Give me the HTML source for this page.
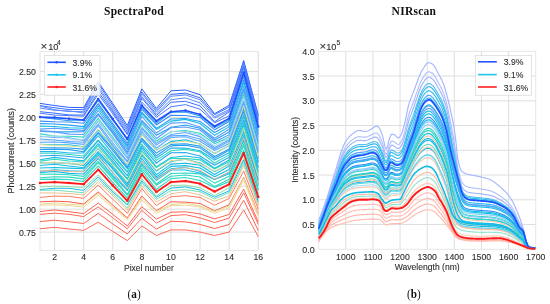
<!DOCTYPE html><html><head><meta charset="utf-8"><style>html,body{margin:0;padding:0;background:#fff;width:550px;height:304px;overflow:hidden}svg{display:block}</style></head><body>
<svg width="550" height="304" viewBox="0 0 550 304" font-family="Liberation Sans, Arial, sans-serif">
<rect width="550" height="304" fill="#fff"/>
<text x="134" y="15" text-anchor="middle" font-family="Liberation Serif, serif" font-weight="bold" font-size="11.5" letter-spacing="0.33" fill="#111">SpectraPod</text>
<text x="413.9" y="15" text-anchor="middle" font-family="Liberation Serif, serif" font-weight="bold" font-size="11.5" letter-spacing="0.25" fill="#111">NIRscan</text>
<g stroke="#dedede" stroke-width="1.0" fill="none">
<line x1="54.55" y1="51.40" x2="54.55" y2="250.40"/>
<line x1="83.65" y1="51.40" x2="83.65" y2="250.40"/>
<line x1="112.75" y1="51.40" x2="112.75" y2="250.40"/>
<line x1="141.85" y1="51.40" x2="141.85" y2="250.40"/>
<line x1="170.95" y1="51.40" x2="170.95" y2="250.40"/>
<line x1="200.05" y1="51.40" x2="200.05" y2="250.40"/>
<line x1="229.15" y1="51.40" x2="229.15" y2="250.40"/>
<line x1="258.25" y1="51.40" x2="258.25" y2="250.40"/>
<line x1="40.00" y1="232.12" x2="258.25" y2="232.12"/>
<line x1="40.00" y1="209.16" x2="258.25" y2="209.16"/>
<line x1="40.00" y1="186.20" x2="258.25" y2="186.20"/>
<line x1="40.00" y1="163.24" x2="258.25" y2="163.24"/>
<line x1="40.00" y1="140.28" x2="258.25" y2="140.28"/>
<line x1="40.00" y1="117.32" x2="258.25" y2="117.32"/>
<line x1="40.00" y1="94.36" x2="258.25" y2="94.36"/>
<line x1="40.00" y1="71.40" x2="258.25" y2="71.40"/>
<rect x="40.00" y="51.40" width="218.25" height="199.00" stroke="#e6e6e6"/>
</g>
<g fill="none" stroke-linejoin="round">
<polyline points="40.00,103.40 54.55,105.50 69.10,107.40 83.65,107.60 98.20,81.80 112.75,103.50 127.30,125.50 141.85,88.90 156.40,108.40 170.95,90.80 185.50,90.00 200.05,94.70 214.60,113.70 229.15,105.30 243.70,60.50 258.25,115.00" stroke="#2a60ff" stroke-width="1.00"/>
<polyline points="40.00,105.61 54.55,107.74 69.10,109.55 83.65,109.56 98.20,83.59 112.75,105.51 127.30,127.89 141.85,91.89 156.40,110.25 170.95,94.38 185.50,93.13 200.05,97.85 214.60,114.68 229.15,107.04 243.70,62.11 258.25,116.52" stroke="#3a70ff" stroke-width="1.00"/>
<polyline points="40.00,105.98 54.55,109.78 69.10,111.62 83.65,111.36 98.20,86.45 112.75,108.09 127.30,129.60 141.85,93.81 156.40,112.05 170.95,96.27 185.50,94.97 200.05,99.78 214.60,116.72 229.15,109.44 243.70,63.99 258.25,118.28" stroke="#5a88ff" stroke-width="1.00"/>
<polyline points="40.00,108.06 54.55,110.29 69.10,110.87 83.65,112.97 98.20,88.57 112.75,110.20 127.30,131.46 141.85,96.60 156.40,113.99 170.95,99.67 185.50,97.93 200.05,102.86 214.60,118.17 229.15,110.93 243.70,65.99 258.25,120.02" stroke="#5a88ff" stroke-width="1.00"/>
<polyline points="40.00,111.73 54.55,113.13 69.10,114.90 83.65,115.08 98.20,91.80 112.75,111.82 127.30,133.74 141.85,98.22 156.40,115.54 170.95,102.25 185.50,101.33 200.05,105.88 214.60,121.80 229.15,111.86 243.70,66.69 258.25,121.90" stroke="#3a70ff" stroke-width="1.00"/>
<polyline points="40.00,113.17 54.55,115.12 69.10,115.60 83.65,116.22 98.20,94.11 112.75,113.78 127.30,134.71 141.85,102.16 156.40,117.25 170.95,106.76 185.50,104.62 200.05,109.21 214.60,122.80 229.15,115.85 243.70,68.32 258.25,124.25" stroke="#4a7cff" stroke-width="1.00"/>
<polyline points="40.00,117.52 54.55,118.96 69.10,120.70 83.65,120.46 98.20,100.49 112.75,119.86 127.30,139.63 141.85,107.01 156.40,123.34 170.95,112.17 185.50,111.99 200.05,116.04 214.60,127.51 229.15,119.98 243.70,73.21 258.25,127.86" stroke="#2a9ef0" stroke-width="1.10"/>
<polyline points="40.00,121.15 54.55,121.79 69.10,122.06 83.65,123.32 98.20,103.69 112.75,123.53 127.30,143.25 141.85,109.15 156.40,125.00 170.95,115.19 185.50,115.44 200.05,117.45 214.60,129.70 229.15,121.49 243.70,76.58 258.25,130.84" stroke="#3a8cf5" stroke-width="1.10"/>
<polyline points="40.00,123.62 54.55,123.98 69.10,125.16 83.65,126.59 98.20,105.71 112.75,125.63 127.30,145.36 141.85,112.20 156.40,128.35 170.95,118.97 185.50,118.48 200.05,121.43 214.60,132.44 229.15,124.62 243.70,80.25 258.25,133.88" stroke="#2a9ef0" stroke-width="1.10"/>
<polyline points="40.00,126.10 54.55,126.46 69.10,127.82 83.65,128.31 98.20,108.05 112.75,127.96 127.30,147.08 141.85,113.59 156.40,129.47 170.95,121.11 185.50,119.36 200.05,123.52 214.60,135.34 229.15,126.86 243.70,82.53 258.25,134.59" stroke="#16bde8" stroke-width="1.10"/>
<polyline points="40.00,129.12 54.55,128.25 69.10,129.40 83.65,130.34 98.20,110.52 112.75,130.34 127.30,149.44 141.85,116.32 156.40,132.99 170.95,123.08 185.50,122.47 200.05,127.07 214.60,138.30 229.15,129.31 243.70,86.27 258.25,137.34" stroke="#5a9cff" stroke-width="1.10"/>
<polyline points="40.00,130.85 54.55,131.58 69.10,131.91 83.65,131.66 98.20,113.70 112.75,132.13 127.30,152.08 141.85,120.42 156.40,135.15 170.95,127.17 185.50,125.00 200.05,128.32 214.60,140.05 229.15,132.00 243.70,89.57 258.25,141.46" stroke="#2a9ef0" stroke-width="1.10"/>
<polyline points="40.00,131.56 54.55,131.84 69.10,134.14 83.65,134.47 98.20,114.91 112.75,133.69 127.30,154.12 141.85,121.98 156.40,138.45 170.95,127.74 185.50,127.00 200.05,130.06 214.60,141.98 229.15,134.65 243.70,90.86 258.25,143.86" stroke="#5a9cff" stroke-width="1.10"/>
<polyline points="40.00,133.86 54.55,135.94 69.10,136.23 83.65,137.15 98.20,118.41 112.75,137.28 127.30,156.65 141.85,123.65 156.40,141.00 170.95,131.77 185.50,130.50 200.05,133.25 214.60,143.67 229.15,136.88 243.70,94.49 258.25,145.77" stroke="#2fd8c0" stroke-width="1.10"/>
<polyline points="40.00,136.29 54.55,137.50 69.10,137.80 83.65,140.47 98.20,121.14 112.75,139.34 127.30,158.28 141.85,127.37 156.40,143.20 170.95,134.44 185.50,132.44 200.05,136.64 214.60,147.48 229.15,139.80 243.70,97.19 258.25,148.96" stroke="#5aa8ff" stroke-width="1.10"/>
<polyline points="40.00,139.04 54.55,140.07 69.10,141.49 83.65,142.28 98.20,124.04 112.75,142.74 127.30,161.31 141.85,128.85 156.40,145.12 170.95,135.78 185.50,135.33 200.05,138.95 214.60,148.95 229.15,141.24 243.70,101.38 258.25,151.47" stroke="#5aa8ff" stroke-width="1.10"/>
<polyline points="40.00,142.21 54.55,141.97 69.10,142.92 83.65,144.35 98.20,125.76 112.75,145.24 127.30,161.89 141.85,131.69 156.40,148.21 170.95,137.42 185.50,136.70 200.05,141.18 214.60,150.57 229.15,143.49 243.70,103.02 258.25,152.84" stroke="#5aa8ff" stroke-width="1.10"/>
<polyline points="40.00,144.34 54.55,144.75 69.10,144.74 83.65,146.89 98.20,129.82 112.75,146.38 127.30,165.34 141.85,134.19 156.40,150.38 170.95,141.58 185.50,139.80 200.05,143.93 214.60,153.53 229.15,145.60 243.70,106.47 258.25,156.63" stroke="#16bde8" stroke-width="1.10"/>
<polyline points="40.00,147.69 54.55,147.88 69.10,148.06 83.65,149.17 98.20,132.38 112.75,148.41 127.30,167.60 141.85,138.30 156.40,153.04 170.95,144.37 185.50,143.81 200.05,146.12 214.60,156.53 229.15,149.05 243.70,108.84 258.25,158.73" stroke="#2a9ef0" stroke-width="1.10"/>
<polyline points="40.00,149.45 54.55,149.21 69.10,149.66 83.65,151.70 98.20,133.14 112.75,150.68 127.30,168.55 141.85,138.82 156.40,155.80 170.95,145.89 185.50,145.10 200.05,147.92 214.60,158.18 229.15,150.20 243.70,111.51 258.25,161.94" stroke="#2a9ef0" stroke-width="1.10"/>
<polyline points="40.00,151.67 54.55,151.56 69.10,153.04 83.65,152.84 98.20,135.72 112.75,153.79 127.30,171.75 141.85,140.89 156.40,157.92 170.95,148.15 185.50,147.96 200.05,150.80 214.60,160.07 229.15,152.71 243.70,115.19 258.25,162.88" stroke="#22b4ee" stroke-width="1.10"/>
<polyline points="40.00,153.31 54.55,153.18 69.10,154.43 83.65,155.94 98.20,140.01 112.75,155.96 127.30,172.26 141.85,144.28 156.40,160.40 170.95,150.76 185.50,149.36 200.05,151.70 214.60,163.00 229.15,154.87 243.70,117.88 258.25,166.84" stroke="#2fd8c0" stroke-width="1.10"/>
<polyline points="40.00,156.03 54.55,155.32 69.10,156.45 83.65,157.99 98.20,140.76 112.75,158.33 127.30,175.57 141.85,146.27 156.40,163.02 170.95,152.73 185.50,152.47 200.05,156.05 214.60,165.19 229.15,157.24 243.70,120.51 258.25,167.71" stroke="#2aa8f0" stroke-width="1.10"/>
<polyline points="40.00,159.71 54.55,157.37 69.10,159.19 83.65,160.88 98.20,143.63 112.75,161.21 127.30,178.67 141.85,148.26 156.40,166.93 170.95,157.45 185.50,156.04 200.05,158.06 214.60,168.29 229.15,160.00 243.70,123.82 258.25,170.60" stroke="#16bde8" stroke-width="1.10"/>
<polyline points="40.00,161.09 54.55,159.22 69.10,160.94 83.65,161.96 98.20,145.67 112.75,163.21 127.30,179.44 141.85,150.93 156.40,167.54 170.95,158.36 185.50,158.48 200.05,159.83 214.60,168.99 229.15,161.70 243.70,126.27 258.25,172.95" stroke="#2fd8c0" stroke-width="1.10"/>
<polyline points="40.00,162.82 54.55,162.75 69.10,163.39 83.65,165.53 98.20,148.28 112.75,166.17 127.30,182.91 141.85,153.95 156.40,171.03 170.95,161.40 185.50,159.30 200.05,163.04 214.60,171.65 229.15,164.09 243.70,129.83 258.25,175.38" stroke="#16bde8" stroke-width="1.10"/>
<polyline points="40.00,165.52 54.55,164.22 69.10,165.93 83.65,167.82 98.20,151.58 112.75,168.02 127.30,184.61 141.85,155.54 156.40,174.60 170.95,164.09 185.50,163.25 200.05,165.21 214.60,174.51 229.15,166.08 243.70,132.58 258.25,179.16" stroke="#16bde8" stroke-width="1.10"/>
<polyline points="40.00,168.06 54.55,167.44 69.10,168.12 83.65,168.80 98.20,153.37 112.75,168.99 127.30,186.70 141.85,158.50 156.40,176.80 170.95,166.42 185.50,165.59 200.05,167.94 214.60,176.69 229.15,169.39 243.70,135.61 258.25,181.15" stroke="#16bde8" stroke-width="1.10"/>
<polyline points="40.00,171.27 54.55,169.78 69.10,170.71 83.65,171.26 98.20,155.36 112.75,172.44 127.30,189.80 141.85,161.42 156.40,178.49 170.95,168.86 185.50,167.42 200.05,171.34 214.60,179.35 229.15,172.48 243.70,138.37 258.25,183.41" stroke="#16bde8" stroke-width="1.10"/>
<polyline points="40.00,172.61 54.55,171.40 69.10,173.34 83.65,174.02 98.20,158.50 112.75,175.27 127.30,190.37 141.85,163.79 156.40,180.35 170.95,170.02 185.50,170.03 200.05,172.98 214.60,179.55 229.15,173.67 243.70,140.52 258.25,185.84" stroke="#16bde8" stroke-width="1.10"/>
<polyline points="40.00,174.18 54.55,174.09 69.10,174.82 83.65,176.35 98.20,161.29 112.75,176.92 127.30,194.46 141.85,165.58 156.40,183.97 170.95,173.53 185.50,172.95 200.05,173.89 214.60,183.15 229.15,176.24 243.70,143.64 258.25,189.62" stroke="#2fd8c0" stroke-width="1.10"/>
<polyline points="40.00,177.69 54.55,176.73 69.10,177.13 83.65,178.89 98.20,162.69 112.75,178.82 127.30,195.12 141.85,168.25 156.40,185.26 170.95,176.24 185.50,175.03 200.05,177.06 214.60,186.40 229.15,179.37 243.70,145.74 258.25,190.13" stroke="#2fd8c0" stroke-width="1.10"/>
<polyline points="40.00,179.42 54.55,179.08 69.10,179.56 83.65,181.42 98.20,165.89 112.75,182.47 127.30,198.05 141.85,170.65 156.40,189.46 170.95,178.67 185.50,177.49 200.05,180.46 214.60,187.49 229.15,181.63 243.70,150.30 258.25,194.07" stroke="#2fd8c0" stroke-width="1.10"/>
<polyline points="40.00,186.83 54.55,186.13 69.10,186.66 83.65,187.69 98.20,174.80 112.75,190.13 127.30,203.96 141.85,178.75 156.40,195.96 170.95,185.51 185.50,185.10 200.05,187.89 214.60,195.43 229.15,187.91 243.70,158.37 258.25,200.10" stroke="#8fe0a8" stroke-width="1.00"/>
<polyline points="40.00,189.52 54.55,188.26 69.10,188.35 83.65,190.34 98.20,176.90 112.75,191.75 127.30,204.91 141.85,180.87 156.40,197.34 170.95,188.08 185.50,186.92 200.05,190.00 214.60,197.11 229.15,190.92 243.70,160.22 258.25,201.63" stroke="#16bde8" stroke-width="1.00"/>
<polyline points="40.00,190.35 54.55,190.07 69.10,191.48 83.65,192.69 98.20,179.35 112.75,193.59 127.30,207.93 141.85,182.84 156.40,199.34 170.95,190.59 185.50,189.61 200.05,191.77 214.60,198.99 229.15,192.51 243.70,163.44 258.25,204.35" stroke="#6fe0b8" stroke-width="1.00"/>
<polyline points="40.00,192.93 54.55,192.99 69.10,193.57 83.65,194.87 98.20,182.03 112.75,195.58 127.30,209.89 141.85,185.82 156.40,201.95 170.95,193.72 185.50,191.70 200.05,194.81 214.60,201.26 229.15,195.65 243.70,165.57 258.25,205.92" stroke="#f0c090" stroke-width="1.00"/>
<polyline points="40.00,197.36 54.55,196.11 69.10,196.35 83.65,198.42 98.20,185.06 112.75,199.25 127.30,213.18 141.85,188.71 156.40,205.41 170.95,196.71 185.50,195.69 200.05,197.46 214.60,205.22 229.15,198.44 243.70,170.96 258.25,209.32" stroke="#ff7a5c" stroke-width="1.00"/>
<polyline points="40.00,201.89 54.55,201.16 69.10,201.81 83.65,203.97 98.20,191.90 112.75,205.04 127.30,217.89 141.85,196.04 156.40,210.78 170.95,201.76 185.50,202.15 200.05,203.47 214.60,210.80 229.15,204.81 243.70,177.35 258.25,213.82" stroke="#ff5a48" stroke-width="1.00"/>
<polyline points="40.00,204.39 54.55,202.80 69.10,204.46 83.65,205.07 98.20,193.14 112.75,206.18 127.30,218.92 141.85,197.56 156.40,211.54 170.95,204.74 185.50,203.34 200.05,205.99 214.60,211.57 229.15,205.96 243.70,177.70 258.25,214.70" stroke="#ecd890" stroke-width="1.00"/>
<polyline points="40.00,204.97 54.55,204.83 69.10,205.45 83.65,207.21 98.20,195.23 112.75,207.75 127.30,219.68 141.85,199.79 156.40,213.49 170.95,205.50 185.50,205.29 200.05,206.93 214.60,213.24 229.15,207.70 243.70,180.60 258.25,216.45" stroke="#f0d898" stroke-width="1.00"/>
<polyline points="40.00,211.58 54.55,209.95 69.10,211.70 83.65,213.59 98.20,203.08 112.75,214.33 127.30,225.94 141.85,206.68 156.40,219.15 170.95,212.20 185.50,211.81 200.05,213.91 214.60,218.93 229.15,214.42 243.70,189.10 258.25,221.80" stroke="#ff6450" stroke-width="1.00"/>
<polyline points="40.00,214.37 54.55,213.19 69.10,214.32 83.65,216.62 98.20,206.93 112.75,217.75 127.30,228.79 141.85,210.37 156.40,223.01 170.95,215.63 185.50,214.67 200.05,217.89 214.60,222.51 229.15,218.12 243.70,192.84 258.25,224.39" stroke="#ff6a58" stroke-width="1.00"/>
<polyline points="40.00,221.62 54.55,220.14 69.10,221.81 83.65,223.51 98.20,213.36 112.75,223.91 127.30,233.90 141.85,218.31 156.40,229.11 170.95,221.24 185.50,221.88 200.05,224.40 214.60,228.56 229.15,224.49 243.70,200.22 258.25,230.57" stroke="#ff6450" stroke-width="1.00"/>
<polyline points="40.00,228.80 54.55,227.30 69.10,229.00 83.65,230.40 98.20,222.20 112.75,231.40 127.30,240.60 141.85,226.00 156.40,235.50 170.95,229.90 185.50,229.90 200.05,232.10 214.60,235.50 229.15,232.10 243.70,210.00 258.25,236.60" stroke="#ff6a58" stroke-width="1.00"/>
<polyline points="40.00,163.09 54.55,162.15 69.10,163.73 83.65,164.41 98.20,148.46 112.75,165.12 127.30,182.10 141.85,153.17 156.40,170.11 170.95,160.78 185.50,159.37 200.05,163.67 214.60,171.17 229.15,164.52 243.70,128.87 258.25,176.54" stroke="#e8d890" stroke-width="1.00"/>
<polyline points="40.00,144.47 54.55,145.34 69.10,146.05 83.65,147.00 98.20,128.95 112.75,147.26 127.30,164.75 141.85,134.27 156.40,150.42 170.95,142.75 185.50,141.24 200.05,144.05 214.60,153.49 229.15,145.10 243.70,106.38 258.25,157.20" stroke="#e4e08c" stroke-width="1.00"/>
<polyline points="40.00,137.05 54.55,135.53 69.10,138.84 83.65,139.50 98.20,120.63 112.75,139.26 127.30,156.45 141.85,126.13 156.40,142.44 170.95,131.52 185.50,131.57 200.05,134.80 214.60,145.65 229.15,137.97 243.70,96.83 258.25,147.26" stroke="#a8d8f0" stroke-width="1.00"/>
<polyline points="40.00,170.93 54.55,170.48 69.10,171.51 83.65,171.84 98.20,156.73 112.75,172.29 127.30,188.82 141.85,161.42 156.40,179.22 170.95,169.54 185.50,167.55 200.05,170.36 214.60,179.19 229.15,171.92 243.70,137.96 258.25,184.04" stroke="#f2b890" stroke-width="1.00"/>
<polyline points="40.00,117.00 54.55,117.60 69.10,118.80 83.65,120.00 98.20,98.90 112.75,119.00 127.30,139.00 141.85,105.50 156.40,121.00 170.95,111.80 185.50,110.50 200.05,114.50 214.60,126.30 229.15,118.40 243.70,72.40 258.25,126.50" stroke="#1f4fff" stroke-width="1.6"/>
<circle cx="40.00" cy="117.00" r="1.25" fill="#1f4fff" stroke="none"/>
<circle cx="54.55" cy="117.60" r="1.25" fill="#1f4fff" stroke="none"/>
<circle cx="69.10" cy="118.80" r="1.25" fill="#1f4fff" stroke="none"/>
<circle cx="83.65" cy="120.00" r="1.25" fill="#1f4fff" stroke="none"/>
<circle cx="98.20" cy="98.90" r="1.25" fill="#1f4fff" stroke="none"/>
<circle cx="112.75" cy="119.00" r="1.25" fill="#1f4fff" stroke="none"/>
<circle cx="127.30" cy="139.00" r="1.25" fill="#1f4fff" stroke="none"/>
<circle cx="141.85" cy="105.50" r="1.25" fill="#1f4fff" stroke="none"/>
<circle cx="156.40" cy="121.00" r="1.25" fill="#1f4fff" stroke="none"/>
<circle cx="170.95" cy="111.80" r="1.25" fill="#1f4fff" stroke="none"/>
<circle cx="185.50" cy="110.50" r="1.25" fill="#1f4fff" stroke="none"/>
<circle cx="200.05" cy="114.50" r="1.25" fill="#1f4fff" stroke="none"/>
<circle cx="214.60" cy="126.30" r="1.25" fill="#1f4fff" stroke="none"/>
<circle cx="229.15" cy="118.40" r="1.25" fill="#1f4fff" stroke="none"/>
<circle cx="243.70" cy="72.40" r="1.25" fill="#1f4fff" stroke="none"/>
<circle cx="258.25" cy="126.50" r="1.25" fill="#1f4fff" stroke="none"/>
<polyline points="40.00,182.90 54.55,182.10 69.10,183.00 83.65,184.20 98.20,169.70 112.75,185.30 127.30,200.80 141.85,174.20 156.40,192.10 170.95,182.10 185.50,181.00 200.05,183.70 214.60,191.60 229.15,184.20 243.70,153.20 258.25,197.00" stroke="#ff1a1a" stroke-width="1.8"/>
<circle cx="40.00" cy="182.90" r="1.25" fill="#ff1a1a" stroke="none"/>
<circle cx="54.55" cy="182.10" r="1.25" fill="#ff1a1a" stroke="none"/>
<circle cx="69.10" cy="183.00" r="1.25" fill="#ff1a1a" stroke="none"/>
<circle cx="83.65" cy="184.20" r="1.25" fill="#ff1a1a" stroke="none"/>
<circle cx="98.20" cy="169.70" r="1.25" fill="#ff1a1a" stroke="none"/>
<circle cx="112.75" cy="185.30" r="1.25" fill="#ff1a1a" stroke="none"/>
<circle cx="127.30" cy="200.80" r="1.25" fill="#ff1a1a" stroke="none"/>
<circle cx="141.85" cy="174.20" r="1.25" fill="#ff1a1a" stroke="none"/>
<circle cx="156.40" cy="192.10" r="1.25" fill="#ff1a1a" stroke="none"/>
<circle cx="170.95" cy="182.10" r="1.25" fill="#ff1a1a" stroke="none"/>
<circle cx="185.50" cy="181.00" r="1.25" fill="#ff1a1a" stroke="none"/>
<circle cx="200.05" cy="183.70" r="1.25" fill="#ff1a1a" stroke="none"/>
<circle cx="214.60" cy="191.60" r="1.25" fill="#ff1a1a" stroke="none"/>
<circle cx="229.15" cy="184.20" r="1.25" fill="#ff1a1a" stroke="none"/>
<circle cx="243.70" cy="153.20" r="1.25" fill="#ff1a1a" stroke="none"/>
<circle cx="258.25" cy="197.00" r="1.25" fill="#ff1a1a" stroke="none"/>
</g>
<g font-size="9.2" fill="#2e2e2e" stroke="#2e2e2e" stroke-width="0.12">
<text transform="translate(35.90,235.72) scale(0.910,1)" text-anchor="end" font-size="9.60">0.75</text>
<text transform="translate(35.90,212.76) scale(0.910,1)" text-anchor="end" font-size="9.60">1.00</text>
<text transform="translate(35.90,189.80) scale(0.910,1)" text-anchor="end" font-size="9.60">1.25</text>
<text transform="translate(35.90,166.84) scale(0.910,1)" text-anchor="end" font-size="9.60">1.50</text>
<text transform="translate(35.90,143.88) scale(0.910,1)" text-anchor="end" font-size="9.60">1.75</text>
<text transform="translate(35.90,120.92) scale(0.910,1)" text-anchor="end" font-size="9.60">2.00</text>
<text transform="translate(35.90,97.96) scale(0.910,1)" text-anchor="end" font-size="9.60">2.25</text>
<text transform="translate(35.90,75.00) scale(0.910,1)" text-anchor="end" font-size="9.60">2.50</text>
<text transform="translate(54.55,260.10) scale(0.910,1)" text-anchor="middle" font-size="9.60">2</text>
<text transform="translate(83.65,260.10) scale(0.910,1)" text-anchor="middle" font-size="9.60">4</text>
<text transform="translate(112.75,260.10) scale(0.910,1)" text-anchor="middle" font-size="9.60">6</text>
<text transform="translate(141.85,260.10) scale(0.910,1)" text-anchor="middle" font-size="9.60">8</text>
<text transform="translate(170.95,260.10) scale(0.910,1)" text-anchor="middle" font-size="9.60">10</text>
<text transform="translate(200.05,260.10) scale(0.910,1)" text-anchor="middle" font-size="9.60">12</text>
<text transform="translate(229.15,260.10) scale(0.910,1)" text-anchor="middle" font-size="9.60">14</text>
<text transform="translate(258.25,260.10) scale(0.910,1)" text-anchor="middle" font-size="9.60">16</text>
<text transform="translate(148.90,271.20) scale(0.905,1)" text-anchor="middle" font-size="9.45">Pixel number</text>
<text transform="translate(14.20,150.80) rotate(-90) scale(0.940,1)" text-anchor="middle" font-size="9.45">Photocurrent (counts)</text>
<text x="40.6" y="49.8" font-size="11.5">×</text><text x="48.2" y="49.6">10</text><text x="57" y="44.8" font-size="6.8">4</text>
</g>
<g stroke="#dedede" stroke-width="1.0" fill="none">
<line x1="345.80" y1="51.30" x2="345.80" y2="249.30"/>
<line x1="372.93" y1="51.30" x2="372.93" y2="249.30"/>
<line x1="400.06" y1="51.30" x2="400.06" y2="249.30"/>
<line x1="427.19" y1="51.30" x2="427.19" y2="249.30"/>
<line x1="454.32" y1="51.30" x2="454.32" y2="249.30"/>
<line x1="481.45" y1="51.30" x2="481.45" y2="249.30"/>
<line x1="508.58" y1="51.30" x2="508.58" y2="249.30"/>
<line x1="318.67" y1="224.55" x2="535.70" y2="224.55"/>
<line x1="318.67" y1="199.80" x2="535.70" y2="199.80"/>
<line x1="318.67" y1="175.05" x2="535.70" y2="175.05"/>
<line x1="318.67" y1="150.30" x2="535.70" y2="150.30"/>
<line x1="318.67" y1="125.55" x2="535.70" y2="125.55"/>
<line x1="318.67" y1="100.80" x2="535.70" y2="100.80"/>
<line x1="318.67" y1="76.05" x2="535.70" y2="76.05"/>
<rect x="318.67" y="51.30" width="217.03" height="198.00" stroke="#e6e6e6"/>
</g>
<g fill="none" stroke-linejoin="round">
<path d="M318.7,220.59 L319.5,218.45 L320.3,216.29 L321.1,214.11 L321.9,211.92 L322.7,209.70 L323.6,207.48 L324.4,205.27 L325.2,203.02 L326.0,200.72 L326.8,198.31 L327.6,195.77 L328.4,193.08 L329.3,190.34 L330.1,187.60 L330.9,184.95 L331.7,182.40 L332.5,179.91 L333.3,177.43 L334.1,174.91 L334.9,172.32 L335.8,169.68 L336.6,167.00 L337.4,164.32 L338.2,161.69 L339.0,159.00 L339.8,156.25 L340.6,153.56 L341.5,151.04 L342.3,148.82 L343.1,146.83 L343.9,144.96 L344.7,143.24 L345.5,141.71 L346.3,140.40 L347.2,139.26 L348.0,138.22 L348.8,137.27 L349.6,136.41 L350.4,135.64 L351.2,134.96 L352.0,134.30 L352.9,133.64 L353.7,132.99 L354.5,132.37 L355.3,131.80 L356.1,131.31 L356.9,130.92 L357.7,130.64 L358.6,130.51 L359.4,130.52 L360.2,130.61 L361.0,130.76 L361.8,130.93 L362.6,131.12 L363.4,131.29 L364.2,131.42 L365.1,131.48 L365.9,131.46 L366.7,131.30 L367.5,131.03 L368.3,130.67 L369.1,130.24 L369.9,129.77 L370.8,129.28 L371.6,128.78 L372.4,128.31 L373.2,127.87 L374.0,127.31 L374.8,126.71 L375.6,126.24 L376.5,126.05 L377.3,126.26 L378.1,126.81 L378.9,127.53 L379.7,128.65 L380.5,130.35 L381.3,132.43 L382.2,134.69 L383.0,137.32 L383.8,141.04 L384.6,144.96 L385.4,148.05 L386.2,149.31 L387.0,147.90 L387.9,144.69 L388.7,141.18 L389.5,138.71 L390.3,136.52 L391.1,134.72 L391.9,133.97 L392.7,134.10 L393.5,134.42 L394.4,134.82 L395.2,135.31 L396.0,136.09 L396.8,136.95 L397.6,137.64 L398.4,137.93 L399.2,137.50 L400.1,136.43 L400.9,134.99 L401.7,133.41 L402.5,131.25 L403.3,128.55 L404.1,125.57 L404.9,122.35 L405.8,118.50 L406.6,114.35 L407.4,110.30 L408.2,106.75 L409.0,103.92 L409.8,101.40 L410.6,99.08 L411.5,96.93 L412.3,94.87 L413.1,92.85 L413.9,90.81 L414.7,88.70 L415.5,86.49 L416.3,84.24 L417.2,81.97 L418.0,79.74 L418.8,77.59 L419.6,75.56 L420.4,73.70 L421.2,72.06 L422.0,70.65 L422.8,69.26 L423.7,67.86 L424.5,66.53 L425.3,65.30 L426.1,64.24 L426.9,63.42 L427.7,62.88 L428.5,62.69 L429.4,62.76 L430.2,62.98 L431.0,63.31 L431.8,63.71 L432.6,64.17 L433.4,64.86 L434.2,65.94 L435.1,67.30 L435.9,68.83 L436.7,70.46 L437.5,72.06 L438.3,73.57 L439.1,75.02 L439.9,76.49 L440.8,78.01 L441.6,79.62 L442.4,81.37 L443.2,83.28 L444.0,85.45 L444.8,87.95 L445.6,90.74 L446.5,93.74 L447.3,96.89 L448.1,100.12 L448.9,103.37 L449.7,106.70 L450.5,110.18 L451.3,113.86 L452.1,117.80 L453.0,122.06 L453.8,126.69 L454.6,131.78 L455.4,137.40 L456.2,144.31 L457.0,152.83 L457.8,159.21 L458.7,162.92 L459.5,166.07 L460.3,168.57 L461.1,170.35 L461.9,171.36 L462.7,172.05 L463.5,172.59 L464.4,173.02 L465.2,173.36 L466.0,173.66 L466.8,173.93 L467.6,174.18 L468.4,174.40 L469.2,174.61 L470.1,174.80 L470.9,174.98 L471.7,175.14 L472.5,175.30 L473.3,175.45 L474.1,175.59 L474.9,175.73 L475.8,175.87 L476.6,176.01 L477.4,176.16 L478.2,176.31 L479.0,176.47 L479.8,176.65 L480.6,176.83 L481.5,177.03 L482.3,177.24 L483.1,177.44 L483.9,177.64 L484.7,177.85 L485.5,178.07 L486.3,178.29 L487.1,178.54 L488.0,178.80 L488.8,179.08 L489.6,179.39 L490.4,179.74 L491.2,180.15 L492.0,180.61 L492.8,181.12 L493.7,181.67 L494.5,182.26 L495.3,182.87 L496.1,183.52 L496.9,184.18 L497.7,184.85 L498.5,185.53 L499.4,186.21 L500.2,186.89 L501.0,187.58 L501.8,188.28 L502.6,189.01 L503.4,189.76 L504.2,190.54 L505.1,191.35 L505.9,192.20 L506.7,193.09 L507.5,194.02 L508.3,195.01 L509.1,196.06 L509.9,197.21 L510.8,198.47 L511.6,199.81 L512.4,201.24 L513.2,202.75 L514.0,204.36 L514.8,206.17 L515.6,208.09 L516.4,210.05 L517.3,211.95 L518.1,213.81 L518.9,215.70 L519.7,217.68 L520.5,219.83 L521.3,222.23 L522.1,224.96 L523.0,227.86 L523.8,230.74 L524.6,233.85 L525.4,237.28 L526.2,240.58 L527.0,243.33 L527.8,245.09 L528.7,246.14 L529.5,246.93 L530.3,247.32 L531.1,247.46 L531.9,247.57 L532.7,247.67 L533.5,247.74 L534.4,247.78 L535.2,247.81" stroke="#a4b6ff" stroke-width="1.15" opacity="1.00"/>
<path d="M318.7,222.53 L319.5,220.43 L320.3,218.30 L321.1,216.15 L321.9,213.97 L322.7,211.77 L323.6,209.55 L324.4,207.31 L325.2,205.04 L326.0,202.73 L326.8,200.38 L327.6,197.94 L328.4,195.41 L329.3,192.85 L330.1,190.30 L330.9,187.82 L331.7,185.42 L332.5,183.05 L333.3,180.70 L334.1,178.33 L334.9,175.90 L335.8,173.42 L336.6,170.92 L337.4,168.40 L338.2,165.88 L339.0,163.34 L339.8,160.78 L340.6,158.28 L341.5,155.93 L342.3,153.81 L343.1,151.91 L343.9,150.16 L344.7,148.57 L345.5,147.16 L346.3,145.93 L347.2,144.85 L348.0,143.85 L348.8,142.93 L349.6,142.07 L350.4,141.30 L351.2,140.63 L352.0,140.02 L352.9,139.42 L353.7,138.85 L354.5,138.32 L355.3,137.83 L356.1,137.41 L356.9,137.07 L357.7,136.83 L358.6,136.70 L359.4,136.67 L360.2,136.71 L361.0,136.80 L361.8,136.90 L362.6,137.01 L363.4,137.11 L364.2,137.17 L365.1,137.18 L365.9,137.11 L366.7,136.94 L367.5,136.67 L368.3,136.33 L369.1,135.95 L369.9,135.53 L370.8,135.11 L371.6,134.70 L372.4,134.32 L373.2,133.99 L374.0,133.62 L374.8,133.26 L375.6,133.03 L376.5,133.02 L377.3,133.43 L378.1,134.17 L378.9,135.10 L379.7,136.35 L380.5,138.04 L381.3,139.98 L382.2,142.14 L383.0,144.60 L383.8,147.84 L384.6,151.07 L385.4,153.47 L386.2,154.41 L387.0,153.27 L387.9,150.48 L388.7,147.31 L389.5,144.92 L390.3,142.90 L391.1,141.46 L391.9,140.96 L392.7,141.18 L393.5,141.57 L394.4,142.03 L395.2,142.53 L396.0,143.21 L396.8,143.87 L397.6,144.37 L398.4,144.55 L399.2,144.17 L400.1,143.28 L400.9,142.10 L401.7,140.79 L402.5,138.89 L403.3,136.43 L404.1,133.67 L404.9,130.70 L405.8,127.28 L406.6,123.63 L407.4,120.02 L408.2,116.77 L409.0,114.05 L409.8,111.58 L410.6,109.29 L411.5,107.12 L412.3,105.02 L413.1,102.94 L413.9,100.80 L414.7,98.53 L415.5,96.16 L416.3,93.77 L417.2,91.40 L418.0,89.05 L418.8,86.78 L419.6,84.63 L420.4,82.67 L421.2,80.95 L422.0,79.49 L422.8,78.07 L423.7,76.69 L424.5,75.39 L425.3,74.24 L426.1,73.30 L426.9,72.55 L427.7,72.04 L428.5,71.82 L429.4,71.86 L430.2,72.08 L431.0,72.48 L431.8,72.98 L432.6,73.53 L433.4,74.26 L434.2,75.33 L435.1,76.63 L435.9,78.08 L436.7,79.61 L437.5,81.12 L438.3,82.57 L439.1,84.00 L439.9,85.46 L440.8,87.00 L441.6,88.65 L442.4,90.43 L443.2,92.38 L444.0,94.56 L444.8,97.04 L445.6,99.78 L446.5,102.79 L447.3,106.20 L448.1,109.90 L448.9,113.77 L449.7,117.75 L450.5,121.81 L451.3,126.04 L452.1,130.45 L453.0,135.05 L453.8,139.86 L454.6,144.89 L455.4,150.14 L456.2,155.99 L457.0,162.56 L457.8,167.78 L458.7,171.44 L459.5,174.72 L460.3,177.60 L461.1,180.13 L461.9,182.04 L462.7,183.35 L463.5,184.35 L464.4,185.15 L465.2,185.73 L466.0,186.15 L466.8,186.52 L467.6,186.84 L468.4,187.11 L469.2,187.32 L470.1,187.48 L470.9,187.63 L471.7,187.76 L472.5,187.88 L473.3,188.00 L474.1,188.10 L474.9,188.21 L475.8,188.30 L476.6,188.40 L477.4,188.50 L478.2,188.60 L479.0,188.71 L479.8,188.83 L480.6,188.95 L481.5,189.09 L482.3,189.23 L483.1,189.37 L483.9,189.51 L484.7,189.65 L485.5,189.80 L486.3,189.95 L487.1,190.11 L488.0,190.28 L488.8,190.47 L489.6,190.67 L490.4,190.90 L491.2,191.17 L492.0,191.46 L492.8,191.79 L493.7,192.17 L494.5,192.58 L495.3,193.03 L496.1,193.50 L496.9,194.00 L497.7,194.52 L498.5,195.04 L499.4,195.57 L500.2,196.10 L501.0,196.64 L501.8,197.19 L502.6,197.77 L503.4,198.37 L504.2,198.99 L505.1,199.65 L505.9,200.34 L506.7,201.06 L507.5,201.83 L508.3,202.64 L509.1,203.52 L509.9,204.50 L510.8,205.57 L511.6,206.73 L512.4,207.97 L513.2,209.27 L514.0,210.67 L514.8,212.29 L515.6,214.08 L516.4,215.94 L517.3,217.77 L518.1,219.54 L518.9,221.21 L519.7,222.78 L520.5,224.24 L521.3,225.73 L522.1,227.40 L523.0,229.31 L523.8,231.79 L524.6,234.94 L525.4,238.29 L526.2,241.14 L527.0,243.61 L527.8,245.44 L528.7,246.54 L529.5,247.07 L530.3,247.35 L531.1,247.49 L531.9,247.60 L532.7,247.69 L533.5,247.75 L534.4,247.79 L535.2,247.81" stroke="#b0c0ff" stroke-width="1.15" opacity="1.00"/>
<path d="M318.7,223.70 L319.5,221.61 L320.3,219.50 L321.1,217.36 L321.9,215.19 L322.7,213.00 L323.6,210.78 L324.4,208.53 L325.2,206.24 L326.0,203.94 L326.8,201.62 L327.6,199.24 L328.4,196.81 L329.3,194.35 L330.1,191.92 L330.9,189.53 L331.7,187.22 L332.5,184.93 L333.3,182.66 L334.1,180.37 L334.9,178.04 L335.8,175.67 L336.6,173.26 L337.4,170.83 L338.2,168.40 L339.0,165.94 L339.8,163.48 L340.6,161.11 L341.5,158.85 L342.3,156.80 L343.1,154.95 L343.9,153.27 L344.7,151.76 L345.5,150.41 L346.3,149.24 L347.2,148.20 L348.0,147.23 L348.8,146.31 L349.6,145.46 L350.4,144.69 L351.2,144.02 L352.0,143.44 L352.9,142.88 L353.7,142.36 L354.5,141.88 L355.3,141.44 L356.1,141.06 L356.9,140.76 L357.7,140.53 L358.6,140.39 L359.4,140.35 L360.2,140.36 L361.0,140.41 L361.8,140.47 L362.6,140.53 L363.4,140.59 L364.2,140.61 L365.1,140.59 L365.9,140.49 L366.7,140.31 L367.5,140.04 L368.3,139.72 L369.1,139.36 L369.9,138.98 L370.8,138.60 L371.6,138.24 L372.4,137.92 L373.2,137.65 L374.0,137.39 L374.8,137.17 L375.6,137.08 L376.5,137.20 L377.3,137.71 L378.1,138.57 L378.9,139.62 L379.7,140.95 L380.5,142.63 L381.3,144.50 L382.2,146.59 L383.0,148.95 L383.8,151.90 L384.6,154.72 L385.4,156.70 L386.2,157.46 L387.0,156.48 L387.9,153.94 L388.7,150.97 L389.5,148.64 L390.3,146.72 L391.1,145.50 L391.9,145.14 L392.7,145.41 L393.5,145.85 L394.4,146.34 L395.2,146.85 L396.0,147.46 L396.8,148.01 L397.6,148.40 L398.4,148.50 L399.2,148.15 L400.1,147.37 L400.9,146.35 L401.7,145.20 L402.5,143.45 L403.3,141.14 L404.1,138.52 L404.9,135.70 L405.8,132.53 L406.6,129.18 L407.4,125.84 L408.2,122.76 L409.0,120.11 L409.8,117.67 L410.6,115.38 L411.5,113.21 L412.3,111.09 L413.1,108.96 L413.9,106.77 L414.7,104.41 L415.5,101.93 L416.3,99.47 L417.2,97.04 L418.0,94.62 L418.8,92.27 L419.6,90.05 L420.4,88.03 L421.2,86.27 L422.0,84.78 L422.8,83.34 L423.7,81.96 L424.5,80.69 L425.3,79.59 L426.1,78.71 L426.9,78.01 L427.7,77.52 L428.5,77.29 L429.4,77.29 L430.2,77.52 L431.0,77.96 L431.8,78.52 L432.6,79.12 L433.4,79.88 L434.2,80.94 L435.1,82.21 L435.9,83.61 L436.7,85.08 L437.5,86.54 L438.3,87.95 L439.1,89.37 L439.9,90.83 L440.8,92.38 L441.6,94.05 L442.4,95.85 L443.2,97.82 L444.0,100.00 L444.8,102.47 L445.6,105.19 L446.5,108.21 L447.3,111.72 L448.1,115.61 L448.9,119.71 L449.7,123.90 L450.5,128.09 L451.3,132.42 L452.1,136.87 L453.0,141.46 L453.8,146.17 L454.6,151.01 L455.4,155.94 L456.2,161.18 L457.0,166.81 L457.8,171.45 L458.7,175.04 L459.5,178.33 L460.3,181.34 L461.1,184.14 L461.9,186.41 L462.7,187.96 L463.5,189.16 L464.4,190.11 L465.2,190.78 L466.0,191.26 L466.8,191.67 L467.6,192.02 L468.4,192.30 L469.2,192.51 L470.1,192.66 L470.9,192.80 L471.7,192.92 L472.5,193.03 L473.3,193.13 L474.1,193.22 L474.9,193.30 L475.8,193.38 L476.6,193.46 L477.4,193.54 L478.2,193.62 L479.0,193.71 L479.8,193.80 L480.6,193.91 L481.5,194.02 L482.3,194.14 L483.1,194.25 L483.9,194.36 L484.7,194.47 L485.5,194.59 L486.3,194.71 L487.1,194.84 L488.0,194.97 L488.8,195.12 L489.6,195.28 L490.4,195.46 L491.2,195.67 L492.0,195.90 L492.8,196.15 L493.7,196.46 L494.5,196.80 L495.3,197.18 L496.1,197.59 L496.9,198.02 L497.7,198.47 L498.5,198.93 L499.4,199.40 L500.2,199.87 L501.0,200.34 L501.8,200.84 L502.6,201.35 L503.4,201.88 L504.2,202.45 L505.1,203.04 L505.9,203.66 L506.7,204.32 L507.5,205.02 L508.3,205.77 L509.1,206.57 L509.9,207.47 L510.8,208.47 L511.6,209.55 L512.4,210.71 L513.2,211.94 L514.0,213.25 L514.8,214.79 L515.6,216.52 L516.4,218.34 L517.3,220.15 L518.1,221.88 L518.9,223.47 L519.7,224.86 L520.5,226.04 L521.3,227.16 L522.1,228.40 L523.0,229.91 L523.8,232.22 L524.6,235.39 L525.4,238.70 L526.2,241.37 L527.0,243.72 L527.8,245.58 L528.7,246.70 L529.5,247.12 L530.3,247.36 L531.1,247.50 L531.9,247.61 L532.7,247.70 L533.5,247.76 L534.4,247.80 L535.2,247.81" stroke="#a0b4ff" stroke-width="1.15" opacity="1.00"/>
<path d="M318.7,225.04 L319.5,222.98 L320.3,220.88 L321.1,218.76 L321.9,216.61 L322.7,214.42 L323.6,212.20 L324.4,209.93 L325.2,207.63 L326.0,205.33 L326.8,203.04 L327.6,200.74 L328.4,198.41 L329.3,196.08 L330.1,193.78 L330.9,191.51 L331.7,189.30 L332.5,187.10 L333.3,184.92 L334.1,182.73 L334.9,180.51 L335.8,178.25 L336.6,175.97 L337.4,173.64 L338.2,171.29 L339.0,168.93 L339.8,166.60 L340.6,164.37 L341.5,162.22 L342.3,160.24 L343.1,158.46 L343.9,156.85 L344.7,155.44 L345.5,154.17 L346.3,153.06 L347.2,152.05 L348.0,151.12 L348.8,150.22 L349.6,149.36 L350.4,148.59 L351.2,147.93 L352.0,147.38 L352.9,146.87 L353.7,146.41 L354.5,145.98 L355.3,145.60 L356.1,145.27 L356.9,145.00 L357.7,144.80 L358.6,144.66 L359.4,144.59 L360.2,144.57 L361.0,144.57 L361.8,144.58 L362.6,144.60 L363.4,144.60 L364.2,144.58 L365.1,144.52 L365.9,144.39 L366.7,144.19 L367.5,143.93 L368.3,143.62 L369.1,143.29 L369.9,142.95 L370.8,142.62 L371.6,142.32 L372.4,142.06 L373.2,141.86 L374.0,141.73 L374.8,141.69 L375.6,141.76 L376.5,142.01 L377.3,142.65 L378.1,143.64 L378.9,144.83 L379.7,146.26 L380.5,147.93 L381.3,149.70 L382.2,151.72 L383.0,153.97 L383.8,156.58 L384.6,158.94 L385.4,160.43 L386.2,160.98 L387.0,160.18 L387.9,157.93 L388.7,155.19 L389.5,152.92 L390.3,151.12 L391.1,150.15 L391.9,149.97 L392.7,150.30 L393.5,150.78 L394.4,151.31 L395.2,151.83 L396.0,152.37 L396.8,152.78 L397.6,153.04 L398.4,153.07 L399.2,152.74 L400.1,152.09 L400.9,151.25 L401.7,150.29 L402.5,148.72 L403.3,146.58 L404.1,144.11 L404.9,141.46 L405.8,138.58 L406.6,135.58 L407.4,132.54 L408.2,129.67 L409.0,127.10 L409.8,124.69 L410.6,122.42 L411.5,120.24 L412.3,118.09 L413.1,115.92 L413.9,113.65 L414.7,111.20 L415.5,108.60 L416.3,106.04 L417.2,103.55 L418.0,101.04 L418.8,98.61 L419.6,96.30 L420.4,94.21 L421.2,92.40 L422.0,90.88 L422.8,89.42 L423.7,88.04 L424.5,86.80 L425.3,85.75 L426.1,84.95 L426.9,84.31 L427.7,83.84 L428.5,83.59 L429.4,83.56 L430.2,83.80 L431.0,84.28 L431.8,84.91 L432.6,85.57 L433.4,86.36 L434.2,87.41 L435.1,88.64 L435.9,89.99 L436.7,91.39 L437.5,92.78 L438.3,94.16 L439.1,95.56 L439.9,97.02 L440.8,98.59 L441.6,100.27 L442.4,102.10 L443.2,104.08 L444.0,106.28 L444.8,108.73 L445.6,111.43 L446.5,114.45 L447.3,118.05 L448.1,122.08 L448.9,126.33 L449.7,130.61 L450.5,134.80 L451.3,139.04 L452.1,143.36 L453.0,147.75 L453.8,152.18 L454.6,156.66 L455.4,161.15 L456.2,165.73 L457.0,170.43 L457.8,174.51 L458.7,177.98 L459.5,181.22 L460.3,184.29 L461.1,187.28 L461.9,189.81 L462.7,191.55 L463.5,192.89 L464.4,193.96 L465.2,194.71 L466.0,195.22 L466.8,195.67 L467.6,196.04 L468.4,196.33 L469.2,196.55 L470.1,196.69 L470.9,196.82 L471.7,196.93 L472.5,197.03 L473.3,197.11 L474.1,197.19 L474.9,197.27 L475.8,197.33 L476.6,197.40 L477.4,197.46 L478.2,197.53 L479.0,197.60 L479.8,197.67 L480.6,197.76 L481.5,197.85 L482.3,197.95 L483.1,198.04 L483.9,198.13 L484.7,198.22 L485.5,198.32 L486.3,198.41 L487.1,198.51 L488.0,198.62 L488.8,198.74 L489.6,198.87 L490.4,199.01 L491.2,199.17 L492.0,199.34 L492.8,199.55 L493.7,199.79 L494.5,200.08 L495.3,200.41 L496.1,200.76 L496.9,201.14 L497.7,201.54 L498.5,201.95 L499.4,202.37 L500.2,202.79 L501.0,203.22 L501.8,203.67 L502.6,204.13 L503.4,204.62 L504.2,205.13 L505.1,205.67 L505.9,206.25 L506.7,206.86 L507.5,207.50 L508.3,208.19 L509.1,208.94 L509.9,209.79 L510.8,210.73 L511.6,211.75 L512.4,212.85 L513.2,214.01 L514.0,215.25 L514.8,216.74 L515.6,218.42 L516.4,220.21 L517.3,222.00 L518.1,223.70 L518.9,225.22 L519.7,226.48 L520.5,227.44 L521.3,228.27 L522.1,229.18 L523.0,230.37 L523.8,232.56 L524.6,235.74 L525.4,239.02 L526.2,241.55 L527.0,243.81 L527.8,245.69 L528.7,246.83 L529.5,247.17 L530.3,247.36 L531.1,247.50 L531.9,247.62 L532.7,247.70 L533.5,247.76 L534.4,247.80 L535.2,247.81" stroke="#58c0f0" stroke-width="1.15" opacity="1.00"/>
<path d="M318.7,225.70 L319.5,223.65 L320.3,221.57 L321.1,219.46 L321.9,217.31 L322.7,215.13 L323.6,212.91 L324.4,210.63 L325.2,208.32 L326.0,206.02 L326.8,203.75 L327.6,201.49 L328.4,199.21 L329.3,196.95 L330.1,194.70 L330.9,192.50 L331.7,190.33 L332.5,188.17 L333.3,186.04 L334.1,183.90 L334.9,181.73 L335.8,179.54 L336.6,177.31 L337.4,175.03 L338.2,172.73 L339.0,170.42 L339.8,168.16 L340.6,165.99 L341.5,163.89 L342.3,161.95 L343.1,160.20 L343.9,158.63 L344.7,157.26 L345.5,156.04 L346.3,154.95 L347.2,153.97 L348.0,153.05 L348.8,152.16 L349.6,151.30 L350.4,150.53 L351.2,149.87 L352.0,149.33 L352.9,148.86 L353.7,148.42 L354.5,148.02 L355.3,147.67 L356.1,147.36 L356.9,147.11 L357.7,146.92 L358.6,146.78 L359.4,146.70 L360.2,146.66 L361.0,146.64 L361.8,146.63 L362.6,146.62 L363.4,146.60 L364.2,146.55 L365.1,146.47 L365.9,146.33 L366.7,146.12 L367.5,145.86 L368.3,145.56 L369.1,145.24 L369.9,144.92 L370.8,144.62 L371.6,144.34 L372.4,144.12 L373.2,143.96 L374.0,143.89 L374.8,143.93 L375.6,144.09 L376.5,144.40 L377.3,145.10 L378.1,146.16 L378.9,147.43 L379.7,148.90 L380.5,150.57 L381.3,152.29 L382.2,154.27 L383.0,156.47 L383.8,158.91 L384.6,161.03 L385.4,162.29 L386.2,162.73 L387.0,162.01 L387.9,159.91 L388.7,157.29 L389.5,155.05 L390.3,153.31 L391.1,152.46 L391.9,152.36 L392.7,152.72 L393.5,153.23 L394.4,153.78 L395.2,154.30 L396.0,154.80 L396.8,155.15 L397.6,155.35 L398.4,155.34 L399.2,155.03 L400.1,154.44 L400.9,153.69 L401.7,152.82 L402.5,151.34 L403.3,149.28 L404.1,146.88 L404.9,144.32 L405.8,141.59 L406.6,138.76 L407.4,135.87 L408.2,133.10 L409.0,130.57 L409.8,128.18 L410.6,125.91 L411.5,123.73 L412.3,121.57 L413.1,119.37 L413.9,117.07 L414.7,114.57 L415.5,111.91 L416.3,109.31 L417.2,106.78 L418.0,104.24 L418.8,101.76 L419.6,99.41 L420.4,97.28 L421.2,95.45 L422.0,93.91 L422.8,92.44 L423.7,91.06 L424.5,89.83 L425.3,88.81 L426.1,88.05 L426.9,87.44 L427.7,86.98 L428.5,86.72 L429.4,86.68 L430.2,86.91 L431.0,87.42 L431.8,88.08 L432.6,88.78 L433.4,89.59 L434.2,90.63 L435.1,91.84 L435.9,93.16 L436.7,94.52 L437.5,95.89 L438.3,97.24 L439.1,98.63 L439.9,100.10 L440.8,101.67 L441.6,103.37 L442.4,105.20 L443.2,107.20 L444.0,109.40 L444.8,111.85 L445.6,114.53 L446.5,117.55 L447.3,121.18 L448.1,125.26 L448.9,129.55 L449.7,133.82 L450.5,137.94 L451.3,142.08 L452.1,146.27 L453.0,150.48 L453.8,154.72 L454.6,158.98 L455.4,163.22 L456.2,167.47 L457.0,171.78 L457.8,175.61 L458.7,179.01 L459.5,182.22 L460.3,185.28 L461.1,188.32 L461.9,190.93 L462.7,192.73 L463.5,194.12 L464.4,195.23 L465.2,195.99 L466.0,196.52 L466.8,196.98 L467.6,197.36 L468.4,197.66 L469.2,197.87 L470.1,198.01 L470.9,198.13 L471.7,198.24 L472.5,198.34 L473.3,198.42 L474.1,198.49 L474.9,198.56 L475.8,198.63 L476.6,198.69 L477.4,198.75 L478.2,198.81 L479.0,198.87 L479.8,198.94 L480.6,199.02 L481.5,199.11 L482.3,199.20 L483.1,199.28 L483.9,199.37 L484.7,199.45 L485.5,199.54 L486.3,199.62 L487.1,199.72 L488.0,199.82 L488.8,199.92 L489.6,200.04 L490.4,200.17 L491.2,200.31 L492.0,200.47 L492.8,200.66 L493.7,200.89 L494.5,201.16 L495.3,201.46 L496.1,201.80 L496.9,202.16 L497.7,202.54 L498.5,202.94 L499.4,203.34 L500.2,203.75 L501.0,204.17 L501.8,204.59 L502.6,205.04 L503.4,205.51 L504.2,206.01 L505.1,206.54 L505.9,207.09 L506.7,207.69 L507.5,208.32 L508.3,208.99 L509.1,209.72 L509.9,210.55 L510.8,211.47 L511.6,212.47 L512.4,213.55 L513.2,214.69 L514.0,215.91 L514.8,217.37 L515.6,219.05 L516.4,220.83 L517.3,222.61 L518.1,224.29 L518.9,225.79 L519.7,227.01 L520.5,227.90 L521.3,228.63 L522.1,229.43 L523.0,230.52 L523.8,232.67 L524.6,235.85 L525.4,239.13 L526.2,241.61 L527.0,243.83 L527.8,245.72 L528.7,246.87 L529.5,247.18 L530.3,247.37 L531.1,247.51 L531.9,247.62 L532.7,247.71 L533.5,247.77 L534.4,247.80 L535.2,247.81" stroke="#30b8ee" stroke-width="1.15" opacity="1.00"/>
<path d="M318.7,226.58 L319.5,224.55 L320.3,222.48 L321.1,220.37 L321.9,218.23 L322.7,216.06 L323.6,213.84 L324.4,211.55 L325.2,209.23 L326.0,206.93 L326.8,204.68 L327.6,202.47 L328.4,200.26 L329.3,198.08 L330.1,195.92 L330.9,193.79 L331.7,191.69 L332.5,189.59 L333.3,187.51 L334.1,185.44 L334.9,183.35 L335.8,181.23 L336.6,179.08 L337.4,176.87 L338.2,174.62 L339.0,172.38 L339.8,170.20 L340.6,168.12 L341.5,166.10 L342.3,164.21 L343.1,162.49 L343.9,160.98 L344.7,159.67 L345.5,158.49 L346.3,157.45 L347.2,156.49 L348.0,155.59 L348.8,154.71 L349.6,153.86 L350.4,153.08 L351.2,152.43 L352.0,151.91 L352.9,151.47 L353.7,151.06 L354.5,150.70 L355.3,150.39 L356.1,150.12 L356.9,149.89 L357.7,149.71 L358.6,149.57 L359.4,149.48 L360.2,149.41 L361.0,149.36 L361.8,149.32 L362.6,149.28 L363.4,149.22 L364.2,149.15 L365.1,149.04 L365.9,148.88 L366.7,148.67 L367.5,148.41 L368.3,148.12 L369.1,147.82 L369.9,147.52 L370.8,147.25 L371.6,147.01 L372.4,146.83 L373.2,146.72 L374.0,146.74 L374.8,146.88 L375.6,147.15 L376.5,147.55 L377.3,148.33 L378.1,149.48 L378.9,150.84 L379.7,152.38 L380.5,154.03 L381.3,155.70 L382.2,157.63 L383.0,159.75 L383.8,161.97 L384.6,163.79 L385.4,164.73 L386.2,165.03 L387.0,164.43 L387.9,162.52 L388.7,160.06 L389.5,157.85 L390.3,156.19 L391.1,155.50 L391.9,155.52 L392.7,155.92 L393.5,156.46 L394.4,157.03 L395.2,157.56 L396.0,158.01 L396.8,158.27 L397.6,158.38 L398.4,158.32 L399.2,158.03 L400.1,157.53 L400.9,156.89 L401.7,156.15 L402.5,154.78 L403.3,152.83 L404.1,150.54 L404.9,148.08 L405.8,145.55 L406.6,142.95 L407.4,140.26 L408.2,137.62 L409.0,135.14 L409.8,132.77 L410.6,130.51 L411.5,128.33 L412.3,126.15 L413.1,123.92 L413.9,121.58 L414.7,119.00 L415.5,116.27 L416.3,113.61 L417.2,111.04 L418.0,108.44 L418.8,105.90 L419.6,103.50 L420.4,101.33 L421.2,99.46 L422.0,97.90 L422.8,96.42 L423.7,95.04 L424.5,93.83 L425.3,92.85 L426.1,92.14 L426.9,91.56 L427.7,91.11 L428.5,90.85 L429.4,90.78 L430.2,91.02 L431.0,91.56 L431.8,92.26 L432.6,93.00 L433.4,93.83 L434.2,94.86 L435.1,96.05 L435.9,97.33 L436.7,98.65 L437.5,99.97 L438.3,101.30 L439.1,102.68 L439.9,104.15 L440.8,105.73 L441.6,107.44 L442.4,109.29 L443.2,111.30 L444.0,113.51 L444.8,115.94 L445.6,118.61 L446.5,121.63 L447.3,125.30 L448.1,129.41 L448.9,133.70 L449.7,137.92 L450.5,141.90 L451.3,145.86 L452.1,149.80 L453.0,153.74 L453.8,157.68 L454.6,161.60 L455.4,165.49 L456.2,169.33 L457.0,173.16 L457.8,176.71 L458.7,180.00 L459.5,183.14 L460.3,186.17 L461.1,189.24 L461.9,191.90 L462.7,193.74 L463.5,195.17 L464.4,196.32 L465.2,197.10 L466.0,197.65 L466.8,198.11 L467.6,198.50 L468.4,198.80 L469.2,199.01 L470.1,199.15 L470.9,199.27 L471.7,199.38 L472.5,199.47 L473.3,199.55 L474.1,199.62 L474.9,199.68 L475.8,199.74 L476.6,199.80 L477.4,199.86 L478.2,199.91 L479.0,199.97 L479.8,200.04 L480.6,200.11 L481.5,200.19 L482.3,200.27 L483.1,200.35 L483.9,200.43 L484.7,200.51 L485.5,200.59 L486.3,200.67 L487.1,200.76 L488.0,200.85 L488.8,200.95 L489.6,201.06 L490.4,201.17 L491.2,201.30 L492.0,201.45 L492.8,201.62 L493.7,201.83 L494.5,202.08 L495.3,202.37 L496.1,202.70 L496.9,203.04 L497.7,203.41 L498.5,203.79 L499.4,204.19 L500.2,204.58 L501.0,204.98 L501.8,205.40 L502.6,205.83 L503.4,206.29 L504.2,206.77 L505.1,207.28 L505.9,207.83 L506.7,208.40 L507.5,209.02 L508.3,209.68 L509.1,210.39 L509.9,211.20 L510.8,212.10 L511.6,213.09 L512.4,214.15 L513.2,215.28 L514.0,216.48 L514.8,217.92 L515.6,219.59 L516.4,221.36 L517.3,223.13 L518.1,224.81 L518.9,226.29 L519.7,227.47 L520.5,228.30 L521.3,228.94 L522.1,229.65 L523.0,230.65 L523.8,232.76 L524.6,235.95 L525.4,239.22 L526.2,241.66 L527.0,243.86 L527.8,245.76 L528.7,246.91 L529.5,247.19 L530.3,247.37 L531.1,247.51 L531.9,247.62 L532.7,247.71 L533.5,247.77 L534.4,247.80 L535.2,247.81" stroke="#30c0ee" stroke-width="1.15" opacity="1.00"/>
<path d="M318.7,227.54 L319.5,225.52 L320.3,223.46 L321.1,221.37 L321.9,219.24 L322.7,217.08 L323.6,214.85 L324.4,212.55 L325.2,210.23 L326.0,207.93 L326.8,205.70 L327.6,203.54 L328.4,201.41 L329.3,199.32 L330.1,197.25 L330.9,195.20 L331.7,193.17 L332.5,191.14 L333.3,189.12 L334.1,187.12 L334.9,185.11 L335.8,183.08 L336.6,181.01 L337.4,178.87 L338.2,176.69 L339.0,174.52 L339.8,172.43 L340.6,170.45 L341.5,168.50 L342.3,166.67 L343.1,164.99 L343.9,163.54 L344.7,162.29 L345.5,161.18 L346.3,160.17 L347.2,159.25 L348.0,158.37 L348.8,157.50 L349.6,156.65 L350.4,155.87 L351.2,155.22 L352.0,154.73 L352.9,154.32 L353.7,153.95 L354.5,153.63 L355.3,153.36 L356.1,153.12 L356.9,152.92 L357.7,152.75 L358.6,152.62 L359.4,152.51 L360.2,152.42 L361.0,152.34 L361.8,152.26 L362.6,152.18 L363.4,152.09 L364.2,151.98 L365.1,151.85 L365.9,151.67 L366.7,151.44 L367.5,151.18 L368.3,150.91 L369.1,150.63 L369.9,150.36 L370.8,150.12 L371.6,149.93 L372.4,149.79 L373.2,149.73 L374.0,149.84 L374.8,150.11 L375.6,150.49 L376.5,150.99 L377.3,151.86 L378.1,153.10 L378.9,154.57 L379.7,156.17 L380.5,157.82 L381.3,159.41 L382.2,161.29 L383.0,163.33 L383.8,165.31 L384.6,166.79 L385.4,167.39 L386.2,167.55 L387.0,167.08 L387.9,165.37 L388.7,163.08 L389.5,160.91 L390.3,159.33 L391.1,158.82 L391.9,158.96 L392.7,159.41 L393.5,159.98 L394.4,160.58 L395.2,161.11 L396.0,161.52 L396.8,161.68 L397.6,161.70 L398.4,161.58 L399.2,161.31 L400.1,160.90 L400.9,160.39 L401.7,159.78 L402.5,158.54 L403.3,156.71 L404.1,154.53 L404.9,152.20 L405.8,149.87 L406.6,147.52 L407.4,145.05 L408.2,142.56 L409.0,140.13 L409.8,137.78 L410.6,135.54 L411.5,133.35 L412.3,131.15 L413.1,128.89 L413.9,126.50 L414.7,123.84 L415.5,121.03 L416.3,118.31 L417.2,115.68 L418.0,113.03 L418.8,110.43 L419.6,107.97 L420.4,105.74 L421.2,103.84 L422.0,102.25 L422.8,100.76 L423.7,99.39 L424.5,98.20 L425.3,97.25 L426.1,96.59 L426.9,96.06 L427.7,95.62 L428.5,95.35 L429.4,95.26 L430.2,95.50 L431.0,96.07 L431.8,96.82 L432.6,97.61 L433.4,98.45 L434.2,99.48 L435.1,100.64 L435.9,101.88 L436.7,103.15 L437.5,104.43 L438.3,105.74 L439.1,107.10 L439.9,108.57 L440.8,110.16 L441.6,111.89 L442.4,113.75 L443.2,115.78 L444.0,117.99 L444.8,120.42 L445.6,123.07 L446.5,126.08 L447.3,129.77 L448.1,133.90 L448.9,138.17 L449.7,142.28 L450.5,146.06 L451.3,149.74 L452.1,153.36 L453.0,156.94 L453.8,160.49 L454.6,164.01 L455.4,167.49 L456.2,170.89 L457.0,174.26 L457.8,177.52 L458.7,180.68 L459.5,183.72 L460.3,186.70 L461.1,189.74 L461.9,192.41 L462.7,194.28 L463.5,195.73 L464.4,196.89 L465.2,197.69 L466.0,198.24 L466.8,198.71 L467.6,199.10 L468.4,199.40 L469.2,199.62 L470.1,199.76 L470.9,199.87 L471.7,199.98 L472.5,200.07 L473.3,200.15 L474.1,200.21 L474.9,200.28 L475.8,200.33 L476.6,200.39 L477.4,200.44 L478.2,200.50 L479.0,200.55 L479.8,200.62 L480.6,200.68 L481.5,200.76 L482.3,200.84 L483.1,200.92 L483.9,201.00 L484.7,201.07 L485.5,201.15 L486.3,201.23 L487.1,201.31 L488.0,201.39 L488.8,201.49 L489.6,201.59 L490.4,201.70 L491.2,201.83 L492.0,201.96 L492.8,202.12 L493.7,202.33 L494.5,202.57 L495.3,202.86 L496.1,203.17 L496.9,203.51 L497.7,203.87 L498.5,204.25 L499.4,204.63 L500.2,205.02 L501.0,205.41 L501.8,205.82 L502.6,206.25 L503.4,206.70 L504.2,207.17 L505.1,207.68 L505.9,208.21 L506.7,208.78 L507.5,209.39 L508.3,210.04 L509.1,210.74 L509.9,211.55 L510.8,212.44 L511.6,213.42 L512.4,214.47 L513.2,215.59 L514.0,216.78 L514.8,218.22 L515.6,219.87 L516.4,221.63 L517.3,223.41 L518.1,225.08 L518.9,226.55 L519.7,227.71 L520.5,228.51 L521.3,229.11 L522.1,229.76 L523.0,230.72 L523.8,232.81 L524.6,236.00 L525.4,239.27 L526.2,241.69 L527.0,243.87 L527.8,245.77 L528.7,246.93 L529.5,247.20 L530.3,247.37 L531.1,247.51 L531.9,247.62 L532.7,247.71 L533.5,247.77 L534.4,247.80 L535.2,247.81" stroke="#5aa0ff" stroke-width="1.15" opacity="1.00"/>
<path d="M318.7,228.12 L319.5,226.11 L320.3,224.07 L321.1,221.98 L321.9,219.86 L322.7,217.70 L323.6,215.47 L324.4,213.16 L325.2,210.83 L326.0,208.53 L326.8,206.32 L327.6,204.19 L328.4,202.11 L329.3,200.07 L330.1,198.06 L330.9,196.06 L331.7,194.08 L332.5,192.08 L333.3,190.11 L334.1,188.15 L334.9,186.18 L335.8,184.20 L336.6,182.19 L337.4,180.10 L338.2,177.95 L339.0,175.82 L339.8,173.79 L340.6,171.87 L341.5,169.97 L342.3,168.17 L343.1,166.52 L343.9,165.10 L344.7,163.89 L345.5,162.81 L346.3,161.83 L347.2,160.93 L348.0,160.06 L348.8,159.20 L349.6,158.35 L350.4,157.57 L351.2,156.92 L352.0,156.44 L352.9,156.05 L353.7,155.71 L354.5,155.42 L355.3,155.17 L356.1,154.96 L356.9,154.77 L357.7,154.61 L358.6,154.47 L359.4,154.36 L360.2,154.25 L361.0,154.15 L361.8,154.05 L362.6,153.95 L363.4,153.83 L364.2,153.71 L365.1,153.56 L365.9,153.37 L366.7,153.13 L367.5,152.88 L368.3,152.61 L369.1,152.34 L369.9,152.09 L370.8,151.87 L371.6,151.70 L372.4,151.59 L373.2,151.57 L374.0,151.73 L374.8,152.07 L375.6,152.53 L376.5,153.08 L377.3,154.01 L378.1,155.31 L378.9,156.84 L379.7,158.48 L380.5,160.13 L381.3,161.68 L382.2,163.52 L383.0,165.52 L383.8,167.35 L384.6,168.63 L385.4,169.02 L386.2,169.08 L387.0,168.69 L387.9,167.11 L388.7,164.91 L389.5,162.77 L390.3,161.24 L391.1,160.85 L391.9,161.06 L392.7,161.53 L393.5,162.13 L394.4,162.74 L395.2,163.28 L396.0,163.65 L396.8,163.76 L397.6,163.72 L398.4,163.57 L399.2,163.31 L400.1,162.96 L400.9,162.53 L401.7,161.99 L402.5,160.84 L403.3,159.08 L404.1,156.96 L404.9,154.70 L405.8,152.50 L406.6,150.31 L407.4,147.97 L408.2,145.56 L409.0,143.17 L409.8,140.84 L410.6,138.60 L411.5,136.41 L412.3,134.20 L413.1,131.92 L413.9,129.49 L414.7,126.80 L415.5,123.93 L416.3,121.17 L417.2,118.51 L418.0,115.82 L418.8,113.18 L419.6,110.69 L420.4,108.44 L421.2,106.51 L422.0,104.91 L422.8,103.41 L423.7,102.03 L424.5,100.86 L425.3,99.93 L426.1,99.31 L426.9,98.80 L427.7,98.37 L428.5,98.09 L429.4,97.99 L430.2,98.23 L431.0,98.82 L431.8,99.61 L432.6,100.41 L433.4,101.28 L434.2,102.30 L435.1,103.44 L435.9,104.66 L436.7,105.90 L437.5,107.15 L438.3,108.44 L439.1,109.80 L439.9,111.26 L440.8,112.86 L441.6,114.60 L442.4,116.48 L443.2,118.51 L444.0,120.73 L444.8,123.14 L445.6,125.78 L446.5,128.79 L447.3,132.50 L448.1,136.63 L448.9,140.86 L449.7,144.89 L450.5,148.52 L451.3,152.01 L452.1,155.41 L453.0,158.75 L453.8,162.04 L454.6,165.30 L455.4,168.51 L456.2,171.65 L457.0,174.76 L457.8,177.86 L458.7,180.93 L459.5,183.92 L460.3,186.85 L461.1,189.86 L461.9,192.52 L462.7,194.39 L463.5,195.84 L464.4,197.01 L465.2,197.81 L466.0,198.36 L466.8,198.83 L467.6,199.22 L468.4,199.52 L469.2,199.74 L470.1,199.87 L470.9,199.99 L471.7,200.10 L472.5,200.18 L473.3,200.26 L474.1,200.33 L474.9,200.39 L475.8,200.45 L476.6,200.51 L477.4,200.56 L478.2,200.61 L479.0,200.67 L479.8,200.73 L480.6,200.80 L481.5,200.88 L482.3,200.96 L483.1,201.03 L483.9,201.11 L484.7,201.18 L485.5,201.26 L486.3,201.33 L487.1,201.42 L488.0,201.50 L488.8,201.60 L489.6,201.70 L490.4,201.81 L491.2,201.93 L492.0,202.07 L492.8,202.22 L493.7,202.43 L494.5,202.67 L495.3,202.95 L496.1,203.26 L496.9,203.60 L497.7,203.96 L498.5,204.34 L499.4,204.72 L500.2,205.11 L501.0,205.50 L501.8,205.90 L502.6,206.33 L503.4,206.78 L504.2,207.25 L505.1,207.76 L505.9,208.29 L506.7,208.86 L507.5,209.46 L508.3,210.11 L509.1,210.81 L509.9,211.61 L510.8,212.51 L511.6,213.49 L512.4,214.54 L513.2,215.65 L514.0,216.84 L514.8,218.27 L515.6,219.93 L516.4,221.69 L517.3,223.46 L518.1,225.13 L518.9,226.60 L519.7,227.76 L520.5,228.55 L521.3,229.14 L522.1,229.79 L523.0,230.74 L523.8,232.82 L524.6,236.01 L525.4,239.28 L526.2,241.69 L527.0,243.88 L527.8,245.77 L528.7,246.93 L529.5,247.20 L530.3,247.37 L531.1,247.51 L531.9,247.62 L532.7,247.71 L533.5,247.77 L534.4,247.80 L535.2,247.81" stroke="#30c0ee" stroke-width="1.15" opacity="1.00"/>
<path d="M318.7,228.96 L319.5,227.00 L320.3,225.01 L321.1,222.97 L321.9,220.90 L322.7,218.79 L323.6,216.60 L324.4,214.33 L325.2,212.04 L326.0,209.79 L326.8,207.62 L327.6,205.55 L328.4,203.52 L329.3,201.54 L330.1,199.60 L330.9,197.69 L331.7,195.81 L332.5,193.93 L333.3,192.07 L334.1,190.23 L334.9,188.39 L335.8,186.53 L336.6,184.63 L337.4,182.65 L338.2,180.61 L339.0,178.60 L339.8,176.67 L340.6,174.87 L341.5,173.08 L342.3,171.38 L343.1,169.82 L343.9,168.48 L344.7,167.34 L345.5,166.33 L346.3,165.41 L347.2,164.55 L348.0,163.73 L348.8,162.91 L349.6,162.11 L350.4,161.37 L351.2,160.75 L352.0,160.30 L352.9,159.93 L353.7,159.62 L354.5,159.35 L355.3,159.12 L356.1,158.93 L356.9,158.76 L357.7,158.61 L358.6,158.48 L359.4,158.36 L360.2,158.24 L361.0,158.14 L361.8,158.03 L362.6,157.92 L363.4,157.79 L364.2,157.66 L365.1,157.51 L365.9,157.32 L366.7,157.10 L367.5,156.86 L368.3,156.61 L369.1,156.37 L369.9,156.15 L370.8,155.96 L371.6,155.82 L372.4,155.74 L373.2,155.73 L374.0,155.93 L374.8,156.30 L375.6,156.80 L376.5,157.37 L377.3,158.29 L378.1,159.56 L378.9,161.06 L379.7,162.68 L380.5,164.30 L381.3,165.82 L382.2,167.60 L383.0,169.50 L383.8,171.19 L384.6,172.32 L385.4,172.59 L386.2,172.59 L387.0,172.24 L387.9,170.81 L388.7,168.81 L389.5,166.81 L390.3,165.41 L391.1,165.09 L391.9,165.31 L392.7,165.74 L393.5,166.29 L394.4,166.86 L395.2,167.36 L396.0,167.68 L396.8,167.74 L397.6,167.66 L398.4,167.50 L399.2,167.26 L400.1,166.96 L400.9,166.56 L401.7,166.00 L402.5,164.84 L403.3,163.12 L404.1,161.08 L404.9,158.91 L405.8,156.83 L406.6,154.76 L407.4,152.55 L408.2,150.27 L409.0,147.97 L409.8,145.71 L410.6,143.54 L411.5,141.41 L412.3,139.27 L413.1,137.05 L413.9,134.71 L414.7,132.12 L415.5,129.37 L416.3,126.74 L417.2,124.22 L418.0,121.66 L418.8,119.15 L419.6,116.78 L420.4,114.64 L421.2,112.81 L422.0,111.29 L422.8,109.86 L423.7,108.57 L424.5,107.46 L425.3,106.60 L426.1,106.03 L426.9,105.57 L427.7,105.19 L428.5,104.94 L429.4,104.85 L430.2,105.09 L431.0,105.68 L431.8,106.46 L432.6,107.28 L433.4,108.15 L434.2,109.16 L435.1,110.29 L435.9,111.50 L436.7,112.75 L437.5,114.02 L438.3,115.34 L439.1,116.74 L439.9,118.23 L440.8,119.85 L441.6,121.61 L442.4,123.50 L443.2,125.53 L444.0,127.74 L444.8,130.13 L445.6,132.72 L446.5,135.67 L447.3,139.31 L448.1,143.36 L448.9,147.52 L449.7,151.47 L450.5,155.05 L451.3,158.48 L452.1,161.79 L453.0,164.98 L453.8,168.07 L454.6,171.10 L455.4,174.08 L456.2,176.94 L457.0,179.77 L457.8,182.62 L458.7,185.44 L459.5,188.17 L460.3,190.84 L461.1,193.56 L461.9,195.95 L462.7,197.63 L463.5,198.95 L464.4,200.01 L465.2,200.73 L466.0,201.24 L466.8,201.67 L467.6,202.03 L468.4,202.31 L469.2,202.51 L470.1,202.65 L470.9,202.77 L471.7,202.87 L472.5,202.96 L473.3,203.03 L474.1,203.11 L474.9,203.17 L475.8,203.23 L476.6,203.28 L477.4,203.34 L478.2,203.39 L479.0,203.45 L479.8,203.51 L480.6,203.58 L481.5,203.65 L482.3,203.73 L483.1,203.80 L483.9,203.87 L484.7,203.94 L485.5,204.01 L486.3,204.08 L487.1,204.15 L488.0,204.23 L488.8,204.32 L489.6,204.41 L490.4,204.52 L491.2,204.63 L492.0,204.76 L492.8,204.90 L493.7,205.09 L494.5,205.32 L495.3,205.58 L496.1,205.87 L496.9,206.18 L497.7,206.51 L498.5,206.86 L499.4,207.22 L500.2,207.58 L501.0,207.94 L501.8,208.33 L502.6,208.73 L503.4,209.15 L504.2,209.60 L505.1,210.08 L505.9,210.58 L506.7,211.12 L507.5,211.70 L508.3,212.31 L509.1,212.97 L509.9,213.73 L510.8,214.58 L511.6,215.50 L512.4,216.49 L513.2,217.55 L514.0,218.67 L514.8,220.01 L515.6,221.56 L516.4,223.21 L517.3,224.86 L518.1,226.43 L518.9,227.82 L519.7,228.92 L520.5,229.68 L521.3,230.26 L522.1,230.91 L523.0,231.85 L523.8,233.88 L524.6,236.92 L525.4,239.99 L526.2,242.25 L527.0,244.29 L527.8,246.03 L528.7,247.07 L529.5,247.32 L530.3,247.48 L531.1,247.61 L531.9,247.72 L532.7,247.80 L533.5,247.86 L534.4,247.89 L535.2,247.90" stroke="#30b8ee" stroke-width="1.15" opacity="1.00"/>
<path d="M318.7,229.28 L319.5,227.35 L320.3,225.39 L321.1,223.39 L321.9,221.34 L322.7,219.27 L323.6,217.11 L324.4,214.88 L325.2,212.62 L326.0,210.40 L326.8,208.27 L327.6,206.21 L328.4,204.20 L329.3,202.24 L330.1,200.32 L330.9,198.45 L331.7,196.62 L332.5,194.80 L333.3,193.01 L334.1,191.24 L334.9,189.47 L335.8,187.66 L336.6,185.82 L337.4,183.90 L338.2,181.92 L339.0,179.96 L339.8,178.09 L340.6,176.34 L341.5,174.61 L342.3,172.97 L343.1,171.46 L343.9,170.16 L344.7,169.05 L345.5,168.07 L346.3,167.17 L347.2,166.35 L348.0,165.56 L348.8,164.77 L349.6,163.99 L350.4,163.28 L351.2,162.68 L352.0,162.24 L352.9,161.88 L353.7,161.57 L354.5,161.31 L355.3,161.09 L356.1,160.90 L356.9,160.73 L357.7,160.59 L358.6,160.46 L359.4,160.34 L360.2,160.23 L361.0,160.13 L361.8,160.02 L362.6,159.92 L363.4,159.80 L364.2,159.67 L365.1,159.53 L365.9,159.35 L366.7,159.14 L367.5,158.91 L368.3,158.68 L369.1,158.45 L369.9,158.24 L370.8,158.06 L371.6,157.92 L372.4,157.84 L373.2,157.84 L374.0,158.04 L374.8,158.40 L375.6,158.88 L376.5,159.44 L377.3,160.33 L378.1,161.55 L378.9,163.00 L379.7,164.59 L380.5,166.20 L381.3,167.71 L382.2,169.46 L383.0,171.31 L383.8,172.97 L384.6,174.09 L385.4,174.38 L386.2,174.37 L387.0,174.02 L387.9,172.64 L388.7,170.72 L389.5,168.82 L390.3,167.48 L391.1,167.16 L391.9,167.35 L392.7,167.75 L393.5,168.25 L394.4,168.78 L395.2,169.24 L396.0,169.54 L396.8,169.60 L397.6,169.52 L398.4,169.37 L399.2,169.14 L400.1,168.85 L400.9,168.43 L401.7,167.82 L402.5,166.62 L403.3,164.89 L404.1,162.88 L404.9,160.74 L405.8,158.67 L406.6,156.63 L407.4,154.45 L408.2,152.20 L409.0,149.96 L409.8,147.75 L410.6,145.62 L411.5,143.54 L412.3,141.44 L413.1,139.29 L413.9,137.02 L414.7,134.53 L415.5,131.89 L416.3,129.37 L417.2,126.95 L418.0,124.51 L418.8,122.11 L419.6,119.85 L420.4,117.80 L421.2,116.06 L422.0,114.60 L422.8,113.23 L423.7,111.98 L424.5,110.92 L425.3,110.09 L426.1,109.55 L426.9,109.12 L427.7,108.77 L428.5,108.54 L429.4,108.47 L430.2,108.71 L431.0,109.28 L431.8,110.04 L432.6,110.86 L433.4,111.72 L434.2,112.74 L435.1,113.86 L435.9,115.07 L436.7,116.34 L437.5,117.65 L438.3,119.00 L439.1,120.43 L439.9,121.94 L440.8,123.57 L441.6,125.34 L442.4,127.23 L443.2,129.26 L444.0,131.46 L444.8,133.83 L445.6,136.40 L446.5,139.31 L447.3,142.89 L448.1,146.89 L448.9,151.00 L449.7,154.95 L450.5,158.57 L451.3,162.05 L452.1,165.41 L453.0,168.61 L453.8,171.68 L454.6,174.68 L455.4,177.61 L456.2,180.41 L457.0,183.15 L457.8,185.89 L458.7,188.59 L459.5,191.17 L460.3,193.67 L461.1,196.20 L461.9,198.40 L462.7,199.95 L463.5,201.17 L464.4,202.15 L465.2,202.82 L466.0,203.30 L466.8,203.70 L467.6,204.04 L468.4,204.30 L469.2,204.50 L470.1,204.63 L470.9,204.74 L471.7,204.84 L472.5,204.93 L473.3,205.01 L474.1,205.08 L474.9,205.15 L475.8,205.21 L476.6,205.26 L477.4,205.32 L478.2,205.37 L479.0,205.43 L479.8,205.49 L480.6,205.56 L481.5,205.63 L482.3,205.70 L483.1,205.77 L483.9,205.84 L484.7,205.90 L485.5,205.97 L486.3,206.04 L487.1,206.11 L488.0,206.18 L488.8,206.26 L489.6,206.35 L490.4,206.45 L491.2,206.56 L492.0,206.68 L492.8,206.81 L493.7,206.99 L494.5,207.20 L495.3,207.45 L496.1,207.72 L496.9,208.02 L497.7,208.33 L498.5,208.66 L499.4,209.00 L500.2,209.34 L501.0,209.69 L501.8,210.06 L502.6,210.44 L503.4,210.85 L504.2,211.28 L505.1,211.73 L505.9,212.22 L506.7,212.74 L507.5,213.29 L508.3,213.88 L509.1,214.52 L509.9,215.24 L510.8,216.06 L511.6,216.94 L512.4,217.89 L513.2,218.90 L514.0,219.97 L514.8,221.25 L515.6,222.72 L516.4,224.29 L517.3,225.86 L518.1,227.36 L518.9,228.68 L519.7,229.74 L520.5,230.48 L521.3,231.06 L522.1,231.71 L523.0,232.65 L523.8,234.64 L524.6,237.58 L525.4,240.49 L526.2,242.64 L527.0,244.58 L527.8,246.22 L528.7,247.17 L529.5,247.41 L530.3,247.56 L531.1,247.69 L531.9,247.79 L532.7,247.87 L533.5,247.92 L534.4,247.95 L535.2,247.96" stroke="#5aa0ff" stroke-width="1.15" opacity="1.00"/>
<path d="M318.7,229.50 L319.5,227.60 L320.3,225.66 L321.1,223.68 L321.9,221.66 L322.7,219.61 L323.6,217.47 L324.4,215.27 L325.2,213.03 L326.0,210.83 L326.8,208.72 L327.6,206.68 L328.4,204.68 L329.3,202.73 L330.1,200.83 L330.9,198.99 L331.7,197.20 L332.5,195.42 L333.3,193.68 L334.1,191.95 L334.9,190.22 L335.8,188.46 L336.6,186.66 L337.4,184.78 L338.2,182.84 L339.0,180.92 L339.8,179.10 L340.6,177.38 L341.5,175.69 L342.3,174.09 L343.1,172.62 L343.9,171.34 L344.7,170.26 L345.5,169.30 L346.3,168.42 L347.2,167.61 L348.0,166.84 L348.8,166.08 L349.6,165.32 L350.4,164.63 L351.2,164.05 L352.0,163.61 L352.9,163.26 L353.7,162.96 L354.5,162.69 L355.3,162.48 L356.1,162.29 L356.9,162.13 L357.7,161.98 L358.6,161.86 L359.4,161.74 L360.2,161.64 L361.0,161.54 L361.8,161.43 L362.6,161.33 L363.4,161.21 L364.2,161.09 L365.1,160.95 L365.9,160.78 L366.7,160.58 L367.5,160.36 L368.3,160.13 L369.1,159.91 L369.9,159.71 L370.8,159.54 L371.6,159.41 L372.4,159.33 L373.2,159.33 L374.0,159.52 L374.8,159.88 L375.6,160.35 L376.5,160.90 L377.3,161.77 L378.1,162.96 L378.9,164.37 L379.7,165.94 L380.5,167.53 L381.3,169.04 L382.2,170.77 L383.0,172.59 L383.8,174.22 L384.6,175.34 L385.4,175.64 L386.2,175.63 L387.0,175.28 L387.9,173.93 L388.7,172.07 L389.5,170.23 L390.3,168.94 L391.1,168.62 L391.9,168.79 L392.7,169.16 L393.5,169.64 L394.4,170.14 L395.2,170.58 L396.0,170.86 L396.8,170.91 L397.6,170.84 L398.4,170.69 L399.2,170.47 L400.1,170.18 L400.9,169.75 L401.7,169.11 L402.5,167.87 L403.3,166.14 L404.1,164.14 L404.9,162.02 L405.8,159.97 L406.6,157.94 L407.4,155.79 L408.2,153.57 L409.0,151.36 L409.8,149.19 L410.6,147.09 L411.5,145.04 L412.3,142.98 L413.1,140.86 L413.9,138.65 L414.7,136.22 L415.5,133.67 L416.3,131.23 L417.2,128.89 L418.0,126.52 L418.8,124.20 L419.6,122.02 L420.4,120.04 L421.2,118.35 L422.0,116.94 L422.8,115.61 L423.7,114.40 L424.5,113.36 L425.3,112.56 L426.1,112.04 L426.9,111.62 L427.7,111.29 L428.5,111.08 L429.4,111.02 L430.2,111.26 L431.0,111.82 L431.8,112.57 L432.6,113.38 L433.4,114.25 L434.2,115.26 L435.1,116.38 L435.9,117.60 L436.7,118.88 L437.5,120.21 L438.3,121.59 L439.1,123.03 L439.9,124.56 L440.8,126.20 L441.6,127.97 L442.4,129.87 L443.2,131.90 L444.0,134.08 L444.8,136.44 L445.6,138.99 L446.5,141.88 L447.3,145.42 L448.1,149.38 L448.9,153.47 L449.7,157.41 L450.5,161.05 L451.3,164.57 L452.1,167.96 L453.0,171.17 L453.8,174.23 L454.6,177.21 L455.4,180.10 L456.2,182.86 L457.0,185.54 L457.8,188.20 L458.7,190.80 L459.5,193.28 L460.3,195.66 L461.1,198.05 L461.9,200.13 L462.7,201.59 L463.5,202.73 L464.4,203.66 L465.2,204.30 L466.0,204.75 L466.8,205.14 L467.6,205.46 L468.4,205.71 L469.2,205.90 L470.1,206.03 L470.9,206.14 L471.7,206.24 L472.5,206.33 L473.3,206.41 L474.1,206.48 L474.9,206.55 L475.8,206.61 L476.6,206.66 L477.4,206.72 L478.2,206.77 L479.0,206.83 L479.8,206.89 L480.6,206.96 L481.5,207.03 L482.3,207.10 L483.1,207.16 L483.9,207.23 L484.7,207.29 L485.5,207.36 L486.3,207.42 L487.1,207.49 L488.0,207.56 L488.8,207.64 L489.6,207.72 L490.4,207.81 L491.2,207.92 L492.0,208.03 L492.8,208.16 L493.7,208.33 L494.5,208.54 L495.3,208.77 L496.1,209.04 L496.9,209.32 L497.7,209.62 L498.5,209.94 L499.4,210.26 L500.2,210.59 L501.0,210.93 L501.8,211.28 L502.6,211.65 L503.4,212.04 L504.2,212.46 L505.1,212.91 L505.9,213.38 L506.7,213.88 L507.5,214.42 L508.3,214.99 L509.1,215.60 L509.9,216.31 L510.8,217.10 L511.6,217.96 L512.4,218.88 L513.2,219.86 L514.0,220.90 L514.8,222.13 L515.6,223.54 L516.4,225.05 L517.3,226.57 L518.1,228.01 L518.9,229.29 L519.7,230.33 L520.5,231.05 L521.3,231.63 L522.1,232.27 L523.0,233.21 L523.8,235.18 L524.6,238.04 L525.4,240.85 L526.2,242.92 L527.0,244.79 L527.8,246.35 L528.7,247.24 L529.5,247.47 L530.3,247.62 L531.1,247.74 L531.9,247.84 L532.7,247.91 L533.5,247.96 L534.4,248.00 L535.2,248.01" stroke="#16bde8" stroke-width="1.15" opacity="1.00"/>
<path d="M318.7,230.06 L319.5,228.21 L320.3,226.33 L321.1,224.40 L321.9,222.44 L322.7,220.44 L323.6,218.37 L324.4,216.22 L325.2,214.04 L326.0,211.90 L326.8,209.83 L327.6,207.83 L328.4,205.86 L329.3,203.94 L330.1,202.08 L330.9,200.30 L331.7,198.61 L332.5,196.94 L333.3,195.31 L334.1,193.70 L334.9,192.09 L335.8,190.43 L336.6,188.72 L337.4,186.94 L338.2,185.11 L339.0,183.29 L339.8,181.56 L340.6,179.94 L341.5,178.35 L342.3,176.84 L343.1,175.46 L343.9,174.26 L344.7,173.23 L345.5,172.31 L346.3,171.49 L347.2,170.73 L348.0,170.01 L348.8,169.29 L349.6,168.59 L350.4,167.95 L351.2,167.40 L352.0,166.99 L352.9,166.65 L353.7,166.35 L354.5,166.10 L355.3,165.89 L356.1,165.71 L356.9,165.55 L357.7,165.42 L358.6,165.30 L359.4,165.19 L360.2,165.09 L361.0,164.99 L361.8,164.90 L362.6,164.80 L363.4,164.69 L364.2,164.58 L365.1,164.45 L365.9,164.29 L366.7,164.11 L367.5,163.91 L368.3,163.71 L369.1,163.51 L369.9,163.33 L370.8,163.18 L371.6,163.06 L372.4,163.00 L373.2,163.00 L374.0,163.18 L374.8,163.52 L375.6,163.97 L376.5,164.49 L377.3,165.31 L378.1,166.42 L378.9,167.73 L379.7,169.25 L380.5,170.82 L381.3,172.32 L382.2,174.00 L383.0,175.73 L383.8,177.31 L384.6,178.41 L385.4,178.74 L386.2,178.73 L387.0,178.37 L387.9,177.11 L388.7,175.39 L389.5,173.72 L390.3,172.53 L391.1,172.21 L391.9,172.34 L392.7,172.64 L393.5,173.04 L394.4,173.47 L395.2,173.85 L396.0,174.09 L396.8,174.14 L397.6,174.07 L398.4,173.93 L399.2,173.72 L400.1,173.46 L400.9,173.00 L401.7,172.26 L402.5,170.95 L403.3,169.21 L404.1,167.25 L404.9,165.18 L405.8,163.17 L406.6,161.17 L407.4,159.07 L408.2,156.93 L409.0,154.81 L409.8,152.72 L410.6,150.70 L411.5,148.73 L412.3,146.75 L413.1,144.75 L413.9,142.66 L414.7,140.40 L415.5,138.04 L416.3,135.79 L417.2,133.64 L418.0,131.46 L418.8,129.34 L419.6,127.34 L420.4,125.53 L421.2,123.98 L422.0,122.68 L422.8,121.45 L423.7,120.33 L424.5,119.37 L425.3,118.63 L426.1,118.15 L426.9,117.78 L427.7,117.50 L428.5,117.32 L429.4,117.30 L430.2,117.54 L431.0,118.07 L431.8,118.80 L432.6,119.59 L433.4,120.46 L434.2,121.47 L435.1,122.57 L435.9,123.80 L436.7,125.12 L437.5,126.50 L438.3,127.94 L439.1,129.44 L439.9,131.00 L440.8,132.66 L441.6,134.45 L442.4,136.35 L443.2,138.37 L444.0,140.54 L444.8,142.87 L445.6,145.38 L446.5,148.19 L447.3,151.64 L448.1,155.51 L448.9,159.52 L449.7,163.45 L450.5,167.16 L451.3,170.77 L452.1,174.23 L453.0,177.47 L453.8,180.51 L454.6,183.43 L455.4,186.24 L456.2,188.88 L457.0,191.41 L457.8,193.88 L458.7,196.25 L459.5,198.47 L460.3,200.57 L461.1,202.62 L461.9,204.38 L462.7,205.62 L463.5,206.58 L464.4,207.37 L465.2,207.93 L466.0,208.32 L466.8,208.66 L467.6,208.94 L468.4,209.17 L469.2,209.34 L470.1,209.46 L470.9,209.57 L471.7,209.67 L472.5,209.76 L473.3,209.84 L474.1,209.91 L474.9,209.98 L475.8,210.04 L476.6,210.10 L477.4,210.16 L478.2,210.22 L479.0,210.27 L479.8,210.33 L480.6,210.39 L481.5,210.46 L482.3,210.53 L483.1,210.59 L483.9,210.65 L484.7,210.71 L485.5,210.76 L486.3,210.82 L487.1,210.88 L488.0,210.94 L488.8,211.01 L489.6,211.09 L490.4,211.17 L491.2,211.26 L492.0,211.36 L492.8,211.48 L493.7,211.63 L494.5,211.81 L495.3,212.03 L496.1,212.26 L496.9,212.51 L497.7,212.78 L498.5,213.07 L499.4,213.36 L500.2,213.66 L501.0,213.96 L501.8,214.28 L502.6,214.62 L503.4,214.99 L504.2,215.37 L505.1,215.78 L505.9,216.22 L506.7,216.69 L507.5,217.18 L508.3,217.71 L509.1,218.28 L509.9,218.93 L510.8,219.66 L511.6,220.46 L512.4,221.31 L513.2,222.21 L514.0,223.17 L514.8,224.29 L515.6,225.57 L516.4,226.93 L517.3,228.31 L518.1,229.62 L518.9,230.79 L519.7,231.76 L520.5,232.45 L521.3,233.02 L522.1,233.66 L523.0,234.59 L523.8,236.49 L524.6,239.17 L525.4,241.73 L526.2,243.61 L527.0,245.30 L527.8,246.67 L528.7,247.42 L529.5,247.62 L530.3,247.75 L531.1,247.87 L531.9,247.96 L532.7,248.02 L533.5,248.07 L534.4,248.10 L535.2,248.11" stroke="#3a8cf5" stroke-width="1.15" opacity="1.00"/>
<path d="M318.7,230.29 L319.5,228.46 L320.3,226.60 L321.1,224.70 L321.9,222.76 L322.7,220.78 L323.6,218.73 L324.4,216.60 L325.2,214.45 L326.0,212.33 L326.8,210.28 L327.6,208.30 L328.4,206.34 L329.3,204.42 L330.1,202.58 L330.9,200.84 L331.7,199.18 L332.5,197.56 L333.3,195.97 L334.1,194.41 L334.9,192.84 L335.8,191.23 L336.6,189.56 L337.4,187.82 L338.2,186.03 L339.0,184.25 L339.8,182.56 L340.6,180.97 L341.5,179.43 L342.3,177.96 L343.1,176.61 L343.9,175.44 L344.7,174.43 L345.5,173.54 L346.3,172.73 L347.2,171.99 L348.0,171.29 L348.8,170.59 L349.6,169.91 L350.4,169.29 L351.2,168.76 L352.0,168.35 L352.9,168.02 L353.7,167.73 L354.5,167.48 L355.3,167.27 L356.1,167.10 L356.9,166.94 L357.7,166.81 L358.6,166.69 L359.4,166.58 L360.2,166.49 L361.0,166.39 L361.8,166.30 L362.6,166.20 L363.4,166.10 L364.2,165.99 L365.1,165.87 L365.9,165.72 L366.7,165.54 L367.5,165.35 L368.3,165.16 L369.1,164.97 L369.9,164.80 L370.8,164.65 L371.6,164.54 L372.4,164.48 L373.2,164.48 L374.0,164.66 L374.8,164.99 L375.6,165.43 L376.5,165.95 L377.3,166.75 L378.1,167.82 L378.9,169.10 L379.7,170.59 L380.5,172.15 L381.3,173.64 L382.2,175.31 L383.0,177.00 L383.8,178.56 L384.6,179.66 L385.4,180.00 L386.2,179.98 L387.0,179.62 L387.9,178.39 L388.7,176.73 L389.5,175.12 L390.3,173.98 L391.1,173.67 L391.9,173.77 L392.7,174.04 L393.5,174.42 L394.4,174.82 L395.2,175.18 L396.0,175.41 L396.8,175.44 L397.6,175.37 L398.4,175.24 L399.2,175.04 L400.1,174.78 L400.9,174.32 L401.7,173.54 L402.5,172.20 L403.3,170.45 L404.1,168.51 L404.9,166.46 L405.8,164.46 L406.6,162.48 L407.4,160.40 L408.2,158.29 L409.0,156.20 L409.8,154.15 L410.6,152.16 L411.5,150.22 L412.3,148.28 L413.1,146.32 L413.9,144.28 L414.7,142.09 L415.5,139.81 L416.3,137.64 L417.2,135.56 L418.0,133.47 L418.8,131.42 L419.6,129.50 L420.4,127.75 L421.2,126.26 L422.0,125.00 L422.8,123.82 L423.7,122.73 L424.5,121.80 L425.3,121.08 L426.1,120.62 L426.9,120.27 L427.7,120.01 L428.5,119.85 L429.4,119.84 L430.2,120.08 L431.0,120.60 L431.8,121.32 L432.6,122.11 L433.4,122.98 L434.2,123.98 L435.1,125.08 L435.9,126.32 L436.7,127.65 L437.5,129.05 L438.3,130.51 L439.1,132.03 L439.9,133.60 L440.8,135.28 L441.6,137.07 L442.4,138.97 L443.2,140.99 L444.0,143.16 L444.8,145.47 L445.6,147.96 L446.5,150.75 L447.3,154.16 L448.1,157.99 L448.9,161.97 L449.7,165.90 L450.5,169.63 L451.3,173.28 L452.1,176.77 L453.0,180.02 L453.8,183.05 L454.6,185.95 L455.4,188.72 L456.2,191.32 L457.0,193.79 L457.8,196.18 L458.7,198.46 L459.5,200.57 L460.3,202.55 L461.1,204.47 L461.9,206.11 L462.7,207.25 L463.5,208.14 L464.4,208.87 L465.2,209.40 L466.0,209.77 L466.8,210.09 L467.6,210.35 L468.4,210.57 L469.2,210.73 L470.1,210.86 L470.9,210.96 L471.7,211.06 L472.5,211.15 L473.3,211.23 L474.1,211.31 L474.9,211.37 L475.8,211.44 L476.6,211.50 L477.4,211.55 L478.2,211.61 L479.0,211.67 L479.8,211.73 L480.6,211.79 L481.5,211.85 L482.3,211.92 L483.1,211.98 L483.9,212.03 L484.7,212.09 L485.5,212.14 L486.3,212.20 L487.1,212.25 L488.0,212.31 L488.8,212.38 L489.6,212.45 L490.4,212.53 L491.2,212.61 L492.0,212.71 L492.8,212.82 L493.7,212.97 L494.5,213.14 L495.3,213.34 L496.1,213.56 L496.9,213.81 L497.7,214.06 L498.5,214.33 L499.4,214.61 L500.2,214.90 L501.0,215.19 L501.8,215.50 L502.6,215.83 L503.4,216.18 L504.2,216.55 L505.1,216.95 L505.9,217.37 L506.7,217.82 L507.5,218.30 L508.3,218.81 L509.1,219.37 L509.9,220.00 L510.8,220.70 L511.6,221.47 L512.4,222.30 L513.2,223.17 L514.0,224.08 L514.8,225.16 L515.6,226.38 L516.4,227.69 L517.3,229.01 L518.1,230.27 L518.9,231.40 L519.7,232.34 L520.5,233.02 L521.3,233.58 L522.1,234.22 L523.0,235.15 L523.8,237.03 L524.6,239.63 L525.4,242.09 L526.2,243.89 L527.0,245.51 L527.8,246.80 L528.7,247.49 L529.5,247.68 L530.3,247.81 L531.1,247.92 L531.9,248.00 L532.7,248.07 L533.5,248.12 L534.4,248.15 L535.2,248.16" stroke="#16bde8" stroke-width="1.15" opacity="1.00"/>
<path d="M318.7,230.73 L319.5,228.95 L320.3,227.13 L321.1,225.27 L321.9,223.37 L322.7,221.44 L323.6,219.43 L324.4,217.35 L325.2,215.25 L326.0,213.17 L326.8,211.16 L327.6,209.21 L328.4,207.27 L329.3,205.38 L330.1,203.57 L330.9,201.88 L331.7,200.29 L332.5,198.76 L333.3,197.26 L334.1,195.80 L334.9,194.31 L335.8,192.78 L336.6,191.19 L337.4,189.53 L338.2,187.82 L339.0,186.13 L339.8,184.51 L340.6,182.99 L341.5,181.52 L342.3,180.14 L343.1,178.86 L343.9,177.74 L344.7,176.78 L345.5,175.92 L346.3,175.16 L347.2,174.46 L348.0,173.79 L348.8,173.14 L349.6,172.50 L350.4,171.91 L351.2,171.41 L352.0,171.02 L352.9,170.70 L353.7,170.41 L354.5,170.17 L355.3,169.97 L356.1,169.80 L356.9,169.65 L357.7,169.52 L358.6,169.41 L359.4,169.31 L360.2,169.22 L361.0,169.13 L361.8,169.04 L362.6,168.95 L363.4,168.85 L364.2,168.75 L365.1,168.63 L365.9,168.50 L366.7,168.34 L367.5,168.16 L368.3,167.99 L369.1,167.82 L369.9,167.66 L370.8,167.53 L371.6,167.43 L372.4,167.37 L373.2,167.38 L374.0,167.55 L374.8,167.87 L375.6,168.29 L376.5,168.79 L377.3,169.55 L378.1,170.55 L378.9,171.76 L379.7,173.21 L380.5,174.74 L381.3,176.23 L382.2,177.85 L383.0,179.48 L383.8,181.00 L384.6,182.09 L385.4,182.45 L386.2,182.43 L387.0,182.06 L387.9,180.90 L388.7,179.35 L389.5,177.88 L390.3,176.82 L391.1,176.51 L391.9,176.57 L392.7,176.79 L393.5,177.11 L394.4,177.45 L395.2,177.76 L396.0,177.96 L396.8,177.99 L397.6,177.93 L398.4,177.80 L399.2,177.62 L400.1,177.37 L400.9,176.88 L401.7,176.03 L402.5,174.64 L403.3,172.88 L404.1,170.97 L404.9,168.96 L405.8,166.99 L406.6,165.04 L407.4,163.00 L408.2,160.95 L409.0,158.93 L409.8,156.94 L410.6,155.02 L411.5,153.14 L412.3,151.27 L413.1,149.38 L413.9,147.45 L414.7,145.39 L415.5,143.27 L416.3,141.25 L417.2,139.31 L418.0,137.37 L418.8,135.48 L419.6,133.70 L420.4,132.09 L421.2,130.70 L422.0,129.54 L422.8,128.44 L423.7,127.42 L424.5,126.55 L425.3,125.88 L426.1,125.45 L426.9,125.14 L427.7,124.91 L428.5,124.79 L429.4,124.80 L430.2,125.04 L431.0,125.53 L431.8,126.23 L432.6,127.02 L433.4,127.88 L434.2,128.88 L435.1,129.98 L435.9,131.22 L436.7,132.58 L437.5,134.02 L438.3,135.53 L439.1,137.09 L439.9,138.69 L440.8,140.39 L441.6,142.19 L442.4,144.09 L443.2,146.11 L444.0,148.26 L444.8,150.55 L445.6,153.01 L446.5,155.74 L447.3,159.07 L448.1,162.83 L448.9,166.75 L449.7,170.67 L450.5,174.46 L451.3,178.18 L452.1,181.73 L453.0,185.00 L453.8,188.00 L454.6,190.86 L455.4,193.56 L456.2,196.07 L457.0,198.43 L457.8,200.67 L458.7,202.77 L459.5,204.68 L460.3,206.43 L461.1,208.08 L461.9,209.47 L462.7,210.43 L463.5,211.19 L464.4,211.81 L465.2,212.26 L466.0,212.59 L466.8,212.87 L467.6,213.10 L468.4,213.30 L469.2,213.45 L470.1,213.57 L470.9,213.68 L471.7,213.77 L472.5,213.86 L473.3,213.94 L474.1,214.02 L474.9,214.09 L475.8,214.15 L476.6,214.21 L477.4,214.27 L478.2,214.33 L479.0,214.39 L479.8,214.45 L480.6,214.50 L481.5,214.57 L482.3,214.63 L483.1,214.68 L483.9,214.74 L484.7,214.79 L485.5,214.83 L486.3,214.88 L487.1,214.93 L488.0,214.99 L488.8,215.05 L489.6,215.11 L490.4,215.18 L491.2,215.26 L492.0,215.34 L492.8,215.45 L493.7,215.58 L494.5,215.73 L495.3,215.91 L496.1,216.11 L496.9,216.33 L497.7,216.56 L498.5,216.81 L499.4,217.06 L500.2,217.32 L501.0,217.58 L501.8,217.87 L502.6,218.17 L503.4,218.50 L504.2,218.85 L505.1,219.22 L505.9,219.62 L506.7,220.04 L507.5,220.49 L508.3,220.97 L509.1,221.48 L509.9,222.07 L510.8,222.73 L511.6,223.45 L512.4,224.22 L513.2,225.03 L514.0,225.88 L514.8,226.86 L515.6,227.98 L516.4,229.17 L517.3,230.38 L518.1,231.54 L518.9,232.59 L519.7,233.47 L520.5,234.12 L521.3,234.68 L522.1,235.32 L523.0,236.24 L523.8,238.07 L524.6,240.53 L525.4,242.78 L526.2,244.44 L527.0,245.91 L527.8,247.05 L528.7,247.63 L529.5,247.80 L530.3,247.92 L531.1,248.02 L531.9,248.10 L532.7,248.16 L533.5,248.20 L534.4,248.23 L535.2,248.24" stroke="#8fd0f4" stroke-width="1.15" opacity="1.00"/>
<path d="M318.7,231.04 L319.5,229.30 L320.3,227.51 L321.1,225.68 L321.9,223.82 L322.7,221.91 L323.6,219.94 L324.4,217.89 L325.2,215.82 L326.0,213.77 L326.8,211.80 L327.6,209.86 L328.4,207.94 L329.3,206.07 L330.1,204.28 L330.9,202.63 L331.7,201.10 L332.5,199.62 L333.3,198.20 L334.1,196.79 L334.9,195.37 L335.8,193.90 L336.6,192.37 L337.4,190.77 L338.2,189.12 L339.0,187.48 L339.8,185.91 L340.6,184.45 L341.5,183.04 L342.3,181.71 L343.1,180.48 L343.9,179.40 L344.7,178.47 L345.5,177.65 L346.3,176.91 L347.2,176.24 L348.0,175.60 L348.8,174.97 L349.6,174.36 L350.4,173.80 L351.2,173.32 L352.0,172.95 L352.9,172.63 L353.7,172.35 L354.5,172.11 L355.3,171.92 L356.1,171.75 L356.9,171.61 L357.7,171.48 L358.6,171.37 L359.4,171.27 L360.2,171.19 L361.0,171.10 L361.8,171.02 L362.6,170.93 L363.4,170.84 L364.2,170.74 L365.1,170.63 L365.9,170.50 L366.7,170.35 L367.5,170.19 L368.3,170.03 L369.1,169.87 L369.9,169.73 L370.8,169.61 L371.6,169.51 L372.4,169.46 L373.2,169.47 L374.0,169.63 L374.8,169.94 L375.6,170.36 L376.5,170.84 L377.3,171.57 L378.1,172.52 L378.9,173.68 L379.7,175.10 L380.5,176.62 L381.3,178.10 L382.2,179.69 L383.0,181.28 L383.8,182.76 L384.6,183.84 L385.4,184.22 L386.2,184.20 L387.0,183.82 L387.9,182.71 L388.7,181.25 L389.5,179.86 L390.3,178.87 L391.1,178.56 L391.9,178.59 L392.7,178.78 L393.5,179.05 L394.4,179.36 L395.2,179.63 L396.0,179.81 L396.8,179.83 L397.6,179.77 L398.4,179.65 L399.2,179.48 L400.1,179.24 L400.9,178.74 L401.7,177.83 L402.5,176.40 L403.3,174.63 L404.1,172.75 L404.9,170.77 L405.8,168.82 L406.6,166.88 L407.4,164.88 L408.2,162.87 L409.0,160.90 L409.8,158.96 L410.6,157.08 L411.5,155.24 L412.3,153.42 L413.1,151.60 L413.9,149.74 L414.7,147.78 L415.5,145.77 L416.3,143.85 L417.2,142.03 L418.0,140.20 L418.8,138.42 L419.6,136.74 L420.4,135.23 L421.2,133.92 L422.0,132.82 L422.8,131.77 L423.7,130.81 L424.5,129.98 L425.3,129.34 L426.1,128.93 L426.9,128.65 L427.7,128.45 L428.5,128.35 L429.4,128.38 L430.2,128.62 L431.0,129.10 L431.8,129.78 L432.6,130.56 L433.4,131.43 L434.2,132.42 L435.1,133.51 L435.9,134.76 L436.7,136.15 L437.5,137.62 L438.3,139.16 L439.1,140.75 L439.9,142.37 L440.8,144.07 L441.6,145.88 L442.4,147.79 L443.2,149.81 L444.0,151.95 L444.8,154.22 L445.6,156.65 L446.5,159.34 L447.3,162.62 L448.1,166.33 L448.9,170.21 L449.7,174.12 L450.5,177.95 L451.3,181.71 L452.1,185.31 L453.0,188.59 L453.8,191.58 L454.6,194.41 L455.4,197.06 L456.2,199.51 L457.0,201.79 L457.8,203.92 L458.7,205.88 L459.5,207.64 L460.3,209.23 L461.1,210.69 L461.9,211.90 L462.7,212.73 L463.5,213.39 L464.4,213.93 L465.2,214.33 L466.0,214.63 L466.8,214.88 L467.6,215.09 L468.4,215.27 L469.2,215.42 L470.1,215.53 L470.9,215.64 L471.7,215.73 L472.5,215.82 L473.3,215.90 L474.1,215.98 L474.9,216.05 L475.8,216.12 L476.6,216.18 L477.4,216.24 L478.2,216.30 L479.0,216.35 L479.8,216.41 L480.6,216.47 L481.5,216.53 L482.3,216.59 L483.1,216.64 L483.9,216.69 L484.7,216.73 L485.5,216.78 L486.3,216.82 L487.1,216.87 L488.0,216.92 L488.8,216.97 L489.6,217.03 L490.4,217.09 L491.2,217.16 L492.0,217.25 L492.8,217.34 L493.7,217.46 L494.5,217.60 L495.3,217.77 L496.1,217.95 L496.9,218.15 L497.7,218.37 L498.5,218.59 L499.4,218.83 L500.2,219.07 L501.0,219.32 L501.8,219.58 L502.6,219.87 L503.4,220.18 L504.2,220.51 L505.1,220.87 L505.9,221.24 L506.7,221.64 L507.5,222.07 L508.3,222.52 L509.1,223.01 L509.9,223.57 L510.8,224.19 L511.6,224.87 L512.4,225.60 L513.2,226.37 L514.0,227.17 L514.8,228.09 L515.6,229.14 L516.4,230.25 L517.3,231.37 L518.1,232.46 L518.9,233.45 L519.7,234.29 L520.5,234.92 L521.3,235.47 L522.1,236.11 L523.0,237.03 L523.8,238.82 L524.6,241.17 L525.4,243.28 L526.2,244.83 L527.0,246.20 L527.8,247.24 L528.7,247.73 L529.5,247.88 L530.3,248.00 L531.1,248.09 L531.9,248.17 L532.7,248.22 L533.5,248.27 L534.4,248.29 L535.2,248.30" stroke="#2fd8c0" stroke-width="1.15" opacity="1.00"/>
<path d="M318.7,231.51 L319.5,229.81 L320.3,228.06 L321.1,226.28 L321.9,224.46 L322.7,222.61 L323.6,220.68 L324.4,218.69 L325.2,216.66 L326.0,214.66 L326.8,212.72 L327.6,210.82 L328.4,208.92 L329.3,207.07 L330.1,205.32 L330.9,203.73 L331.7,202.27 L332.5,200.89 L333.3,199.56 L334.1,198.25 L334.9,196.93 L335.8,195.54 L336.6,194.09 L337.4,192.57 L338.2,191.00 L339.0,189.45 L339.8,187.97 L340.6,186.58 L341.5,185.25 L342.3,184.00 L343.1,182.85 L343.9,181.83 L344.7,180.95 L345.5,180.16 L346.3,179.47 L347.2,178.83 L348.0,178.24 L348.8,177.65 L349.6,177.09 L350.4,176.57 L351.2,176.12 L352.0,175.76 L352.9,175.45 L353.7,175.18 L354.5,174.95 L355.3,174.77 L356.1,174.61 L356.9,174.47 L357.7,174.34 L358.6,174.24 L359.4,174.15 L360.2,174.06 L361.0,173.98 L361.8,173.90 L362.6,173.82 L363.4,173.74 L364.2,173.65 L365.1,173.55 L365.9,173.43 L366.7,173.30 L367.5,173.16 L368.3,173.01 L369.1,172.87 L369.9,172.75 L370.8,172.64 L371.6,172.56 L372.4,172.51 L373.2,172.52 L374.0,172.68 L374.8,172.98 L375.6,173.37 L376.5,173.84 L377.3,174.52 L378.1,175.41 L378.9,176.49 L379.7,177.86 L380.5,179.36 L381.3,180.83 L382.2,182.38 L383.0,183.90 L383.8,185.34 L384.6,186.40 L385.4,186.81 L386.2,186.78 L387.0,186.40 L387.9,185.36 L388.7,184.01 L389.5,182.76 L390.3,181.86 L391.1,181.55 L391.9,181.55 L392.7,181.67 L393.5,181.89 L394.4,182.13 L395.2,182.36 L396.0,182.51 L396.8,182.52 L397.6,182.46 L398.4,182.35 L399.2,182.19 L400.1,181.97 L400.9,181.44 L401.7,180.46 L402.5,178.97 L403.3,177.18 L404.1,175.34 L404.9,173.40 L405.8,171.48 L406.6,169.57 L407.4,167.62 L408.2,165.67 L409.0,163.77 L409.8,161.90 L410.6,160.09 L411.5,158.32 L412.3,156.57 L413.1,154.83 L413.9,153.08 L414.7,151.26 L415.5,149.41 L416.3,147.66 L417.2,145.98 L418.0,144.32 L418.8,142.70 L419.6,141.18 L420.4,139.80 L421.2,138.61 L422.0,137.60 L422.8,136.64 L423.7,135.75 L424.5,134.99 L425.3,134.40 L426.1,134.03 L426.9,133.78 L427.7,133.62 L428.5,133.56 L429.4,133.61 L430.2,133.85 L431.0,134.31 L431.8,134.97 L432.6,135.74 L433.4,136.60 L434.2,137.59 L435.1,138.68 L435.9,139.94 L436.7,141.35 L437.5,142.86 L438.3,144.45 L439.1,146.08 L439.9,147.73 L440.8,149.46 L441.6,151.28 L442.4,153.19 L443.2,155.20 L444.0,157.33 L444.8,159.57 L445.6,161.97 L446.5,164.60 L447.3,167.81 L448.1,171.43 L448.9,175.25 L449.7,179.15 L450.5,183.04 L451.3,186.88 L452.1,190.54 L453.0,193.84 L453.8,196.81 L454.6,199.60 L455.4,202.17 L456.2,204.53 L457.0,206.68 L457.8,208.65 L458.7,210.42 L459.5,211.97 L460.3,213.31 L461.1,214.50 L461.9,215.44 L462.7,216.08 L463.5,216.59 L464.4,217.03 L465.2,217.36 L466.0,217.61 L466.8,217.82 L467.6,218.00 L468.4,218.15 L469.2,218.29 L470.1,218.40 L470.9,218.50 L471.7,218.59 L472.5,218.68 L473.3,218.76 L474.1,218.84 L474.9,218.91 L475.8,218.98 L476.6,219.04 L477.4,219.11 L478.2,219.16 L479.0,219.22 L479.8,219.28 L480.6,219.33 L481.5,219.39 L482.3,219.44 L483.1,219.49 L483.9,219.54 L484.7,219.58 L485.5,219.62 L486.3,219.66 L487.1,219.70 L488.0,219.74 L488.8,219.78 L489.6,219.83 L490.4,219.89 L491.2,219.95 L492.0,220.02 L492.8,220.10 L493.7,220.21 L494.5,220.33 L495.3,220.48 L496.1,220.64 L496.9,220.82 L497.7,221.00 L498.5,221.20 L499.4,221.41 L500.2,221.62 L501.0,221.84 L501.8,222.09 L502.6,222.35 L503.4,222.63 L504.2,222.94 L505.1,223.26 L505.9,223.61 L506.7,223.98 L507.5,224.38 L508.3,224.79 L509.1,225.24 L509.9,225.76 L510.8,226.33 L511.6,226.96 L512.4,227.63 L513.2,228.33 L514.0,229.06 L514.8,229.89 L515.6,230.82 L516.4,231.81 L517.3,232.82 L518.1,233.80 L518.9,234.70 L519.7,235.48 L520.5,236.09 L521.3,236.63 L522.1,237.27 L523.0,238.18 L523.8,239.92 L524.6,242.12 L525.4,244.02 L526.2,245.40 L527.0,246.63 L527.8,247.51 L528.7,247.87 L529.5,248.01 L530.3,248.11 L531.1,248.20 L531.9,248.27 L532.7,248.32 L533.5,248.36 L534.4,248.38 L535.2,248.39" stroke="#16bde8" stroke-width="1.15" opacity="1.00"/>
<path d="M318.7,231.73 L319.5,230.06 L320.3,228.34 L321.1,226.58 L321.9,224.78 L322.7,222.95 L323.6,221.05 L324.4,219.07 L325.2,217.07 L326.0,215.09 L326.8,213.18 L327.6,211.29 L328.4,209.40 L329.3,207.57 L330.1,205.83 L330.9,204.26 L331.7,202.85 L332.5,201.51 L333.3,200.23 L334.1,198.97 L334.9,197.69 L335.8,196.35 L336.6,194.93 L337.4,193.45 L338.2,191.93 L339.0,190.42 L339.8,188.98 L340.6,187.63 L341.5,186.34 L342.3,185.13 L343.1,184.01 L343.9,183.02 L344.7,182.16 L345.5,181.40 L346.3,180.72 L347.2,180.11 L348.0,179.53 L348.8,178.97 L349.6,178.42 L350.4,177.92 L351.2,177.49 L352.0,177.14 L352.9,176.84 L353.7,176.57 L354.5,176.34 L355.3,176.16 L356.1,176.00 L356.9,175.87 L357.7,175.75 L358.6,175.64 L359.4,175.55 L360.2,175.47 L361.0,175.40 L361.8,175.32 L362.6,175.24 L363.4,175.16 L364.2,175.07 L365.1,174.98 L365.9,174.87 L366.7,174.74 L367.5,174.61 L368.3,174.48 L369.1,174.35 L369.9,174.23 L370.8,174.13 L371.6,174.05 L372.4,174.01 L373.2,174.02 L374.0,174.18 L374.8,174.46 L375.6,174.85 L376.5,175.31 L377.3,175.97 L378.1,176.82 L378.9,177.87 L379.7,179.21 L380.5,180.70 L381.3,182.17 L382.2,183.70 L383.0,185.18 L383.8,186.60 L384.6,187.66 L385.4,188.08 L386.2,188.05 L387.0,187.66 L387.9,186.65 L388.7,185.37 L389.5,184.19 L390.3,183.33 L391.1,183.02 L391.9,183.00 L392.7,183.09 L393.5,183.28 L394.4,183.50 L395.2,183.70 L396.0,183.83 L396.8,183.84 L397.6,183.78 L398.4,183.68 L399.2,183.52 L400.1,183.31 L400.9,182.77 L401.7,181.75 L402.5,180.23 L403.3,178.44 L404.1,176.61 L404.9,174.69 L405.8,172.79 L406.6,170.90 L407.4,168.96 L408.2,167.05 L409.0,165.18 L409.8,163.35 L410.6,161.56 L411.5,159.83 L412.3,158.12 L413.1,156.42 L413.9,154.72 L414.7,152.96 L415.5,151.20 L416.3,149.52 L417.2,147.93 L418.0,146.34 L418.8,144.80 L419.6,143.36 L420.4,142.05 L421.2,140.91 L422.0,139.95 L422.8,139.03 L423.7,138.18 L424.5,137.44 L425.3,136.88 L426.1,136.52 L426.9,136.30 L427.7,136.16 L428.5,136.11 L429.4,136.17 L430.2,136.41 L431.0,136.86 L431.8,137.51 L432.6,138.28 L433.4,139.14 L434.2,140.13 L435.1,141.21 L435.9,142.47 L436.7,143.90 L437.5,145.44 L438.3,147.05 L439.1,148.70 L439.9,150.36 L440.8,152.10 L441.6,153.93 L442.4,155.84 L443.2,157.85 L444.0,159.97 L444.8,162.20 L445.6,164.58 L446.5,167.19 L447.3,170.35 L448.1,173.94 L448.9,177.73 L449.7,181.62 L450.5,185.53 L451.3,189.41 L452.1,193.10 L453.0,196.42 L453.8,199.38 L454.6,202.14 L455.4,204.68 L456.2,206.99 L457.0,209.08 L457.8,210.97 L458.7,212.65 L459.5,214.09 L460.3,215.32 L461.1,216.36 L461.9,217.18 L462.7,217.73 L463.5,218.17 L464.4,218.54 L465.2,218.84 L466.0,219.07 L466.8,219.26 L467.6,219.42 L468.4,219.57 L469.2,219.69 L470.1,219.80 L470.9,219.90 L471.7,220.00 L472.5,220.09 L473.3,220.17 L474.1,220.25 L474.9,220.32 L475.8,220.39 L476.6,220.45 L477.4,220.51 L478.2,220.57 L479.0,220.63 L479.8,220.68 L480.6,220.74 L481.5,220.79 L482.3,220.85 L483.1,220.89 L483.9,220.94 L484.7,220.97 L485.5,221.01 L486.3,221.05 L487.1,221.08 L488.0,221.12 L488.8,221.16 L489.6,221.21 L490.4,221.26 L491.2,221.32 L492.0,221.38 L492.8,221.46 L493.7,221.56 L494.5,221.67 L495.3,221.81 L496.1,221.96 L496.9,222.12 L497.7,222.30 L498.5,222.48 L499.4,222.68 L500.2,222.88 L501.0,223.08 L501.8,223.31 L502.6,223.56 L503.4,223.84 L504.2,224.13 L505.1,224.44 L505.9,224.78 L506.7,225.13 L507.5,225.51 L508.3,225.91 L509.1,226.34 L509.9,226.83 L510.8,227.38 L511.6,227.98 L512.4,228.62 L513.2,229.29 L514.0,229.99 L514.8,230.77 L515.6,231.65 L516.4,232.58 L517.3,233.53 L518.1,234.45 L518.9,235.31 L519.7,236.07 L520.5,236.66 L521.3,237.20 L522.1,237.83 L523.0,238.75 L523.8,240.46 L524.6,242.58 L525.4,244.38 L526.2,245.68 L527.0,246.84 L527.8,247.64 L528.7,247.95 L529.5,248.07 L530.3,248.17 L531.1,248.25 L531.9,248.31 L532.7,248.37 L533.5,248.40 L534.4,248.43 L535.2,248.44" stroke="#f4c8b0" stroke-width="1.15" opacity="1.00"/>
<path d="M318.7,232.11 L319.5,230.47 L320.3,228.79 L321.1,227.07 L321.9,225.32 L322.7,223.52 L323.6,221.66 L324.4,219.72 L325.2,217.76 L326.0,215.82 L326.8,213.94 L327.6,212.08 L328.4,210.21 L329.3,208.39 L330.1,206.69 L330.9,205.17 L331.7,203.81 L332.5,202.55 L333.3,201.35 L334.1,200.17 L334.9,198.96 L335.8,197.69 L336.6,196.35 L337.4,194.94 L338.2,193.48 L339.0,192.04 L339.8,190.66 L340.6,189.38 L341.5,188.16 L342.3,187.02 L343.1,185.96 L343.9,185.02 L344.7,184.19 L345.5,183.47 L346.3,182.82 L347.2,182.24 L348.0,181.70 L348.8,181.17 L349.6,180.66 L350.4,180.19 L351.2,179.79 L352.0,179.45 L352.9,179.16 L353.7,178.90 L354.5,178.68 L355.3,178.50 L356.1,178.35 L356.9,178.21 L357.7,178.10 L358.6,178.00 L359.4,177.91 L360.2,177.84 L361.0,177.76 L361.8,177.69 L362.6,177.62 L363.4,177.54 L364.2,177.46 L365.1,177.38 L365.9,177.28 L366.7,177.16 L367.5,177.04 L368.3,176.93 L369.1,176.81 L369.9,176.71 L370.8,176.62 L371.6,176.55 L372.4,176.51 L373.2,176.53 L374.0,176.68 L374.8,176.96 L375.6,177.33 L376.5,177.77 L377.3,178.39 L378.1,179.19 L378.9,180.17 L379.7,181.48 L380.5,182.95 L381.3,184.42 L382.2,185.91 L383.0,187.33 L383.8,188.71 L384.6,189.76 L385.4,190.20 L386.2,190.17 L387.0,189.78 L387.9,188.83 L388.7,187.64 L389.5,186.57 L390.3,185.79 L391.1,185.48 L391.9,185.42 L392.7,185.47 L393.5,185.61 L394.4,185.78 L395.2,185.94 L396.0,186.05 L396.8,186.05 L397.6,186.00 L398.4,185.90 L399.2,185.75 L400.1,185.56 L400.9,185.00 L401.7,183.91 L402.5,182.34 L403.3,180.54 L404.1,178.74 L404.9,176.86 L405.8,174.98 L406.6,173.11 L407.4,171.21 L408.2,169.35 L409.0,167.54 L409.8,165.77 L410.6,164.04 L411.5,162.35 L412.3,160.70 L413.1,159.07 L413.9,157.46 L414.7,155.82 L415.5,154.19 L416.3,152.65 L417.2,151.18 L418.0,149.72 L418.8,148.32 L419.6,147.00 L420.4,145.81 L421.2,144.77 L422.0,143.88 L422.8,143.03 L423.7,142.24 L424.5,141.55 L425.3,141.03 L426.1,140.71 L426.9,140.52 L427.7,140.41 L428.5,140.39 L429.4,140.47 L430.2,140.71 L431.0,141.14 L431.8,141.77 L432.6,142.53 L433.4,143.39 L434.2,144.38 L435.1,145.45 L435.9,146.72 L436.7,148.18 L437.5,149.75 L438.3,151.40 L439.1,153.08 L439.9,154.77 L440.8,156.52 L441.6,158.36 L442.4,160.28 L443.2,162.28 L444.0,164.39 L444.8,166.60 L445.6,168.95 L446.5,171.51 L447.3,174.61 L448.1,178.13 L448.9,181.87 L449.7,185.76 L450.5,189.71 L451.3,193.66 L452.1,197.40 L453.0,200.73 L453.8,203.67 L454.6,206.39 L455.4,208.88 L456.2,211.11 L457.0,213.10 L457.8,214.86 L458.7,216.38 L459.5,217.65 L460.3,218.68 L461.1,219.49 L461.9,220.09 L462.7,220.48 L463.5,220.81 L464.4,221.09 L465.2,221.32 L466.0,221.51 L466.8,221.67 L467.6,221.81 L468.4,221.93 L469.2,222.05 L470.1,222.16 L470.9,222.25 L471.7,222.35 L472.5,222.44 L473.3,222.52 L474.1,222.60 L474.9,222.67 L475.8,222.74 L476.6,222.81 L477.4,222.87 L478.2,222.93 L479.0,222.98 L479.8,223.04 L480.6,223.09 L481.5,223.15 L482.3,223.19 L483.1,223.24 L483.9,223.28 L484.7,223.31 L485.5,223.34 L486.3,223.37 L487.1,223.41 L488.0,223.44 L488.8,223.47 L489.6,223.51 L490.4,223.56 L491.2,223.61 L492.0,223.66 L492.8,223.73 L493.7,223.82 L494.5,223.92 L495.3,224.03 L496.1,224.16 L496.9,224.31 L497.7,224.46 L498.5,224.62 L499.4,224.80 L500.2,224.97 L501.0,225.16 L501.8,225.37 L502.6,225.60 L503.4,225.85 L504.2,226.12 L505.1,226.41 L505.9,226.72 L506.7,227.05 L507.5,227.40 L508.3,227.77 L509.1,228.17 L509.9,228.63 L510.8,229.14 L511.6,229.69 L512.4,230.28 L513.2,230.90 L514.0,231.54 L514.8,232.25 L515.6,233.03 L516.4,233.87 L517.3,234.72 L518.1,235.55 L518.9,236.34 L519.7,237.05 L520.5,237.62 L521.3,238.15 L522.1,238.79 L523.0,239.70 L523.8,241.36 L524.6,243.36 L525.4,244.98 L526.2,246.16 L527.0,247.19 L527.8,247.86 L528.7,248.06 L529.5,248.17 L530.3,248.26 L531.1,248.34 L531.9,248.40 L532.7,248.44 L533.5,248.48 L534.4,248.50 L535.2,248.51" stroke="#16bde8" stroke-width="1.15" opacity="1.00"/>
<path d="M318.7,232.48 L319.5,230.88 L320.3,229.24 L321.1,227.55 L321.9,225.83 L322.7,224.07 L323.6,222.25 L324.4,220.35 L325.2,218.43 L326.0,216.52 L326.8,214.68 L327.6,212.84 L328.4,210.99 L329.3,209.19 L330.1,207.51 L330.9,206.04 L331.7,204.74 L332.5,203.55 L333.3,202.43 L334.1,201.32 L334.9,200.19 L335.8,198.99 L336.6,197.71 L337.4,196.37 L338.2,194.98 L339.0,193.61 L339.8,192.29 L340.6,191.07 L341.5,189.91 L342.3,188.84 L343.1,187.84 L343.9,186.94 L344.7,186.16 L345.5,185.46 L346.3,184.85 L347.2,184.30 L348.0,183.79 L348.8,183.30 L349.6,182.82 L350.4,182.39 L351.2,182.00 L352.0,181.68 L352.9,181.39 L353.7,181.14 L354.5,180.93 L355.3,180.75 L356.1,180.61 L356.9,180.48 L357.7,180.37 L358.6,180.27 L359.4,180.19 L360.2,180.12 L361.0,180.05 L361.8,179.98 L362.6,179.91 L363.4,179.84 L364.2,179.77 L365.1,179.69 L365.9,179.60 L366.7,179.50 L367.5,179.40 L368.3,179.29 L369.1,179.19 L369.9,179.10 L370.8,179.02 L371.6,178.97 L372.4,178.93 L373.2,178.95 L374.0,179.09 L374.8,179.36 L375.6,179.72 L376.5,180.14 L377.3,180.73 L378.1,181.47 L378.9,182.40 L379.7,183.67 L380.5,185.12 L381.3,186.58 L382.2,188.04 L383.0,189.41 L383.8,190.75 L384.6,191.79 L385.4,192.25 L386.2,192.22 L387.0,191.82 L387.9,190.92 L388.7,189.83 L389.5,188.87 L390.3,188.16 L391.1,187.86 L391.9,187.76 L392.7,187.77 L393.5,187.85 L394.4,187.98 L395.2,188.11 L396.0,188.19 L396.8,188.18 L397.6,188.13 L398.4,188.04 L399.2,187.90 L400.1,187.72 L400.9,187.14 L401.7,186.00 L402.5,184.38 L403.3,182.57 L404.1,180.80 L404.9,178.95 L405.8,177.09 L406.6,175.24 L407.4,173.38 L408.2,171.57 L409.0,169.82 L409.8,168.10 L410.6,166.42 L411.5,164.79 L412.3,163.20 L413.1,161.64 L413.9,160.11 L414.7,158.58 L415.5,157.08 L416.3,155.67 L417.2,154.32 L418.0,152.99 L418.8,151.72 L419.6,150.52 L420.4,149.43 L421.2,148.49 L422.0,147.68 L422.8,146.89 L423.7,146.16 L424.5,145.52 L425.3,145.04 L426.1,144.74 L426.9,144.59 L427.7,144.51 L428.5,144.52 L429.4,144.62 L430.2,144.86 L431.0,145.27 L431.8,145.89 L432.6,146.64 L433.4,147.50 L434.2,148.48 L435.1,149.55 L435.9,150.83 L436.7,152.30 L437.5,153.91 L438.3,155.59 L439.1,157.32 L439.9,159.03 L440.8,160.79 L441.6,162.64 L442.4,164.56 L443.2,166.56 L444.0,168.66 L444.8,170.85 L445.6,173.17 L446.5,175.68 L447.3,178.72 L448.1,182.18 L448.9,185.87 L449.7,189.75 L450.5,193.75 L451.3,197.75 L452.1,201.55 L453.0,204.89 L453.8,207.82 L454.6,210.50 L455.4,212.93 L456.2,215.09 L457.0,216.98 L457.8,218.62 L458.7,219.98 L459.5,220.99 L460.3,221.56 L461.1,222.03 L461.9,222.40 L462.7,222.69 L463.5,222.93 L464.4,223.15 L465.2,223.35 L466.0,223.52 L466.8,223.66 L467.6,223.78 L468.4,223.89 L469.2,224.00 L470.1,224.10 L470.9,224.20 L471.7,224.29 L472.5,224.38 L473.3,224.46 L474.1,224.54 L474.9,224.61 L475.8,224.68 L476.6,224.74 L477.4,224.80 L478.2,224.86 L479.0,224.92 L479.8,224.97 L480.6,225.02 L481.5,225.07 L482.3,225.12 L483.1,225.16 L483.9,225.19 L484.7,225.22 L485.5,225.24 L486.3,225.27 L487.1,225.30 L488.0,225.32 L488.8,225.35 L489.6,225.38 L490.4,225.42 L491.2,225.46 L492.0,225.51 L492.8,225.57 L493.7,225.64 L494.5,225.73 L495.3,225.83 L496.1,225.95 L496.9,226.07 L497.7,226.21 L498.5,226.35 L499.4,226.50 L500.2,226.66 L501.0,226.84 L501.8,227.03 L502.6,227.24 L503.4,227.48 L504.2,227.74 L505.1,228.01 L505.9,228.31 L506.7,228.62 L507.5,228.95 L508.3,229.30 L509.1,229.67 L509.9,230.10 L510.8,230.58 L511.6,231.10 L512.4,231.66 L513.2,232.24 L514.0,232.83 L514.8,233.48 L515.6,234.19 L516.4,234.95 L517.3,235.72 L518.1,236.49 L518.9,237.22 L519.7,237.89 L520.5,238.43 L521.3,238.95 L522.1,239.58 L523.0,240.46 L523.8,242.05 L524.6,243.92 L525.4,245.39 L526.2,246.47 L527.0,247.40 L527.8,247.99 L528.7,248.14 L529.5,248.24 L530.3,248.32 L531.1,248.39 L531.9,248.45 L532.7,248.50 L533.5,248.53 L534.4,248.55 L535.2,248.56" stroke="#70dcc8" stroke-width="1.15" opacity="1.00"/>
<path d="M318.7,232.83 L319.5,231.26 L320.3,229.65 L321.1,228.00 L321.9,226.31 L322.7,224.59 L323.6,222.80 L324.4,220.94 L325.2,219.05 L326.0,217.18 L326.8,215.36 L327.6,213.55 L328.4,211.72 L329.3,209.94 L330.1,208.29 L330.9,206.85 L331.7,205.62 L332.5,204.49 L333.3,203.44 L334.1,202.40 L334.9,201.34 L335.8,200.21 L336.6,198.99 L337.4,197.71 L338.2,196.39 L339.0,195.07 L339.8,193.82 L340.6,192.65 L341.5,191.56 L342.3,190.54 L343.1,189.59 L343.9,188.74 L344.7,187.99 L345.5,187.33 L346.3,186.75 L347.2,186.23 L348.0,185.75 L348.8,185.29 L349.6,184.85 L350.4,184.44 L351.2,184.08 L352.0,183.77 L352.9,183.49 L353.7,183.24 L354.5,183.03 L355.3,182.87 L356.1,182.73 L356.9,182.60 L357.7,182.49 L358.6,182.40 L359.4,182.32 L360.2,182.25 L361.0,182.19 L361.8,182.12 L362.6,182.06 L363.4,181.99 L364.2,181.93 L365.1,181.86 L365.9,181.77 L366.7,181.69 L367.5,181.60 L368.3,181.50 L369.1,181.42 L369.9,181.34 L370.8,181.28 L371.6,181.23 L372.4,181.20 L373.2,181.22 L374.0,181.36 L374.8,181.61 L375.6,181.96 L376.5,182.37 L377.3,182.93 L378.1,183.61 L378.9,184.48 L379.7,185.72 L380.5,187.16 L381.3,188.61 L382.2,190.04 L383.0,191.35 L383.8,192.66 L384.6,193.70 L385.4,194.17 L386.2,194.13 L387.0,193.73 L387.9,192.89 L388.7,191.89 L389.5,191.02 L390.3,190.38 L391.1,190.08 L391.9,189.96 L392.7,189.92 L393.5,189.96 L394.4,190.04 L395.2,190.13 L396.0,190.19 L396.8,190.18 L397.6,190.13 L398.4,190.04 L399.2,189.92 L400.1,189.75 L400.9,189.15 L401.7,187.95 L402.5,186.28 L403.3,184.47 L404.1,182.73 L404.9,180.90 L405.8,179.07 L406.6,177.24 L407.4,175.42 L408.2,173.65 L409.0,171.96 L409.8,170.29 L410.6,168.66 L411.5,167.07 L412.3,165.53 L413.1,164.04 L413.9,162.59 L414.7,161.16 L415.5,159.79 L416.3,158.49 L417.2,157.26 L418.0,156.05 L418.8,154.90 L419.6,153.81 L420.4,152.83 L421.2,151.97 L422.0,151.23 L422.8,150.51 L423.7,149.83 L424.5,149.24 L425.3,148.79 L426.1,148.52 L426.9,148.40 L427.7,148.35 L428.5,148.38 L429.4,148.50 L430.2,148.74 L431.0,149.13 L431.8,149.73 L432.6,150.48 L433.4,151.34 L434.2,152.32 L435.1,153.38 L435.9,154.67 L436.7,156.16 L437.5,157.80 L438.3,159.52 L439.1,161.28 L439.9,163.01 L440.8,164.79 L441.6,166.64 L442.4,168.57 L443.2,170.57 L444.0,172.65 L444.8,174.82 L445.6,177.12 L446.5,179.59 L447.3,182.57 L448.1,185.97 L448.9,189.62 L449.7,193.49 L450.5,197.53 L451.3,201.59 L452.1,205.43 L453.0,208.79 L453.8,211.70 L454.6,214.35 L455.4,216.73 L456.2,218.81 L457.0,219.94 L457.8,220.83 L458.7,221.62 L459.5,222.32 L460.3,222.91 L461.1,223.39 L461.9,223.77 L462.7,224.05 L463.5,224.29 L464.4,224.50 L465.2,224.70 L466.0,224.86 L466.8,225.00 L467.6,225.12 L468.4,225.24 L469.2,225.34 L470.1,225.44 L470.9,225.53 L471.7,225.62 L472.5,225.70 L473.3,225.78 L474.1,225.85 L474.9,225.92 L475.8,225.98 L476.6,226.05 L477.4,226.10 L478.2,226.16 L479.0,226.21 L479.8,226.26 L480.6,226.31 L481.5,226.35 L482.3,226.39 L483.1,226.42 L483.9,226.45 L484.7,226.47 L485.5,226.49 L486.3,226.51 L487.1,226.53 L488.0,226.55 L488.8,226.57 L489.6,226.59 L490.4,226.63 L491.2,226.66 L492.0,226.70 L492.8,226.76 L493.7,226.82 L494.5,226.90 L495.3,226.99 L496.1,227.09 L496.9,227.20 L497.7,227.32 L498.5,227.45 L499.4,227.59 L500.2,227.74 L501.0,227.90 L501.8,228.09 L502.6,228.30 L503.4,228.53 L504.2,228.79 L505.1,229.06 L505.9,229.34 L506.7,229.64 L507.5,229.97 L508.3,230.31 L509.1,230.68 L509.9,231.10 L510.8,231.56 L511.6,232.06 L512.4,232.59 L513.2,233.15 L514.0,233.71 L514.8,234.33 L515.6,235.01 L516.4,235.72 L517.3,236.46 L518.1,237.18 L518.9,237.87 L519.7,238.50 L520.5,239.03 L521.3,239.53 L522.1,240.12 L523.0,240.96 L523.8,242.43 L524.6,244.15 L525.4,245.53 L526.2,246.54 L527.0,247.42 L527.8,247.98 L528.7,248.14 L529.5,248.24 L530.3,248.33 L531.1,248.41 L531.9,248.47 L532.7,248.51 L533.5,248.55 L534.4,248.57 L535.2,248.59" stroke="#16bde8" stroke-width="1.15" opacity="1.00"/>
<path d="M318.7,233.39 L319.5,231.87 L320.3,230.32 L321.1,228.73 L321.9,227.10 L322.7,225.43 L323.6,223.70 L324.4,221.89 L325.2,220.06 L326.0,218.25 L326.8,216.48 L327.6,214.71 L328.4,212.90 L329.3,211.15 L330.1,209.54 L330.9,208.17 L331.7,207.03 L332.5,206.02 L333.3,205.08 L334.1,204.16 L334.9,203.22 L335.8,202.18 L336.6,201.07 L337.4,199.88 L338.2,198.67 L339.0,197.46 L339.8,196.30 L340.6,195.22 L341.5,194.23 L342.3,193.31 L343.1,192.45 L343.9,191.67 L344.7,190.98 L345.5,190.36 L346.3,189.84 L347.2,189.36 L348.0,188.93 L348.8,188.52 L349.6,188.13 L350.4,187.77 L351.2,187.45 L352.0,187.16 L352.9,186.89 L353.7,186.66 L354.5,186.46 L355.3,186.30 L356.1,186.16 L356.9,186.05 L357.7,185.94 L358.6,185.86 L359.4,185.79 L360.2,185.72 L361.0,185.67 L361.8,185.61 L362.6,185.55 L363.4,185.49 L364.2,185.43 L365.1,185.37 L365.9,185.31 L366.7,185.24 L367.5,185.17 L368.3,185.10 L369.1,185.04 L369.9,184.98 L370.8,184.93 L371.6,184.90 L372.4,184.88 L373.2,184.90 L374.0,185.03 L374.8,185.27 L375.6,185.59 L376.5,185.98 L377.3,186.49 L378.1,187.09 L378.9,187.87 L379.7,189.05 L380.5,190.46 L381.3,191.90 L382.2,193.28 L383.0,194.51 L383.8,195.77 L384.6,196.79 L385.4,197.29 L386.2,197.24 L387.0,196.83 L387.9,196.08 L388.7,195.22 L389.5,194.52 L390.3,193.99 L391.1,193.69 L391.9,193.52 L392.7,193.42 L393.5,193.38 L394.4,193.39 L395.2,193.43 L396.0,193.45 L396.8,193.42 L397.6,193.38 L398.4,193.30 L399.2,193.19 L400.1,193.04 L400.9,192.42 L401.7,191.12 L402.5,189.38 L403.3,187.55 L404.1,185.85 L404.9,184.08 L405.8,182.28 L406.6,180.49 L407.4,178.72 L408.2,177.03 L409.0,175.42 L409.8,173.84 L410.6,172.29 L411.5,170.78 L412.3,169.33 L413.1,167.94 L413.9,166.62 L414.7,165.36 L415.5,164.18 L416.3,163.08 L417.2,162.03 L418.0,161.02 L418.8,160.06 L419.6,159.17 L420.4,158.35 L421.2,157.63 L422.0,157.00 L422.8,156.38 L423.7,155.79 L424.5,155.28 L425.3,154.89 L426.1,154.67 L426.9,154.58 L427.7,154.58 L428.5,154.66 L429.4,154.81 L430.2,155.05 L431.0,155.41 L431.8,155.99 L432.6,156.72 L433.4,157.58 L434.2,158.55 L435.1,159.61 L435.9,160.91 L436.7,162.44 L437.5,164.13 L438.3,165.91 L439.1,167.71 L439.9,169.48 L440.8,171.29 L441.6,173.15 L442.4,175.08 L443.2,177.08 L444.0,179.14 L444.8,181.28 L445.6,183.53 L446.5,185.93 L447.3,188.82 L448.1,192.13 L448.9,195.71 L449.7,199.56 L450.5,203.67 L451.3,207.82 L452.1,211.74 L453.0,215.12 L453.8,217.02 L454.6,218.39 L455.4,219.66 L456.2,220.83 L457.0,221.91 L457.8,222.87 L458.7,223.73 L459.5,224.48 L460.3,225.10 L461.1,225.60 L461.9,225.98 L462.7,226.26 L463.5,226.49 L464.4,226.70 L465.2,226.88 L466.0,227.05 L466.8,227.18 L467.6,227.31 L468.4,227.42 L469.2,227.52 L470.1,227.61 L470.9,227.69 L471.7,227.77 L472.5,227.85 L473.3,227.92 L474.1,227.99 L474.9,228.05 L475.8,228.11 L476.6,228.16 L477.4,228.22 L478.2,228.27 L479.0,228.31 L479.8,228.36 L480.6,228.40 L481.5,228.43 L482.3,228.46 L483.1,228.49 L483.9,228.50 L484.7,228.51 L485.5,228.52 L486.3,228.53 L487.1,228.53 L488.0,228.54 L488.8,228.55 L489.6,228.56 L490.4,228.59 L491.2,228.61 L492.0,228.64 L492.8,228.68 L493.7,228.73 L494.5,228.79 L495.3,228.86 L496.1,228.95 L496.9,229.04 L497.7,229.14 L498.5,229.24 L499.4,229.36 L500.2,229.49 L501.0,229.64 L501.8,229.82 L502.6,230.02 L503.4,230.24 L504.2,230.49 L505.1,230.75 L505.9,231.02 L506.7,231.31 L507.5,231.63 L508.3,231.96 L509.1,232.32 L509.9,232.72 L510.8,233.15 L511.6,233.62 L512.4,234.11 L513.2,234.62 L514.0,235.15 L514.8,235.71 L515.6,236.33 L516.4,236.98 L517.3,237.65 L518.1,238.30 L518.9,238.93 L519.7,239.51 L520.5,240.00 L521.3,240.47 L522.1,241.01 L523.0,241.76 L523.8,243.04 L524.6,244.53 L525.4,245.74 L526.2,246.65 L527.0,247.45 L527.8,247.97 L528.7,248.14 L529.5,248.25 L530.3,248.35 L531.1,248.43 L531.9,248.49 L532.7,248.54 L533.5,248.58 L534.4,248.61 L535.2,248.62" stroke="#a8e4f0" stroke-width="1.15" opacity="1.00"/>
<path d="M318.7,233.67 L319.5,232.19 L320.3,230.67 L321.1,229.10 L321.9,227.50 L322.7,225.86 L323.6,224.16 L324.4,222.39 L325.2,220.59 L326.0,218.80 L326.8,217.06 L327.6,215.31 L328.4,213.51 L329.3,211.77 L330.1,210.19 L330.9,208.86 L331.7,207.76 L332.5,206.80 L333.3,205.92 L334.1,205.07 L334.9,204.18 L335.8,203.20 L336.6,202.14 L337.4,201.00 L338.2,199.84 L339.0,198.68 L339.8,197.57 L340.6,196.54 L341.5,195.60 L342.3,194.74 L343.1,193.93 L343.9,193.18 L344.7,192.52 L345.5,191.93 L346.3,191.43 L347.2,190.98 L348.0,190.57 L348.8,190.19 L349.6,189.83 L350.4,189.49 L351.2,189.19 L352.0,188.91 L352.9,188.65 L353.7,188.42 L354.5,188.22 L355.3,188.07 L356.1,187.94 L356.9,187.82 L357.7,187.72 L358.6,187.64 L359.4,187.57 L360.2,187.51 L361.0,187.46 L361.8,187.40 L362.6,187.35 L363.4,187.29 L364.2,187.24 L365.1,187.19 L365.9,187.13 L366.7,187.07 L367.5,187.01 L368.3,186.96 L369.1,186.90 L369.9,186.86 L370.8,186.82 L371.6,186.79 L372.4,186.78 L373.2,186.80 L374.0,186.92 L374.8,187.15 L375.6,187.47 L376.5,187.85 L377.3,188.32 L378.1,188.88 L378.9,189.61 L379.7,190.77 L380.5,192.16 L381.3,193.60 L382.2,194.95 L383.0,196.14 L383.8,197.37 L384.6,198.38 L385.4,198.90 L386.2,198.85 L387.0,198.43 L387.9,197.72 L388.7,196.94 L389.5,196.33 L390.3,195.85 L391.1,195.55 L391.9,195.35 L392.7,195.22 L393.5,195.14 L394.4,195.12 L395.2,195.12 L396.0,195.12 L396.8,195.10 L397.6,195.05 L398.4,194.98 L399.2,194.88 L400.1,194.74 L400.9,194.10 L401.7,192.75 L402.5,190.98 L403.3,189.14 L404.1,187.47 L404.9,185.72 L405.8,183.94 L406.6,182.17 L407.4,180.43 L408.2,178.77 L409.0,177.21 L409.8,175.67 L410.6,174.16 L411.5,172.69 L412.3,171.29 L413.1,169.95 L413.9,168.70 L414.7,167.53 L415.5,166.45 L416.3,165.44 L417.2,164.49 L418.0,163.59 L418.8,162.73 L419.6,161.93 L420.4,161.20 L421.2,160.55 L422.0,159.98 L422.8,159.41 L423.7,158.87 L424.5,158.39 L425.3,158.03 L426.1,157.83 L426.9,157.77 L427.7,157.80 L428.5,157.90 L429.4,158.06 L430.2,158.30 L431.0,158.65 L431.8,159.21 L432.6,159.94 L433.4,160.80 L434.2,161.77 L435.1,162.82 L435.9,164.12 L436.7,165.67 L437.5,167.39 L438.3,169.20 L439.1,171.03 L439.9,172.82 L440.8,174.63 L441.6,176.51 L442.4,178.44 L443.2,180.44 L444.0,182.49 L444.8,184.61 L445.6,186.84 L446.5,189.20 L447.3,192.04 L448.1,195.31 L448.9,198.84 L449.7,202.69 L450.5,206.84 L451.3,211.03 L452.1,214.30 L453.0,216.24 L453.8,217.79 L454.6,219.22 L455.4,220.56 L456.2,221.80 L457.0,222.92 L457.8,223.93 L458.7,224.82 L459.5,225.59 L460.3,226.23 L461.1,226.74 L461.9,227.13 L462.7,227.40 L463.5,227.62 L464.4,227.83 L465.2,228.01 L466.0,228.17 L466.8,228.31 L467.6,228.43 L468.4,228.54 L469.2,228.64 L470.1,228.73 L470.9,228.81 L471.7,228.88 L472.5,228.96 L473.3,229.02 L474.1,229.09 L474.9,229.15 L475.8,229.20 L476.6,229.26 L477.4,229.31 L478.2,229.35 L479.0,229.40 L479.8,229.44 L480.6,229.47 L481.5,229.51 L482.3,229.53 L483.1,229.55 L483.9,229.56 L484.7,229.57 L485.5,229.57 L486.3,229.57 L487.1,229.57 L488.0,229.57 L488.8,229.57 L489.6,229.58 L490.4,229.60 L491.2,229.62 L492.0,229.64 L492.8,229.67 L493.7,229.72 L494.5,229.77 L495.3,229.83 L496.1,229.90 L496.9,229.98 L497.7,230.07 L498.5,230.17 L499.4,230.27 L500.2,230.39 L501.0,230.53 L501.8,230.70 L502.6,230.90 L503.4,231.13 L504.2,231.37 L505.1,231.62 L505.9,231.89 L506.7,232.17 L507.5,232.48 L508.3,232.81 L509.1,233.16 L509.9,233.55 L510.8,233.97 L511.6,234.42 L512.4,234.89 L513.2,235.39 L514.0,235.89 L514.8,236.43 L515.6,237.02 L516.4,237.63 L517.3,238.26 L518.1,238.88 L518.9,239.48 L519.7,240.03 L520.5,240.50 L521.3,240.95 L522.1,241.47 L523.0,242.17 L523.8,243.35 L524.6,244.73 L525.4,245.86 L526.2,246.71 L527.0,247.47 L527.8,247.96 L528.7,248.14 L529.5,248.26 L530.3,248.36 L531.1,248.44 L531.9,248.51 L532.7,248.56 L533.5,248.60 L534.4,248.62 L535.2,248.64" stroke="#f2c8b0" stroke-width="1.15" opacity="1.00"/>
<path d="M318.7,235.61 L319.5,234.34 L320.3,233.02 L321.1,231.65 L321.9,230.24 L322.7,228.79 L323.6,227.27 L324.4,225.68 L325.2,224.04 L326.0,222.40 L326.8,220.77 L327.6,219.05 L328.4,217.25 L329.3,215.52 L330.1,214.00 L330.9,212.80 L331.7,211.86 L332.5,211.05 L333.3,210.33 L334.1,209.64 L334.9,208.92 L335.8,208.13 L336.6,207.27 L337.4,206.37 L338.2,205.46 L339.0,204.55 L339.8,203.68 L340.6,202.85 L341.5,202.09 L342.3,201.39 L343.1,200.71 L343.9,200.07 L344.7,199.47 L345.5,198.92 L346.3,198.43 L347.2,197.97 L348.0,197.54 L348.8,197.14 L349.6,196.78 L350.4,196.46 L351.2,196.18 L352.0,195.90 L352.9,195.65 L353.7,195.42 L354.5,195.22 L355.3,195.06 L356.1,194.92 L356.9,194.79 L357.7,194.68 L358.6,194.60 L359.4,194.55 L360.2,194.51 L361.0,194.48 L361.8,194.44 L362.6,194.41 L363.4,194.38 L364.2,194.35 L365.1,194.33 L365.9,194.30 L366.7,194.28 L367.5,194.24 L368.3,194.20 L369.1,194.16 L369.9,194.12 L370.8,194.08 L371.6,194.06 L372.4,194.05 L373.2,194.07 L374.0,194.17 L374.8,194.35 L375.6,194.58 L376.5,194.88 L377.3,195.22 L378.1,195.61 L378.9,196.14 L379.7,197.14 L380.5,198.43 L381.3,199.80 L382.2,201.21 L383.0,202.59 L383.8,203.91 L384.6,204.88 L385.4,205.47 L386.2,205.51 L387.0,205.15 L387.9,204.60 L388.7,204.04 L389.5,203.62 L390.3,203.23 L391.1,202.87 L391.9,202.61 L392.7,202.46 L393.5,202.37 L394.4,202.33 L395.2,202.31 L396.0,202.29 L396.8,202.25 L397.6,202.20 L398.4,202.13 L399.2,202.04 L400.1,201.91 L400.9,201.37 L401.7,200.26 L402.5,198.86 L403.3,197.42 L404.1,196.12 L404.9,194.75 L405.8,193.32 L406.6,191.89 L407.4,190.48 L408.2,189.10 L409.0,187.77 L409.8,186.42 L410.6,185.08 L411.5,183.79 L412.3,182.56 L413.1,181.43 L413.9,180.43 L414.7,179.53 L415.5,178.75 L416.3,178.01 L417.2,177.33 L418.0,176.69 L418.8,176.10 L419.6,175.55 L420.4,175.05 L421.2,174.58 L422.0,174.15 L422.8,173.72 L423.7,173.31 L424.5,172.95 L425.3,172.67 L426.1,172.48 L426.9,172.41 L427.7,172.44 L428.5,172.57 L429.4,172.80 L430.2,173.08 L431.0,173.41 L431.8,173.92 L432.6,174.58 L433.4,175.37 L434.2,176.25 L435.1,177.22 L435.9,178.48 L436.7,180.01 L437.5,181.73 L438.3,183.54 L439.1,185.34 L439.9,187.04 L440.8,188.73 L441.6,190.45 L442.4,192.23 L443.2,194.04 L444.0,195.88 L444.8,197.78 L445.6,199.78 L446.5,201.87 L447.3,204.06 L448.1,206.31 L448.9,208.56 L449.7,210.89 L450.5,213.30 L451.3,215.58 L452.1,217.61 L453.0,219.21 L453.8,220.45 L454.6,221.52 L455.4,222.46 L456.2,223.27 L457.0,223.94 L457.8,224.50 L458.7,224.99 L459.5,225.40 L460.3,225.74 L461.1,226.04 L461.9,226.31 L462.7,226.56 L463.5,226.79 L464.4,227.00 L465.2,227.18 L466.0,227.35 L466.8,227.48 L467.6,227.60 L468.4,227.72 L469.2,227.82 L470.1,227.91 L470.9,227.99 L471.7,228.07 L472.5,228.14 L473.3,228.21 L474.1,228.28 L474.9,228.34 L475.8,228.40 L476.6,228.45 L477.4,228.51 L478.2,228.55 L479.0,228.60 L479.8,228.64 L480.6,228.68 L481.5,228.72 L482.3,228.75 L483.1,228.77 L483.9,228.78 L484.7,228.79 L485.5,228.80 L486.3,228.80 L487.1,228.81 L488.0,228.81 L488.8,228.82 L489.6,228.83 L490.4,228.85 L491.2,228.88 L492.0,228.91 L492.8,228.94 L493.7,228.99 L494.5,229.05 L495.3,229.12 L496.1,229.20 L496.9,229.29 L497.7,229.38 L498.5,229.49 L499.4,229.60 L500.2,229.72 L501.0,229.87 L501.8,230.05 L502.6,230.25 L503.4,230.48 L504.2,230.72 L505.1,230.98 L505.9,231.25 L506.7,231.54 L507.5,231.85 L508.3,232.19 L509.1,232.54 L509.9,232.94 L510.8,233.37 L511.6,233.83 L512.4,234.32 L513.2,234.83 L514.0,235.35 L514.8,235.90 L515.6,236.51 L516.4,237.15 L517.3,237.81 L518.1,238.46 L518.9,239.08 L519.7,239.65 L520.5,240.13 L521.3,240.59 L522.1,241.13 L523.0,241.87 L523.8,243.12 L524.6,244.59 L525.4,245.77 L526.2,246.67 L527.0,247.45 L527.8,247.97 L528.7,248.14 L529.5,248.26 L530.3,248.35 L531.1,248.43 L531.9,248.50 L532.7,248.55 L533.5,248.58 L534.4,248.61 L535.2,248.63" stroke="#f6c0a8" stroke-width="1.15" opacity="1.00"/>
<path d="M318.7,236.61 L319.5,235.46 L320.3,234.25 L321.1,232.99 L321.9,231.67 L322.7,230.31 L323.6,228.88 L324.4,227.38 L325.2,225.82 L326.0,224.24 L326.8,222.64 L327.6,220.90 L328.4,219.06 L329.3,217.30 L330.1,215.79 L330.9,214.63 L331.7,213.70 L332.5,212.89 L333.3,212.17 L334.1,211.49 L334.9,210.78 L335.8,210.02 L336.6,209.22 L337.4,208.41 L338.2,207.59 L339.0,206.78 L339.8,205.98 L340.6,205.22 L341.5,204.50 L342.3,203.82 L343.1,203.16 L343.9,202.52 L344.7,201.90 L345.5,201.33 L346.3,200.79 L347.2,200.27 L348.0,199.75 L348.8,199.27 L349.6,198.85 L350.4,198.50 L351.2,198.18 L352.0,197.89 L352.9,197.62 L353.7,197.38 L354.5,197.17 L355.3,197.00 L356.1,196.84 L356.9,196.69 L357.7,196.57 L358.6,196.47 L359.4,196.42 L360.2,196.40 L361.0,196.38 L361.8,196.36 L362.6,196.34 L363.4,196.32 L364.2,196.30 L365.1,196.28 L365.9,196.27 L366.7,196.25 L367.5,196.21 L368.3,196.15 L369.1,196.09 L369.9,196.03 L370.8,195.98 L371.6,195.94 L372.4,195.93 L373.2,195.95 L374.0,196.04 L374.8,196.18 L375.6,196.38 L376.5,196.63 L377.3,196.92 L378.1,197.25 L378.9,197.73 L379.7,198.67 L380.5,199.89 L381.3,201.22 L382.2,202.73 L383.0,204.38 L383.8,205.86 L384.6,206.80 L385.4,207.42 L386.2,207.54 L387.0,207.24 L387.9,206.73 L388.7,206.18 L389.5,205.74 L390.3,205.28 L391.1,204.86 L391.9,204.61 L392.7,204.54 L393.5,204.52 L394.4,204.55 L395.2,204.58 L396.0,204.58 L396.8,204.55 L397.6,204.50 L398.4,204.41 L399.2,204.30 L400.1,204.16 L400.9,203.74 L401.7,202.96 L402.5,201.96 L403.3,200.89 L404.1,199.86 L404.9,198.75 L405.8,197.58 L406.6,196.40 L407.4,195.21 L408.2,193.99 L409.0,192.75 L409.8,191.47 L410.6,190.19 L411.5,188.93 L412.3,187.76 L413.1,186.69 L413.9,185.75 L414.7,184.89 L415.5,184.12 L416.3,183.39 L417.2,182.71 L418.0,182.07 L418.8,181.48 L419.6,180.92 L420.4,180.41 L421.2,179.93 L422.0,179.48 L422.8,179.05 L423.7,178.65 L424.5,178.30 L425.3,178.01 L426.1,177.78 L426.9,177.65 L427.7,177.62 L428.5,177.73 L429.4,177.98 L430.2,178.30 L431.0,178.65 L431.8,179.14 L432.6,179.76 L433.4,180.48 L434.2,181.30 L435.1,182.21 L435.9,183.42 L436.7,184.90 L437.5,186.55 L438.3,188.28 L439.1,189.99 L439.9,191.59 L440.8,193.14 L441.6,194.71 L442.4,196.34 L443.2,198.00 L444.0,199.69 L444.8,201.43 L445.6,203.28 L446.5,205.24 L447.3,207.36 L448.1,209.59 L448.9,211.85 L449.7,214.17 L450.5,216.49 L451.3,218.66 L452.1,220.64 L453.0,222.30 L453.8,223.69 L454.6,224.89 L455.4,225.98 L456.2,226.93 L457.0,227.70 L457.8,228.31 L458.7,228.83 L459.5,229.26 L460.3,229.60 L461.1,229.90 L461.9,230.16 L462.7,230.39 L463.5,230.61 L464.4,230.80 L465.2,230.97 L466.0,231.13 L466.8,231.27 L467.6,231.39 L468.4,231.50 L469.2,231.59 L470.1,231.67 L470.9,231.74 L471.7,231.80 L472.5,231.87 L473.3,231.93 L474.1,231.98 L474.9,232.03 L475.8,232.08 L476.6,232.13 L477.4,232.17 L478.2,232.21 L479.0,232.24 L479.8,232.27 L480.6,232.30 L481.5,232.33 L482.3,232.34 L483.1,232.35 L483.9,232.34 L484.7,232.33 L485.5,232.32 L486.3,232.30 L487.1,232.28 L488.0,232.26 L488.8,232.25 L489.6,232.25 L490.4,232.25 L491.2,232.26 L492.0,232.27 L492.8,232.28 L493.7,232.30 L494.5,232.33 L495.3,232.37 L496.1,232.42 L496.9,232.47 L497.7,232.53 L498.5,232.59 L499.4,232.66 L500.2,232.75 L501.0,232.88 L501.8,233.04 L502.6,233.23 L503.4,233.44 L504.2,233.67 L505.1,233.92 L505.9,234.17 L506.7,234.43 L507.5,234.73 L508.3,235.04 L509.1,235.38 L509.9,235.74 L510.8,236.13 L511.6,236.53 L512.4,236.95 L513.2,237.39 L514.0,237.84 L514.8,238.31 L515.6,238.81 L516.4,239.34 L517.3,239.87 L518.1,240.40 L518.9,240.91 L519.7,241.39 L520.5,241.81 L521.3,242.22 L522.1,242.68 L523.0,243.26 L523.8,244.18 L524.6,245.25 L525.4,246.15 L526.2,246.86 L527.0,247.50 L527.8,247.95 L528.7,248.15 L529.5,248.27 L530.3,248.38 L531.1,248.47 L531.9,248.54 L532.7,248.60 L533.5,248.64 L534.4,248.67 L535.2,248.69" stroke="#90e4cc" stroke-width="1.15" opacity="1.00"/>
<path d="M318.7,237.70 L319.5,236.68 L320.3,235.59 L321.1,234.44 L321.9,233.24 L322.7,231.98 L323.6,230.64 L324.4,229.23 L325.2,227.76 L326.0,226.24 L326.8,224.68 L327.6,222.91 L328.4,221.04 L329.3,219.25 L330.1,217.74 L330.9,216.63 L331.7,215.71 L332.5,214.91 L333.3,214.19 L334.1,213.50 L334.9,212.82 L335.8,212.09 L336.6,211.36 L337.4,210.63 L338.2,209.91 L339.0,209.20 L339.8,208.50 L340.6,207.81 L341.5,207.14 L342.3,206.48 L343.1,205.83 L343.9,205.19 L344.7,204.56 L345.5,203.96 L346.3,203.37 L347.2,202.77 L348.0,202.17 L348.8,201.60 L349.6,201.11 L350.4,200.71 L351.2,200.37 L352.0,200.06 L352.9,199.77 L353.7,199.52 L354.5,199.30 L355.3,199.11 L356.1,198.93 L356.9,198.76 L357.7,198.62 L358.6,198.52 L359.4,198.48 L360.2,198.47 L361.0,198.46 L361.8,198.45 L362.6,198.44 L363.4,198.43 L364.2,198.43 L365.1,198.42 L365.9,198.41 L366.7,198.40 L367.5,198.35 L368.3,198.29 L369.1,198.21 L369.9,198.12 L370.8,198.05 L371.6,198.00 L372.4,197.98 L373.2,198.00 L374.0,198.07 L374.8,198.19 L375.6,198.34 L376.5,198.54 L377.3,198.78 L378.1,199.05 L378.9,199.47 L379.7,200.33 L380.5,201.49 L381.3,202.76 L382.2,204.40 L383.0,206.34 L383.8,207.98 L384.6,208.89 L385.4,209.54 L386.2,209.76 L387.0,209.53 L387.9,209.05 L388.7,208.51 L389.5,208.05 L390.3,207.53 L391.1,207.04 L391.9,206.80 L392.7,206.80 L393.5,206.87 L394.4,206.97 L395.2,207.06 L396.0,207.09 L396.8,207.06 L397.6,207.00 L398.4,206.90 L399.2,206.77 L400.1,206.61 L400.9,206.33 L401.7,205.90 L402.5,205.35 L403.3,204.67 L404.1,203.94 L404.9,203.12 L405.8,202.23 L406.6,201.32 L407.4,200.38 L408.2,199.33 L409.0,198.18 L409.8,196.98 L410.6,195.75 L411.5,194.55 L412.3,193.43 L413.1,192.42 L413.9,191.55 L414.7,190.74 L415.5,189.98 L416.3,189.26 L417.2,188.58 L418.0,187.94 L418.8,187.34 L419.6,186.79 L420.4,186.27 L421.2,185.77 L422.0,185.31 L422.8,184.88 L423.7,184.48 L424.5,184.15 L425.3,183.84 L426.1,183.57 L426.9,183.38 L427.7,183.29 L428.5,183.36 L429.4,183.64 L430.2,183.99 L431.0,184.37 L431.8,184.84 L432.6,185.41 L433.4,186.07 L434.2,186.81 L435.1,187.66 L435.9,188.81 L436.7,190.23 L437.5,191.81 L438.3,193.46 L439.1,195.07 L439.9,196.55 L440.8,197.95 L441.6,199.36 L442.4,200.83 L443.2,202.32 L444.0,203.84 L444.8,205.42 L445.6,207.10 L446.5,208.92 L447.3,210.96 L448.1,213.17 L448.9,215.45 L449.7,217.75 L450.5,219.98 L451.3,222.02 L452.1,223.94 L453.0,225.68 L453.8,227.22 L454.6,228.58 L455.4,229.83 L456.2,230.93 L457.0,231.80 L457.8,232.47 L458.7,233.04 L459.5,233.48 L460.3,233.82 L461.1,234.11 L461.9,234.36 L462.7,234.58 L463.5,234.77 L464.4,234.95 L465.2,235.11 L466.0,235.27 L466.8,235.40 L467.6,235.52 L468.4,235.63 L469.2,235.71 L470.1,235.77 L470.9,235.83 L471.7,235.88 L472.5,235.93 L473.3,235.98 L474.1,236.03 L474.9,236.07 L475.8,236.10 L476.6,236.14 L477.4,236.17 L478.2,236.20 L479.0,236.22 L479.8,236.24 L480.6,236.25 L481.5,236.26 L482.3,236.26 L483.1,236.25 L483.9,236.23 L484.7,236.19 L485.5,236.16 L486.3,236.11 L487.1,236.07 L488.0,236.03 L488.8,236.00 L489.6,235.97 L490.4,235.96 L491.2,235.95 L492.0,235.93 L492.8,235.93 L493.7,235.92 L494.5,235.92 L495.3,235.92 L496.1,235.93 L496.9,235.94 L497.7,235.96 L498.5,235.98 L499.4,236.00 L500.2,236.06 L501.0,236.16 L501.8,236.30 L502.6,236.48 L503.4,236.68 L504.2,236.90 L505.1,237.12 L505.9,237.35 L506.7,237.59 L507.5,237.86 L508.3,238.16 L509.1,238.48 L509.9,238.81 L510.8,239.14 L511.6,239.48 L512.4,239.83 L513.2,240.19 L514.0,240.55 L514.8,240.93 L515.6,241.32 L516.4,241.72 L517.3,242.12 L518.1,242.52 L518.9,242.91 L519.7,243.29 L520.5,243.64 L521.3,243.99 L522.1,244.36 L523.0,244.78 L523.8,245.34 L524.6,245.97 L525.4,246.56 L526.2,247.08 L527.0,247.56 L527.8,247.93 L528.7,248.15 L529.5,248.29 L530.3,248.41 L531.1,248.51 L531.9,248.59 L532.7,248.65 L533.5,248.70 L534.4,248.73 L535.2,248.76" stroke="#f8ccb8" stroke-width="1.15" opacity="1.00"/>
<path d="M318.7,239.28 L319.5,238.25 L320.3,237.19 L321.1,236.08 L321.9,234.95 L322.7,233.77 L323.6,232.55 L324.4,231.27 L325.2,229.95 L326.0,228.61 L326.8,227.25 L327.6,225.73 L328.4,224.13 L329.3,222.61 L330.1,221.33 L330.9,220.39 L331.7,219.58 L332.5,218.88 L333.3,218.24 L334.1,217.65 L334.9,217.07 L335.8,216.47 L336.6,215.88 L337.4,215.32 L338.2,214.76 L339.0,214.22 L339.8,213.67 L340.6,213.12 L341.5,212.57 L342.3,212.03 L343.1,211.49 L343.9,210.95 L344.7,210.43 L345.5,209.90 L346.3,209.38 L347.2,208.84 L348.0,208.29 L348.8,207.77 L349.6,207.31 L350.4,206.94 L351.2,206.62 L352.0,206.33 L352.9,206.07 L353.7,205.83 L354.5,205.63 L355.3,205.45 L356.1,205.28 L356.9,205.11 L357.7,204.97 L358.6,204.86 L359.4,204.81 L360.2,204.79 L361.0,204.77 L361.8,204.75 L362.6,204.74 L363.4,204.73 L364.2,204.71 L365.1,204.70 L365.9,204.69 L366.7,204.67 L367.5,204.62 L368.3,204.55 L369.1,204.47 L369.9,204.39 L370.8,204.32 L371.6,204.28 L372.4,204.26 L373.2,204.27 L374.0,204.32 L374.8,204.40 L375.6,204.50 L376.5,204.64 L377.3,204.81 L378.1,205.00 L378.9,205.31 L379.7,205.96 L380.5,206.88 L381.3,207.97 L382.2,209.44 L383.0,211.24 L383.8,212.80 L384.6,213.73 L385.4,214.40 L386.2,214.65 L387.0,214.46 L387.9,214.04 L388.7,213.56 L389.5,213.16 L390.3,212.70 L391.1,212.27 L391.9,212.07 L392.7,212.09 L393.5,212.18 L394.4,212.29 L395.2,212.38 L396.0,212.42 L396.8,212.40 L397.6,212.35 L398.4,212.27 L399.2,212.17 L400.1,212.04 L400.9,211.88 L401.7,211.67 L402.5,211.40 L403.3,210.99 L404.1,210.47 L404.9,209.88 L405.8,209.23 L406.6,208.56 L407.4,207.86 L408.2,207.01 L409.0,206.06 L409.8,205.03 L410.6,203.98 L411.5,202.94 L412.3,201.97 L413.1,201.10 L413.9,200.34 L414.7,199.62 L415.5,198.92 L416.3,198.25 L417.2,197.62 L418.0,197.02 L418.8,196.46 L419.6,195.94 L420.4,195.46 L421.2,195.00 L422.0,194.56 L422.8,194.15 L423.7,193.79 L424.5,193.48 L425.3,193.19 L426.1,192.93 L426.9,192.73 L427.7,192.63 L428.5,192.70 L429.4,192.95 L430.2,193.27 L431.0,193.61 L431.8,194.01 L432.6,194.47 L433.4,195.01 L434.2,195.66 L435.1,196.43 L435.9,197.45 L436.7,198.69 L437.5,200.06 L438.3,201.48 L439.1,202.86 L439.9,204.11 L440.8,205.31 L441.6,206.51 L442.4,207.78 L443.2,209.06 L444.0,210.36 L444.8,211.71 L445.6,213.14 L446.5,214.69 L447.3,216.44 L448.1,218.34 L448.9,220.32 L449.7,222.30 L450.5,224.19 L451.3,225.93 L452.1,227.61 L453.0,229.25 L453.8,230.79 L454.6,232.16 L455.4,233.40 L456.2,234.48 L457.0,235.34 L457.8,236.01 L458.7,236.56 L459.5,236.99 L460.3,237.29 L461.1,237.55 L461.9,237.78 L462.7,237.97 L463.5,238.14 L464.4,238.30 L465.2,238.45 L466.0,238.58 L466.8,238.71 L467.6,238.82 L468.4,238.91 L469.2,238.98 L470.1,239.03 L470.9,239.08 L471.7,239.12 L472.5,239.16 L473.3,239.19 L474.1,239.23 L474.9,239.26 L475.8,239.29 L476.6,239.31 L477.4,239.34 L478.2,239.35 L479.0,239.37 L479.8,239.38 L480.6,239.39 L481.5,239.39 L482.3,239.38 L483.1,239.36 L483.9,239.33 L484.7,239.29 L485.5,239.25 L486.3,239.20 L487.1,239.16 L488.0,239.11 L488.8,239.07 L489.6,239.04 L490.4,239.01 L491.2,238.99 L492.0,238.97 L492.8,238.94 L493.7,238.92 L494.5,238.90 L495.3,238.89 L496.1,238.87 L496.9,238.86 L497.7,238.85 L498.5,238.85 L499.4,238.85 L500.2,238.89 L501.0,238.97 L501.8,239.09 L502.6,239.24 L503.4,239.41 L504.2,239.59 L505.1,239.78 L505.9,239.97 L506.7,240.17 L507.5,240.40 L508.3,240.65 L509.1,240.91 L509.9,241.18 L510.8,241.45 L511.6,241.73 L512.4,242.01 L513.2,242.30 L514.0,242.60 L514.8,242.90 L515.6,243.20 L516.4,243.51 L517.3,243.82 L518.1,244.13 L518.9,244.44 L519.7,244.75 L520.5,245.07 L521.3,245.40 L522.1,245.74 L523.0,246.08 L523.8,246.42 L524.6,246.76 L525.4,247.11 L526.2,247.47 L527.0,247.80 L527.8,248.08 L528.7,248.29 L529.5,248.41 L530.3,248.52 L531.1,248.61 L531.9,248.68 L532.7,248.73 L533.5,248.77 L534.4,248.80 L535.2,248.82" stroke="#ffbcb0" stroke-width="1.15" opacity="1.00"/>
<path d="M318.7,240.14 L319.5,239.04 L320.3,237.92 L321.1,236.78 L321.9,235.64 L322.7,234.49 L323.6,233.32 L324.4,232.10 L325.2,230.88 L326.0,229.67 L326.8,228.49 L327.6,227.24 L328.4,225.94 L329.3,224.71 L330.1,223.66 L330.9,222.85 L331.7,222.16 L332.5,221.55 L333.3,221.00 L334.1,220.50 L334.9,220.01 L335.8,219.51 L336.6,219.03 L337.4,218.57 L338.2,218.11 L339.0,217.66 L339.8,217.21 L340.6,216.76 L341.5,216.31 L342.3,215.87 L343.1,215.43 L343.9,215.00 L344.7,214.57 L345.5,214.15 L346.3,213.73 L347.2,213.29 L348.0,212.86 L348.8,212.43 L349.6,212.06 L350.4,211.74 L351.2,211.46 L352.0,211.20 L352.9,210.97 L353.7,210.77 L354.5,210.59 L355.3,210.43 L356.1,210.27 L356.9,210.12 L357.7,209.99 L358.6,209.89 L359.4,209.82 L360.2,209.78 L361.0,209.74 L361.8,209.71 L362.6,209.68 L363.4,209.65 L364.2,209.63 L365.1,209.60 L365.9,209.58 L366.7,209.55 L367.5,209.50 L368.3,209.44 L369.1,209.38 L369.9,209.31 L370.8,209.26 L371.6,209.22 L372.4,209.21 L373.2,209.22 L374.0,209.25 L374.8,209.31 L375.6,209.40 L376.5,209.51 L377.3,209.64 L378.1,209.80 L378.9,210.04 L379.7,210.50 L380.5,211.23 L381.3,212.18 L382.2,213.41 L383.0,214.87 L383.8,216.25 L384.6,217.21 L385.4,217.90 L386.2,218.11 L387.0,217.91 L387.9,217.53 L388.7,217.11 L389.5,216.78 L390.3,216.42 L391.1,216.09 L391.9,215.93 L392.7,215.92 L393.5,215.97 L394.4,216.05 L395.2,216.11 L396.0,216.14 L396.8,216.12 L397.6,216.09 L398.4,216.04 L399.2,215.96 L400.1,215.88 L400.9,215.75 L401.7,215.54 L402.5,215.26 L403.3,214.86 L404.1,214.37 L404.9,213.82 L405.8,213.22 L406.6,212.62 L407.4,212.00 L408.2,211.26 L409.0,210.42 L409.8,209.53 L410.6,208.61 L411.5,207.71 L412.3,206.85 L413.1,206.07 L413.9,205.38 L414.7,204.72 L415.5,204.08 L416.3,203.46 L417.2,202.86 L418.0,202.30 L418.8,201.78 L419.6,201.30 L420.4,200.86 L421.2,200.45 L422.0,200.05 L422.8,199.67 L423.7,199.33 L424.5,199.03 L425.3,198.77 L426.1,198.54 L426.9,198.39 L427.7,198.33 L428.5,198.39 L429.4,198.60 L430.2,198.86 L431.0,199.15 L431.8,199.49 L432.6,199.87 L433.4,200.35 L434.2,200.95 L435.1,201.68 L435.9,202.61 L436.7,203.71 L437.5,204.92 L438.3,206.15 L439.1,207.36 L439.9,208.47 L440.8,209.56 L441.6,210.67 L442.4,211.82 L443.2,213.00 L444.0,214.20 L444.8,215.43 L445.6,216.72 L446.5,218.09 L447.3,219.59 L448.1,221.20 L448.9,222.87 L449.7,224.53 L450.5,226.15 L451.3,227.66 L452.1,229.15 L453.0,230.64 L453.8,232.07 L454.6,233.36 L455.4,234.50 L456.2,235.44 L457.0,236.22 L457.8,236.85 L458.7,237.37 L459.5,237.77 L460.3,238.04 L461.1,238.27 L461.9,238.48 L462.7,238.66 L463.5,238.82 L464.4,238.97 L465.2,239.11 L466.0,239.23 L466.8,239.34 L467.6,239.44 L468.4,239.53 L469.2,239.59 L470.1,239.64 L470.9,239.68 L471.7,239.72 L472.5,239.76 L473.3,239.79 L474.1,239.82 L474.9,239.85 L475.8,239.88 L476.6,239.90 L477.4,239.92 L478.2,239.94 L479.0,239.95 L479.8,239.96 L480.6,239.97 L481.5,239.97 L482.3,239.96 L483.1,239.95 L483.9,239.93 L484.7,239.90 L485.5,239.86 L486.3,239.83 L487.1,239.79 L488.0,239.76 L488.8,239.72 L489.6,239.69 L490.4,239.67 L491.2,239.65 L492.0,239.63 L492.8,239.61 L493.7,239.59 L494.5,239.57 L495.3,239.56 L496.1,239.54 L496.9,239.53 L497.7,239.53 L498.5,239.53 L499.4,239.54 L500.2,239.58 L501.0,239.66 L501.8,239.77 L502.6,239.90 L503.4,240.04 L504.2,240.20 L505.1,240.37 L505.9,240.54 L506.7,240.72 L507.5,240.92 L508.3,241.13 L509.1,241.35 L509.9,241.58 L510.8,241.82 L511.6,242.07 L512.4,242.33 L513.2,242.60 L514.0,242.88 L514.8,243.17 L515.6,243.46 L516.4,243.76 L517.3,244.06 L518.1,244.37 L518.9,244.67 L519.7,244.98 L520.5,245.31 L521.3,245.67 L522.1,246.04 L523.0,246.40 L523.8,246.75 L524.6,247.08 L525.4,247.40 L526.2,247.71 L527.0,248.00 L527.8,248.25 L528.7,248.42 L529.5,248.52 L530.3,248.60 L531.1,248.67 L531.9,248.73 L532.7,248.78 L533.5,248.81 L534.4,248.83 L535.2,248.85" stroke="#ffbcb0" stroke-width="1.15" opacity="1.00"/>
<path d="M318.7,241.01 L319.5,239.82 L320.3,238.65 L321.1,237.49 L321.9,236.34 L322.7,235.21 L323.6,234.08 L324.4,232.94 L325.2,231.82 L326.0,230.74 L326.8,229.74 L327.6,228.74 L328.4,227.75 L329.3,226.81 L330.1,225.99 L330.9,225.32 L331.7,224.73 L332.5,224.22 L333.3,223.76 L334.1,223.34 L334.9,222.94 L335.8,222.55 L336.6,222.18 L337.4,221.82 L338.2,221.46 L339.0,221.11 L339.8,220.75 L340.6,220.40 L341.5,220.05 L342.3,219.71 L343.1,219.37 L343.9,219.04 L344.7,218.72 L345.5,218.40 L346.3,218.08 L347.2,217.75 L348.0,217.42 L348.8,217.10 L349.6,216.80 L350.4,216.54 L351.2,216.30 L352.0,216.08 L352.9,215.88 L353.7,215.70 L354.5,215.55 L355.3,215.40 L356.1,215.26 L356.9,215.13 L357.7,215.01 L358.6,214.91 L359.4,214.83 L360.2,214.77 L361.0,214.71 L361.8,214.66 L362.6,214.62 L363.4,214.58 L364.2,214.54 L365.1,214.50 L365.9,214.46 L366.7,214.43 L367.5,214.38 L368.3,214.33 L369.1,214.28 L369.9,214.24 L370.8,214.20 L371.6,214.17 L372.4,214.16 L373.2,214.16 L374.0,214.18 L374.8,214.23 L375.6,214.29 L376.5,214.37 L377.3,214.47 L378.1,214.59 L378.9,214.76 L379.7,215.05 L380.5,215.59 L381.3,216.39 L382.2,217.38 L383.0,218.49 L383.8,219.70 L384.6,220.69 L385.4,221.39 L386.2,221.57 L387.0,221.37 L387.9,221.02 L388.7,220.65 L389.5,220.39 L390.3,220.14 L391.1,219.91 L391.9,219.78 L392.7,219.75 L393.5,219.77 L394.4,219.80 L395.2,219.83 L396.0,219.85 L396.8,219.84 L397.6,219.82 L398.4,219.80 L399.2,219.76 L400.1,219.72 L400.9,219.62 L401.7,219.42 L402.5,219.13 L403.3,218.74 L404.1,218.27 L404.9,217.76 L405.8,217.22 L406.6,216.68 L407.4,216.14 L408.2,215.50 L409.0,214.79 L409.8,214.03 L410.6,213.24 L411.5,212.47 L412.3,211.72 L413.1,211.04 L413.9,210.42 L414.7,209.82 L415.5,209.23 L416.3,208.66 L417.2,208.11 L418.0,207.59 L418.8,207.10 L419.6,206.66 L420.4,206.27 L421.2,205.90 L422.0,205.54 L422.8,205.19 L423.7,204.87 L424.5,204.59 L425.3,204.35 L426.1,204.16 L426.9,204.05 L427.7,204.02 L428.5,204.09 L429.4,204.25 L430.2,204.46 L431.0,204.70 L431.8,204.97 L432.6,205.28 L433.4,205.69 L434.2,206.24 L435.1,206.93 L435.9,207.77 L436.7,208.73 L437.5,209.77 L438.3,210.83 L439.1,211.86 L439.9,212.83 L440.8,213.81 L441.6,214.82 L442.4,215.87 L443.2,216.95 L444.0,218.04 L444.8,219.16 L445.6,220.30 L446.5,221.48 L447.3,222.74 L448.1,224.06 L448.9,225.41 L449.7,226.77 L450.5,228.10 L451.3,229.39 L452.1,230.69 L453.0,232.04 L453.8,233.36 L454.6,234.56 L455.4,235.59 L456.2,236.41 L457.0,237.11 L457.8,237.70 L458.7,238.19 L459.5,238.55 L460.3,238.79 L461.1,238.99 L461.9,239.18 L462.7,239.35 L463.5,239.50 L464.4,239.64 L465.2,239.76 L466.0,239.88 L466.8,239.98 L467.6,240.07 L468.4,240.14 L469.2,240.21 L470.1,240.25 L470.9,240.29 L471.7,240.32 L472.5,240.36 L473.3,240.39 L474.1,240.42 L474.9,240.44 L475.8,240.47 L476.6,240.49 L477.4,240.51 L478.2,240.52 L479.0,240.53 L479.8,240.54 L480.6,240.55 L481.5,240.55 L482.3,240.55 L483.1,240.54 L483.9,240.52 L484.7,240.50 L485.5,240.48 L486.3,240.45 L487.1,240.43 L488.0,240.40 L488.8,240.38 L489.6,240.35 L490.4,240.33 L491.2,240.31 L492.0,240.29 L492.8,240.27 L493.7,240.26 L494.5,240.24 L495.3,240.23 L496.1,240.22 L496.9,240.21 L497.7,240.21 L498.5,240.21 L499.4,240.24 L500.2,240.28 L501.0,240.35 L501.8,240.44 L502.6,240.55 L503.4,240.68 L504.2,240.82 L505.1,240.96 L505.9,241.11 L506.7,241.26 L507.5,241.43 L508.3,241.60 L509.1,241.78 L509.9,241.98 L510.8,242.19 L511.6,242.41 L512.4,242.65 L513.2,242.91 L514.0,243.17 L514.8,243.44 L515.6,243.72 L516.4,244.01 L517.3,244.31 L518.1,244.61 L518.9,244.91 L519.7,245.21 L520.5,245.56 L521.3,245.94 L522.1,246.33 L523.0,246.72 L523.8,247.09 L524.6,247.41 L525.4,247.69 L526.2,247.96 L527.0,248.21 L527.8,248.41 L528.7,248.55 L529.5,248.63 L530.3,248.69 L531.1,248.74 L531.9,248.79 L532.7,248.82 L533.5,248.85 L534.4,248.86 L535.2,248.88" stroke="#ffb4a6" stroke-width="1.15" opacity="1.00"/>
<path d="M318.7,241.88 L319.5,240.61 L320.3,239.38 L321.1,238.19 L321.9,237.04 L322.7,235.94 L323.6,234.85 L324.4,233.78 L325.2,232.75 L326.0,231.81 L326.8,230.99 L327.6,230.25 L328.4,229.56 L329.3,228.92 L330.1,228.32 L330.9,227.78 L331.7,227.31 L332.5,226.89 L333.3,226.53 L334.1,226.19 L334.9,225.88 L335.8,225.60 L336.6,225.33 L337.4,225.07 L338.2,224.81 L339.0,224.55 L339.8,224.29 L340.6,224.04 L341.5,223.79 L342.3,223.55 L343.1,223.32 L343.9,223.09 L344.7,222.86 L345.5,222.64 L346.3,222.42 L347.2,222.20 L348.0,221.98 L348.8,221.76 L349.6,221.54 L350.4,221.34 L351.2,221.14 L352.0,220.95 L352.9,220.79 L353.7,220.64 L354.5,220.50 L355.3,220.38 L356.1,220.26 L356.9,220.14 L357.7,220.03 L358.6,219.93 L359.4,219.84 L360.2,219.76 L361.0,219.68 L361.8,219.62 L362.6,219.56 L363.4,219.51 L364.2,219.45 L365.1,219.40 L365.9,219.35 L366.7,219.30 L367.5,219.26 L368.3,219.22 L369.1,219.19 L369.9,219.16 L370.8,219.13 L371.6,219.12 L372.4,219.11 L373.2,219.11 L374.0,219.12 L374.8,219.14 L375.6,219.18 L376.5,219.24 L377.3,219.30 L378.1,219.39 L378.9,219.49 L379.7,219.60 L380.5,219.95 L381.3,220.60 L382.2,221.35 L383.0,222.12 L383.8,223.15 L384.6,224.17 L385.4,224.88 L386.2,225.03 L387.0,224.83 L387.9,224.51 L388.7,224.19 L389.5,224.01 L390.3,223.87 L391.1,223.74 L391.9,223.64 L392.7,223.57 L393.5,223.56 L394.4,223.56 L395.2,223.56 L396.0,223.56 L396.8,223.56 L397.6,223.56 L398.4,223.56 L399.2,223.56 L400.1,223.56 L400.9,223.49 L401.7,223.29 L402.5,222.99 L403.3,222.61 L404.1,222.17 L404.9,221.70 L405.8,221.21 L406.6,220.74 L407.4,220.27 L408.2,219.74 L409.0,219.15 L409.8,218.52 L410.6,217.88 L411.5,217.23 L412.3,216.60 L413.1,216.01 L413.9,215.46 L414.7,214.93 L415.5,214.39 L416.3,213.87 L417.2,213.36 L418.0,212.87 L418.8,212.43 L419.6,212.03 L420.4,211.68 L421.2,211.36 L422.0,211.03 L422.8,210.71 L423.7,210.41 L424.5,210.14 L425.3,209.93 L426.1,209.78 L426.9,209.71 L427.7,209.71 L428.5,209.78 L429.4,209.89 L430.2,210.05 L431.0,210.24 L431.8,210.46 L432.6,210.69 L433.4,211.03 L434.2,211.53 L435.1,212.18 L435.9,212.93 L436.7,213.75 L437.5,214.62 L438.3,215.50 L439.1,216.36 L439.9,217.18 L440.8,218.06 L441.6,218.97 L442.4,219.92 L443.2,220.89 L444.0,221.88 L444.8,222.88 L445.6,223.88 L446.5,224.88 L447.3,225.89 L448.1,226.92 L448.9,227.96 L449.7,229.01 L450.5,230.06 L451.3,231.13 L452.1,232.23 L453.0,233.43 L453.8,234.64 L454.6,235.76 L455.4,236.68 L456.2,237.37 L457.0,238.00 L457.8,238.55 L458.7,239.00 L459.5,239.32 L460.3,239.53 L461.1,239.71 L461.9,239.88 L462.7,240.04 L463.5,240.18 L464.4,240.31 L465.2,240.42 L466.0,240.53 L466.8,240.62 L467.6,240.70 L468.4,240.76 L469.2,240.82 L470.1,240.86 L470.9,240.90 L471.7,240.93 L472.5,240.96 L473.3,240.98 L474.1,241.01 L474.9,241.03 L475.8,241.06 L476.6,241.07 L477.4,241.09 L478.2,241.11 L479.0,241.12 L479.8,241.13 L480.6,241.13 L481.5,241.13 L482.3,241.13 L483.1,241.13 L483.9,241.12 L484.7,241.11 L485.5,241.09 L486.3,241.08 L487.1,241.06 L488.0,241.05 L488.8,241.03 L489.6,241.01 L490.4,240.99 L491.2,240.97 L492.0,240.95 L492.8,240.94 L493.7,240.92 L494.5,240.91 L495.3,240.90 L496.1,240.89 L496.9,240.89 L497.7,240.89 L498.5,240.90 L499.4,240.93 L500.2,240.97 L501.0,241.04 L501.8,241.12 L502.6,241.21 L503.4,241.32 L504.2,241.43 L505.1,241.55 L505.9,241.68 L506.7,241.81 L507.5,241.94 L508.3,242.08 L509.1,242.22 L509.9,242.38 L510.8,242.56 L511.6,242.76 L512.4,242.98 L513.2,243.21 L514.0,243.46 L514.8,243.71 L515.6,243.99 L516.4,244.26 L517.3,244.55 L518.1,244.84 L518.9,245.14 L519.7,245.44 L520.5,245.80 L521.3,246.21 L522.1,246.63 L523.0,247.04 L523.8,247.42 L524.6,247.73 L525.4,247.97 L526.2,248.20 L527.0,248.41 L527.8,248.58 L528.7,248.69 L529.5,248.73 L530.3,248.77 L531.1,248.81 L531.9,248.84 L532.7,248.86 L533.5,248.88 L534.4,248.90 L535.2,248.90" stroke="#ffbcb0" stroke-width="1.15" opacity="1.00"/>
<path d="M318.7,229.40 L319.5,227.49 L320.3,225.54 L321.1,223.55 L321.9,221.52 L322.7,219.45 L323.6,217.31 L324.4,215.09 L325.2,212.85 L326.0,210.64 L326.8,208.51 L327.6,206.47 L328.4,204.46 L329.3,202.51 L330.1,200.60 L330.9,198.74 L331.7,196.94 L332.5,195.14 L333.3,193.38 L334.1,191.63 L334.9,189.88 L335.8,188.10 L336.6,186.28 L337.4,184.38 L338.2,182.42 L339.0,180.49 L339.8,178.64 L340.6,176.91 L341.5,175.20 L342.3,173.58 L343.1,172.09 L343.9,170.81 L344.7,169.71 L345.5,168.74 L346.3,167.85 L347.2,167.04 L348.0,166.26 L348.8,165.48 L349.6,164.72 L350.4,164.02 L351.2,163.43 L352.0,162.99 L352.9,162.63 L353.7,162.33 L354.5,162.06 L355.3,161.84 L356.1,161.66 L356.9,161.49 L357.7,161.35 L358.6,161.22 L359.4,161.11 L360.2,161.00 L361.0,160.90 L361.8,160.79 L362.6,160.68 L363.4,160.57 L364.2,160.44 L365.1,160.30 L365.9,160.13 L366.7,159.92 L367.5,159.70 L368.3,159.47 L369.1,159.25 L369.9,159.04 L370.8,158.87 L371.6,158.73 L372.4,158.66 L373.2,158.66 L374.0,158.85 L374.8,159.21 L375.6,159.68 L376.5,160.23 L377.3,161.12 L378.1,162.32 L378.9,163.74 L379.7,165.33 L380.5,166.92 L381.3,168.44 L382.2,170.18 L383.0,172.01 L383.8,173.65 L384.6,174.77 L385.4,175.07 L386.2,175.06 L387.0,174.71 L387.9,173.35 L388.7,171.45 L389.5,169.59 L390.3,168.27 L391.1,167.95 L391.9,168.14 L392.7,168.52 L393.5,169.01 L394.4,169.52 L395.2,169.97 L396.0,170.26 L396.8,170.31 L397.6,170.24 L398.4,170.06 L399.2,169.78 L400.1,169.42 L400.9,168.90 L401.7,168.17 L402.5,166.83 L403.3,164.97 L404.1,162.82 L404.9,160.53 L405.8,158.31 L406.6,156.10 L407.4,153.76 L408.2,151.35 L409.0,148.94 L409.8,146.58 L410.6,144.31 L411.5,142.11 L412.3,139.91 L413.1,137.67 L413.9,135.34 L414.7,132.78 L415.5,130.06 L416.3,127.46 L417.2,124.96 L418.0,122.44 L418.8,119.96 L419.6,117.62 L420.4,115.50 L421.2,113.70 L422.0,112.19 L422.8,110.78 L423.7,109.50 L424.5,108.40 L425.3,107.55 L426.1,106.99 L426.9,106.54 L427.7,106.17 L428.5,105.92 L429.4,105.84 L430.2,106.08 L431.0,106.66 L431.8,107.44 L432.6,108.25 L433.4,109.12 L434.2,110.14 L435.1,111.26 L435.9,112.47 L436.7,113.73 L437.5,115.01 L438.3,116.34 L439.1,117.75 L439.9,119.24 L440.8,120.87 L441.6,122.63 L442.4,124.52 L443.2,126.55 L444.0,128.75 L444.8,131.14 L445.6,133.72 L446.5,136.67 L447.3,140.33 L448.1,144.44 L448.9,148.68 L449.7,152.76 L450.5,156.49 L451.3,160.10 L452.1,163.59 L453.0,166.94 L453.8,170.18 L454.6,173.34 L455.4,176.41 L456.2,179.35 L457.0,182.23 L457.8,185.08 L458.7,187.88 L459.5,190.56 L460.3,193.13 L461.1,195.73 L461.9,197.98 L462.7,199.56 L463.5,200.79 L464.4,201.78 L465.2,202.47 L466.0,202.95 L466.8,203.36 L467.6,203.69 L468.4,203.96 L469.2,204.16 L470.1,204.29 L470.9,204.41 L471.7,204.51 L472.5,204.60 L473.3,204.67 L474.1,204.75 L474.9,204.81 L475.8,204.87 L476.6,204.93 L477.4,204.98 L478.2,205.03 L479.0,205.09 L479.8,205.15 L480.6,205.22 L481.5,205.29 L482.3,205.36 L483.1,205.43 L483.9,205.50 L484.7,205.57 L485.5,205.63 L486.3,205.70 L487.1,205.77 L488.0,205.85 L488.8,205.93 L489.6,206.02 L490.4,206.12 L491.2,206.23 L492.0,206.35 L492.8,206.49 L493.7,206.67 L494.5,206.88 L495.3,207.13 L496.1,207.41 L496.9,207.71 L497.7,208.02 L498.5,208.36 L499.4,208.70 L500.2,209.04 L501.0,209.39 L501.8,209.76 L502.6,210.15 L503.4,210.56 L504.2,210.99 L505.1,211.45 L505.9,211.94 L506.7,212.46 L507.5,213.02 L508.3,213.61 L509.1,214.25 L509.9,214.98 L510.8,215.80 L511.6,216.70 L512.4,217.66 L513.2,218.67 L514.0,219.75 L514.8,221.04 L515.6,222.52 L516.4,224.10 L517.3,225.69 L518.1,227.20 L518.9,228.53 L519.7,229.60 L520.5,230.35 L521.3,230.93 L522.1,231.57 L523.0,232.51 L523.8,234.51 L524.6,237.47 L525.4,240.41 L526.2,242.58 L527.0,244.53 L527.8,246.19 L528.7,247.16 L529.5,247.39 L530.3,247.55 L531.1,247.67 L531.9,247.78 L532.7,247.85 L533.5,247.91 L534.4,247.94 L535.2,247.95" stroke="#4aa8f5" stroke-width="1.15" opacity="1.00"/>
<path d="M318.7,230.29 L319.5,228.47 L320.3,226.61 L321.1,224.70 L321.9,222.76 L322.7,220.79 L323.6,218.74 L324.4,216.61 L325.2,214.46 L326.0,212.34 L326.8,210.29 L327.6,208.31 L328.4,206.35 L329.3,204.44 L330.1,202.60 L330.9,200.85 L331.7,199.19 L332.5,197.57 L333.3,195.99 L334.1,194.43 L334.9,192.86 L335.8,191.25 L336.6,189.58 L337.4,187.84 L338.2,186.05 L339.0,184.28 L339.8,182.59 L340.6,181.00 L341.5,179.46 L342.3,177.99 L343.1,176.64 L343.9,175.47 L344.7,174.47 L345.5,173.57 L346.3,172.77 L347.2,172.03 L348.0,171.33 L348.8,170.63 L349.6,169.95 L350.4,169.33 L351.2,168.80 L352.0,168.39 L352.9,168.06 L353.7,167.77 L354.5,167.52 L355.3,167.31 L356.1,167.14 L356.9,166.98 L357.7,166.85 L358.6,166.73 L359.4,166.62 L360.2,166.53 L361.0,166.43 L361.8,166.34 L362.6,166.24 L363.4,166.14 L364.2,166.03 L365.1,165.91 L365.9,165.76 L366.7,165.58 L367.5,165.39 L368.3,165.20 L369.1,165.01 L369.9,164.84 L370.8,164.69 L371.6,164.58 L372.4,164.52 L373.2,164.52 L374.0,164.70 L374.8,165.03 L375.6,165.47 L376.5,165.99 L377.3,166.79 L378.1,167.86 L378.9,169.14 L379.7,170.63 L380.5,172.19 L381.3,173.68 L382.2,175.34 L383.0,177.04 L383.8,178.60 L384.6,179.69 L385.4,180.04 L386.2,180.02 L387.0,179.65 L387.9,178.43 L388.7,176.77 L389.5,175.16 L390.3,174.02 L391.1,173.71 L391.9,173.81 L392.7,174.08 L393.5,174.46 L394.4,174.86 L395.2,175.21 L396.0,175.44 L396.8,175.48 L397.6,175.41 L398.4,175.24 L399.2,174.96 L400.1,174.59 L400.9,173.98 L401.7,173.04 L402.5,171.53 L403.3,169.59 L404.1,167.43 L404.9,165.13 L405.8,162.89 L406.6,160.66 L407.4,158.32 L408.2,155.94 L409.0,153.58 L409.8,151.26 L410.6,149.04 L411.5,146.89 L412.3,144.77 L413.1,142.64 L413.9,140.48 L414.7,138.13 L415.5,135.66 L416.3,133.31 L417.2,131.05 L418.0,128.77 L418.8,126.54 L419.6,124.44 L420.4,122.54 L421.2,120.91 L422.0,119.55 L422.8,118.27 L423.7,117.10 L424.5,116.10 L425.3,115.32 L426.1,114.82 L426.9,114.43 L427.7,114.12 L428.5,113.92 L429.4,113.88 L430.2,114.12 L431.0,114.66 L431.8,115.41 L432.6,116.21 L433.4,117.08 L434.2,118.09 L435.1,119.20 L435.9,120.42 L436.7,121.73 L437.5,123.07 L438.3,124.48 L439.1,125.95 L439.9,127.49 L440.8,129.15 L441.6,130.92 L442.4,132.82 L443.2,134.85 L444.0,137.03 L444.8,139.37 L445.6,141.90 L446.5,144.77 L447.3,148.41 L448.1,152.62 L448.9,157.08 L449.7,161.52 L450.5,165.77 L451.3,169.98 L452.1,174.07 L453.0,177.94 L453.8,181.58 L454.6,185.08 L455.4,188.39 L456.2,191.47 L457.0,194.36 L457.8,197.08 L458.7,199.61 L459.5,201.90 L460.3,203.98 L461.1,205.91 L461.9,207.51 L462.7,208.58 L463.5,209.42 L464.4,210.11 L465.2,210.60 L466.0,210.95 L466.8,211.25 L467.6,211.51 L468.4,211.71 L469.2,211.87 L470.1,212.00 L470.9,212.10 L471.7,212.20 L472.5,212.29 L473.3,212.37 L474.1,212.44 L474.9,212.51 L475.8,212.58 L476.6,212.64 L477.4,212.70 L478.2,212.75 L479.0,212.81 L479.8,212.87 L480.6,212.93 L481.5,212.99 L482.3,213.05 L483.1,213.11 L483.9,213.17 L484.7,213.22 L485.5,213.27 L486.3,213.32 L487.1,213.38 L488.0,213.44 L488.8,213.50 L489.6,213.57 L490.4,213.64 L491.2,213.72 L492.0,213.82 L492.8,213.92 L493.7,214.06 L494.5,214.23 L495.3,214.42 L496.1,214.63 L496.9,214.87 L497.7,215.11 L498.5,215.37 L499.4,215.64 L500.2,215.91 L501.0,216.19 L501.8,216.49 L502.6,216.81 L503.4,217.15 L504.2,217.52 L505.1,217.90 L505.9,218.32 L506.7,218.76 L507.5,219.22 L508.3,219.72 L509.1,220.25 L509.9,220.87 L510.8,221.55 L511.6,222.30 L512.4,223.10 L513.2,223.95 L514.0,224.84 L514.8,225.87 L515.6,227.05 L516.4,228.31 L517.3,229.58 L518.1,230.80 L518.9,231.90 L519.7,232.81 L520.5,233.48 L521.3,234.04 L522.1,234.68 L523.0,235.61 L523.8,237.46 L524.6,240.01 L525.4,242.38 L526.2,244.12 L527.0,245.68 L527.8,246.91 L528.7,247.55 L529.5,247.73 L530.3,247.86 L531.1,247.96 L531.9,248.04 L532.7,248.11 L533.5,248.15 L534.4,248.18 L535.2,248.19" stroke="#16bde8" stroke-width="1.15" opacity="1.00"/>
<path d="M318.7,230.89 L319.5,229.12 L320.3,227.32 L321.1,225.48 L321.9,223.60 L322.7,221.68 L323.6,219.69 L324.4,217.63 L325.2,215.54 L326.0,213.47 L326.8,211.48 L327.6,209.54 L328.4,207.61 L329.3,205.73 L330.1,203.93 L330.9,202.26 L331.7,200.70 L332.5,199.19 L333.3,197.74 L334.1,196.30 L334.9,194.85 L335.8,193.35 L336.6,191.79 L337.4,190.16 L338.2,188.48 L339.0,186.81 L339.8,185.22 L340.6,183.73 L341.5,182.29 L342.3,180.93 L343.1,179.68 L343.9,178.58 L344.7,177.64 L345.5,176.80 L346.3,176.05 L347.2,175.36 L348.0,174.71 L348.8,174.07 L349.6,173.44 L350.4,172.87 L351.2,172.38 L352.0,172.00 L352.9,171.67 L353.7,171.39 L354.5,171.15 L355.3,170.96 L356.1,170.79 L356.9,170.64 L357.7,170.51 L358.6,170.40 L359.4,170.30 L360.2,170.21 L361.0,170.13 L361.8,170.04 L362.6,169.95 L363.4,169.86 L364.2,169.76 L365.1,169.65 L365.9,169.51 L366.7,169.36 L367.5,169.19 L368.3,169.02 L369.1,168.86 L369.9,168.71 L370.8,168.58 L371.6,168.48 L372.4,168.43 L373.2,168.44 L374.0,168.60 L374.8,168.92 L375.6,169.34 L376.5,169.83 L377.3,170.57 L378.1,171.55 L378.9,172.73 L379.7,174.17 L380.5,175.69 L381.3,177.18 L382.2,178.79 L383.0,180.39 L383.8,181.89 L384.6,182.97 L385.4,183.35 L386.2,183.33 L387.0,182.95 L387.9,181.82 L388.7,180.31 L389.5,178.88 L390.3,177.86 L391.1,177.54 L391.9,177.59 L392.7,177.80 L393.5,178.09 L394.4,178.42 L395.2,178.71 L396.0,178.90 L396.8,178.92 L397.6,178.86 L398.4,178.71 L399.2,178.47 L400.1,178.14 L400.9,177.53 L401.7,176.53 L402.5,174.98 L403.3,173.06 L404.1,171.00 L404.9,168.81 L405.8,166.66 L406.6,164.52 L407.4,162.30 L408.2,160.06 L409.0,157.85 L409.8,155.69 L410.6,153.60 L411.5,151.58 L412.3,149.59 L413.1,147.61 L413.9,145.61 L414.7,143.48 L415.5,141.27 L416.3,139.16 L417.2,137.14 L418.0,135.11 L418.8,133.13 L419.6,131.26 L420.4,129.57 L421.2,128.12 L422.0,126.91 L422.8,125.76 L423.7,124.70 L424.5,123.79 L425.3,123.10 L426.1,122.65 L426.9,122.32 L427.7,122.07 L428.5,121.92 L429.4,121.92 L430.2,122.16 L431.0,122.67 L431.8,123.38 L432.6,124.17 L433.4,125.04 L434.2,126.04 L435.1,127.14 L435.9,128.38 L436.7,129.72 L437.5,131.14 L438.3,132.62 L439.1,134.15 L439.9,135.74 L440.8,137.42 L441.6,139.22 L442.4,141.12 L443.2,143.14 L444.0,145.30 L444.8,147.60 L445.6,150.08 L446.5,152.85 L447.3,156.38 L448.1,160.47 L448.9,164.83 L449.7,169.26 L450.5,173.60 L451.3,177.92 L452.1,182.10 L453.0,186.01 L453.8,189.62 L454.6,193.04 L455.4,196.24 L456.2,199.18 L457.0,201.88 L457.8,204.36 L458.7,206.60 L459.5,208.56 L460.3,210.26 L461.1,211.77 L461.9,212.95 L462.7,213.74 L463.5,214.36 L464.4,214.87 L465.2,215.25 L466.0,215.53 L466.8,215.77 L467.6,215.97 L468.4,216.14 L469.2,216.28 L470.1,216.40 L470.9,216.50 L471.7,216.60 L472.5,216.69 L473.3,216.77 L474.1,216.84 L474.9,216.91 L475.8,216.98 L476.6,217.04 L477.4,217.10 L478.2,217.16 L479.0,217.22 L479.8,217.28 L480.6,217.33 L481.5,217.39 L482.3,217.45 L483.1,217.50 L483.9,217.55 L484.7,217.59 L485.5,217.64 L486.3,217.68 L487.1,217.72 L488.0,217.77 L488.8,217.82 L489.6,217.88 L490.4,217.94 L491.2,218.01 L492.0,218.08 L492.8,218.17 L493.7,218.29 L494.5,218.43 L495.3,218.59 L496.1,218.76 L496.9,218.96 L497.7,219.16 L498.5,219.38 L499.4,219.61 L500.2,219.84 L501.0,220.08 L501.8,220.34 L502.6,220.62 L503.4,220.92 L504.2,221.25 L505.1,221.59 L505.9,221.96 L506.7,222.35 L507.5,222.77 L508.3,223.21 L509.1,223.68 L509.9,224.23 L510.8,224.84 L511.6,225.50 L512.4,226.21 L513.2,226.96 L514.0,227.74 L514.8,228.64 L515.6,229.64 L516.4,230.72 L517.3,231.81 L518.1,232.86 L518.9,233.83 L519.7,234.65 L520.5,235.27 L521.3,235.82 L522.1,236.46 L523.0,237.38 L523.8,239.15 L524.6,241.46 L525.4,243.51 L526.2,245.00 L527.0,246.33 L527.8,247.32 L528.7,247.77 L529.5,247.92 L530.3,248.03 L531.1,248.12 L531.9,248.20 L532.7,248.25 L533.5,248.29 L534.4,248.32 L535.2,248.33" stroke="#8fc8ff" stroke-width="1.15" opacity="1.00"/>
<path d="M318.7,231.60 L319.5,229.91 L320.3,228.17 L321.1,226.40 L321.9,224.59 L322.7,222.75 L323.6,220.83 L324.4,218.84 L325.2,216.83 L326.0,214.83 L326.8,212.91 L327.6,211.01 L328.4,209.12 L329.3,207.27 L330.1,205.53 L330.9,203.94 L331.7,202.50 L332.5,201.14 L333.3,199.83 L334.1,198.54 L334.9,197.23 L335.8,195.87 L336.6,194.43 L337.4,192.93 L338.2,191.38 L339.0,189.85 L339.8,188.38 L340.6,187.00 L341.5,185.69 L342.3,184.46 L343.1,183.32 L343.9,182.31 L344.7,181.44 L345.5,180.66 L346.3,179.98 L347.2,179.35 L348.0,178.76 L348.8,178.19 L349.6,177.63 L350.4,177.12 L351.2,176.67 L352.0,176.32 L352.9,176.01 L353.7,175.74 L354.5,175.52 L355.3,175.33 L356.1,175.17 L356.9,175.03 L357.7,174.91 L358.6,174.81 L359.4,174.72 L360.2,174.63 L361.0,174.56 L361.8,174.48 L362.6,174.40 L363.4,174.31 L364.2,174.23 L365.1,174.13 L365.9,174.01 L366.7,173.88 L367.5,173.75 L368.3,173.61 L369.1,173.47 L369.9,173.35 L370.8,173.24 L371.6,173.16 L372.4,173.12 L373.2,173.13 L374.0,173.29 L374.8,173.58 L375.6,173.97 L376.5,174.43 L377.3,175.11 L378.1,175.98 L378.9,177.05 L379.7,178.41 L380.5,179.90 L381.3,181.38 L382.2,182.92 L383.0,184.42 L383.8,185.85 L384.6,186.91 L385.4,187.32 L386.2,187.29 L387.0,186.91 L387.9,185.88 L388.7,184.56 L389.5,183.34 L390.3,182.46 L391.1,182.15 L391.9,182.13 L392.7,182.25 L393.5,182.45 L394.4,182.69 L395.2,182.91 L396.0,183.05 L396.8,183.06 L397.6,183.00 L398.4,182.86 L399.2,182.65 L400.1,182.36 L400.9,181.73 L401.7,180.63 L402.5,179.01 L403.3,177.09 L404.1,175.11 L404.9,173.01 L405.8,170.94 L406.6,168.87 L407.4,166.75 L408.2,164.63 L409.0,162.57 L409.8,160.54 L410.6,158.58 L411.5,156.68 L412.3,154.83 L413.1,153.00 L413.9,151.18 L414.7,149.27 L415.5,147.33 L416.3,145.49 L417.2,143.73 L418.0,141.97 L418.8,140.26 L419.6,138.65 L420.4,137.19 L421.2,135.94 L422.0,134.88 L422.8,133.87 L423.7,132.93 L424.5,132.13 L425.3,131.52 L426.1,131.13 L426.9,130.86 L427.7,130.68 L428.5,130.59 L429.4,130.63 L430.2,130.87 L431.0,131.34 L431.8,132.02 L432.6,132.79 L433.4,133.66 L434.2,134.65 L435.1,135.74 L435.9,136.99 L436.7,138.39 L437.5,139.88 L438.3,141.44 L439.1,143.04 L439.9,144.68 L440.8,146.39 L441.6,148.20 L442.4,150.11 L443.2,152.13 L444.0,154.26 L444.8,156.52 L445.6,158.94 L446.5,161.61 L447.3,164.91 L448.1,168.68 L448.9,172.67 L449.7,176.74 L450.5,180.78 L451.3,184.80 L452.1,188.64 L453.0,192.15 L453.8,195.33 L454.6,198.32 L455.4,201.09 L456.2,203.62 L457.0,205.94 L457.8,208.05 L458.7,209.94 L459.5,211.59 L460.3,213.01 L461.1,214.25 L461.9,215.23 L462.7,215.89 L463.5,216.41 L464.4,216.85 L465.2,217.18 L466.0,217.44 L466.8,217.65 L467.6,217.83 L468.4,217.99 L469.2,218.12 L470.1,218.23 L470.9,218.34 L471.7,218.43 L472.5,218.52 L473.3,218.60 L474.1,218.68 L474.9,218.75 L475.8,218.82 L476.6,218.88 L477.4,218.94 L478.2,219.00 L479.0,219.06 L479.8,219.11 L480.6,219.17 L481.5,219.23 L482.3,219.28 L483.1,219.33 L483.9,219.37 L484.7,219.42 L485.5,219.46 L486.3,219.50 L487.1,219.54 L488.0,219.58 L488.8,219.62 L489.6,219.67 L490.4,219.73 L491.2,219.79 L492.0,219.86 L492.8,219.95 L493.7,220.05 L494.5,220.18 L495.3,220.32 L496.1,220.49 L496.9,220.66 L497.7,220.85 L498.5,221.05 L499.4,221.26 L500.2,221.48 L501.0,221.70 L501.8,221.94 L502.6,222.21 L503.4,222.49 L504.2,222.80 L505.1,223.13 L505.9,223.48 L506.7,223.85 L507.5,224.24 L508.3,224.66 L509.1,225.11 L509.9,225.63 L510.8,226.21 L511.6,226.84 L512.4,227.51 L513.2,228.22 L514.0,228.95 L514.8,229.79 L515.6,230.72 L516.4,231.72 L517.3,232.74 L518.1,233.72 L518.9,234.63 L519.7,235.41 L520.5,236.02 L521.3,236.57 L522.1,237.20 L523.0,238.12 L523.8,239.86 L524.6,242.06 L525.4,243.98 L526.2,245.37 L527.0,246.60 L527.8,247.49 L528.7,247.87 L529.5,248.00 L530.3,248.10 L531.1,248.19 L531.9,248.26 L532.7,248.31 L533.5,248.35 L534.4,248.38 L535.2,248.39" stroke="#2fd8c0" stroke-width="1.15" opacity="1.00"/>
<path d="M318.7,231.96 L319.5,230.30 L320.3,228.60 L321.1,226.87 L321.9,225.09 L322.7,223.28 L323.6,221.40 L324.4,219.45 L325.2,217.47 L326.0,215.51 L326.8,213.62 L327.6,211.75 L328.4,209.87 L329.3,208.05 L330.1,206.33 L330.9,204.79 L331.7,203.41 L332.5,202.11 L333.3,200.88 L334.1,199.66 L334.9,198.43 L335.8,197.13 L336.6,195.76 L337.4,194.32 L338.2,192.83 L339.0,191.36 L339.8,189.96 L340.6,188.64 L341.5,187.40 L342.3,186.23 L343.1,185.14 L343.9,184.18 L344.7,183.34 L345.5,182.60 L346.3,181.94 L347.2,181.35 L348.0,180.79 L348.8,180.25 L349.6,179.72 L350.4,179.24 L351.2,178.82 L352.0,178.48 L352.9,178.18 L353.7,177.92 L354.5,177.70 L355.3,177.52 L356.1,177.36 L356.9,177.23 L357.7,177.11 L358.6,177.01 L359.4,176.92 L360.2,176.85 L361.0,176.77 L361.8,176.70 L362.6,176.62 L363.4,176.54 L364.2,176.46 L365.1,176.37 L365.9,176.27 L366.7,176.15 L367.5,176.02 L368.3,175.90 L369.1,175.78 L369.9,175.67 L370.8,175.57 L371.6,175.50 L372.4,175.46 L373.2,175.48 L374.0,175.63 L374.8,175.91 L375.6,176.29 L376.5,176.74 L377.3,177.38 L378.1,178.20 L378.9,179.21 L379.7,180.53 L380.5,182.01 L381.3,183.48 L382.2,184.98 L383.0,186.43 L383.8,187.83 L384.6,188.88 L385.4,189.31 L386.2,189.28 L387.0,188.89 L387.9,187.91 L388.7,186.69 L389.5,185.57 L390.3,184.76 L391.1,184.45 L391.9,184.40 L392.7,184.48 L393.5,184.63 L394.4,184.82 L395.2,185.00 L396.0,185.12 L396.8,185.13 L397.6,185.07 L398.4,184.97 L399.2,184.82 L400.1,184.61 L400.9,184.06 L401.7,183.00 L402.5,181.45 L403.3,179.66 L404.1,177.85 L404.9,175.95 L405.8,174.06 L406.6,172.18 L407.4,170.27 L408.2,168.38 L409.0,166.55 L409.8,164.75 L410.6,163.00 L411.5,161.29 L412.3,159.62 L413.1,157.96 L413.9,156.31 L414.7,154.62 L415.5,152.94 L416.3,151.34 L417.2,149.82 L418.0,148.30 L418.8,146.84 L419.6,145.47 L420.4,144.23 L421.2,143.15 L422.0,142.23 L422.8,141.35 L423.7,140.53 L424.5,139.83 L425.3,139.29 L426.1,138.95 L426.9,138.75 L427.7,138.63 L428.5,138.59 L429.4,138.67 L430.2,138.91 L431.0,139.34 L431.8,139.99 L432.6,140.75 L433.4,141.61 L434.2,142.60 L435.1,143.67 L435.9,144.94 L436.7,146.38 L437.5,147.94 L438.3,149.57 L439.1,151.25 L439.9,152.92 L440.8,154.67 L441.6,156.50 L442.4,158.42 L443.2,160.43 L444.0,162.54 L444.8,164.75 L445.6,167.12 L446.5,169.70 L447.3,172.87 L448.1,176.52 L448.9,180.42 L449.7,184.48 L450.5,188.61 L451.3,192.74 L452.1,196.68 L453.0,200.22 L453.8,203.37 L454.6,206.29 L455.4,208.95 L456.2,211.34 L457.0,213.46 L457.8,215.33 L458.7,216.92 L459.5,218.24 L460.3,219.30 L461.1,220.11 L461.9,220.68 L462.7,221.05 L463.5,221.34 L464.4,221.61 L465.2,221.83 L466.0,222.01 L466.8,222.16 L467.6,222.29 L468.4,222.42 L469.2,222.53 L470.1,222.64 L470.9,222.74 L471.7,222.83 L472.5,222.92 L473.3,223.00 L474.1,223.08 L474.9,223.15 L475.8,223.22 L476.6,223.29 L477.4,223.35 L478.2,223.41 L479.0,223.47 L479.8,223.52 L480.6,223.58 L481.5,223.63 L482.3,223.68 L483.1,223.72 L483.9,223.75 L484.7,223.79 L485.5,223.82 L486.3,223.85 L487.1,223.88 L488.0,223.91 L488.8,223.95 L489.6,223.98 L490.4,224.03 L491.2,224.08 L492.0,224.13 L492.8,224.20 L493.7,224.28 L494.5,224.38 L495.3,224.49 L496.1,224.62 L496.9,224.75 L497.7,224.90 L498.5,225.06 L499.4,225.23 L500.2,225.40 L501.0,225.59 L501.8,225.79 L502.6,226.02 L503.4,226.26 L504.2,226.53 L505.1,226.81 L505.9,227.12 L506.7,227.45 L507.5,227.79 L508.3,228.15 L509.1,228.54 L509.9,228.99 L510.8,229.49 L511.6,230.04 L512.4,230.62 L513.2,231.23 L514.0,231.86 L514.8,232.55 L515.6,233.31 L516.4,234.13 L517.3,234.96 L518.1,235.78 L518.9,236.55 L519.7,237.25 L520.5,237.81 L521.3,238.35 L522.1,238.98 L523.0,239.89 L523.8,241.55 L524.6,243.52 L525.4,245.10 L526.2,246.25 L527.0,247.26 L527.8,247.90 L528.7,248.09 L529.5,248.19 L530.3,248.28 L531.1,248.35 L531.9,248.41 L532.7,248.46 L533.5,248.49 L534.4,248.52 L535.2,248.53" stroke="#16bde8" stroke-width="1.15" opacity="1.00"/>
<path d="M318.7,232.67 L319.5,231.08 L320.3,229.46 L321.1,227.79 L321.9,226.09 L322.7,224.35 L323.6,222.55 L324.4,220.67 L325.2,218.76 L326.0,216.87 L326.8,215.05 L327.6,213.23 L328.4,211.38 L329.3,209.59 L330.1,207.93 L330.9,206.47 L331.7,205.21 L332.5,204.06 L333.3,202.97 L334.1,201.90 L334.9,200.81 L335.8,199.65 L336.6,198.40 L337.4,197.09 L338.2,195.74 L339.0,194.40 L339.8,193.11 L340.6,191.92 L341.5,190.80 L342.3,189.76 L343.1,188.78 L343.9,187.91 L344.7,187.15 L345.5,186.47 L346.3,185.87 L347.2,185.34 L348.0,184.84 L348.8,184.37 L349.6,183.91 L350.4,183.49 L351.2,183.12 L352.0,182.80 L352.9,182.52 L353.7,182.27 L354.5,182.06 L355.3,181.89 L356.1,181.75 L356.9,181.62 L357.7,181.51 L358.6,181.42 L359.4,181.34 L360.2,181.27 L361.0,181.20 L361.8,181.13 L362.6,181.07 L363.4,181.00 L364.2,180.93 L365.1,180.86 L365.9,180.77 L366.7,180.68 L367.5,180.58 L368.3,180.48 L369.1,180.39 L369.9,180.31 L370.8,180.24 L371.6,180.18 L372.4,180.15 L373.2,180.17 L374.0,180.31 L374.8,180.57 L375.6,180.92 L376.5,181.34 L377.3,181.91 L378.1,182.63 L378.9,183.52 L379.7,184.77 L380.5,186.22 L381.3,187.67 L382.2,189.12 L383.0,190.46 L383.8,191.78 L384.6,192.82 L385.4,193.29 L386.2,193.25 L387.0,192.85 L387.9,191.98 L388.7,190.94 L389.5,190.03 L390.3,189.36 L391.1,189.05 L391.9,188.94 L392.7,188.93 L393.5,188.99 L394.4,189.09 L395.2,189.20 L396.0,189.27 L396.8,189.26 L397.6,189.21 L398.4,189.12 L399.2,189.00 L400.1,188.84 L400.9,188.27 L401.7,187.11 L402.5,185.48 L403.3,183.69 L404.1,181.96 L404.9,180.15 L405.8,178.33 L406.6,176.53 L407.4,174.72 L408.2,172.95 L409.0,171.27 L409.8,169.60 L410.6,167.98 L411.5,166.39 L412.3,164.85 L413.1,163.35 L413.9,161.87 L414.7,160.42 L415.5,159.01 L416.3,157.67 L417.2,156.41 L418.0,155.17 L418.8,153.98 L419.6,152.86 L420.4,151.85 L421.2,150.97 L422.0,150.20 L422.8,149.46 L423.7,148.77 L424.5,148.17 L425.3,147.71 L426.1,147.43 L426.9,147.29 L427.7,147.24 L428.5,147.26 L429.4,147.38 L430.2,147.62 L431.0,148.01 L431.8,148.62 L432.6,149.37 L433.4,150.23 L434.2,151.21 L435.1,152.27 L435.9,153.56 L436.7,155.05 L437.5,156.68 L438.3,158.39 L439.1,160.13 L439.9,161.86 L440.8,163.64 L441.6,165.49 L442.4,167.41 L443.2,169.41 L444.0,171.50 L444.8,173.67 L445.6,175.97 L446.5,178.45 L447.3,181.39 L448.1,184.69 L448.9,188.18 L449.7,191.85 L450.5,195.63 L451.3,199.40 L452.1,202.95 L453.0,206.04 L453.8,208.70 L454.6,211.14 L455.4,213.34 L456.2,215.29 L457.0,217.01 L457.8,218.49 L458.7,219.74 L459.5,220.75 L460.3,221.39 L461.1,221.84 L461.9,222.20 L462.7,222.48 L463.5,222.73 L464.4,222.95 L465.2,223.15 L466.0,223.32 L466.8,223.45 L467.6,223.57 L468.4,223.69 L469.2,223.80 L470.1,223.90 L470.9,224.00 L471.7,224.09 L472.5,224.18 L473.3,224.26 L474.1,224.34 L474.9,224.41 L475.8,224.48 L476.6,224.54 L477.4,224.61 L478.2,224.67 L479.0,224.72 L479.8,224.78 L480.6,224.83 L481.5,224.88 L482.3,224.92 L483.1,224.96 L483.9,225.00 L484.7,225.03 L485.5,225.06 L486.3,225.08 L487.1,225.11 L488.0,225.14 L488.8,225.17 L489.6,225.20 L490.4,225.24 L491.2,225.28 L492.0,225.33 L492.8,225.39 L493.7,225.47 L494.5,225.56 L495.3,225.66 L496.1,225.77 L496.9,225.90 L497.7,226.04 L498.5,226.18 L499.4,226.34 L500.2,226.50 L501.0,226.67 L501.8,226.87 L502.6,227.08 L503.4,227.32 L504.2,227.58 L505.1,227.85 L505.9,228.15 L506.7,228.46 L507.5,228.79 L508.3,229.14 L509.1,229.52 L509.9,229.95 L510.8,230.43 L511.6,230.96 L512.4,231.52 L513.2,232.10 L514.0,232.70 L514.8,233.35 L515.6,234.07 L516.4,234.83 L517.3,235.61 L518.1,236.39 L518.9,237.12 L519.7,237.79 L520.5,238.34 L521.3,238.87 L522.1,239.49 L523.0,240.39 L523.8,242.00 L524.6,243.88 L525.4,245.37 L526.2,246.46 L527.0,247.40 L527.8,247.99 L528.7,248.14 L529.5,248.24 L530.3,248.32 L531.1,248.39 L531.9,248.45 L532.7,248.49 L533.5,248.53 L534.4,248.55 L535.2,248.56" stroke="#f4c8b0" stroke-width="1.15" opacity="1.00"/>
<path d="M318.7,233.02 L319.5,231.48 L320.3,229.89 L321.1,228.26 L321.9,226.59 L322.7,224.89 L323.6,223.12 L324.4,221.28 L325.2,219.41 L326.0,217.56 L326.8,215.76 L327.6,213.96 L328.4,212.14 L329.3,210.36 L330.1,208.73 L330.9,207.32 L331.7,206.12 L332.5,205.03 L333.3,204.02 L334.1,203.03 L334.9,202.01 L335.8,200.91 L336.6,199.72 L337.4,198.48 L338.2,197.19 L339.0,195.92 L339.8,194.69 L340.6,193.55 L341.5,192.50 L342.3,191.52 L343.1,190.60 L343.9,189.78 L344.7,189.05 L345.5,188.40 L346.3,187.84 L347.2,187.34 L348.0,186.87 L348.8,186.43 L349.6,186.01 L350.4,185.62 L351.2,185.27 L352.0,184.96 L352.9,184.69 L353.7,184.45 L354.5,184.24 L355.3,184.08 L356.1,183.94 L356.9,183.82 L357.7,183.71 L358.6,183.62 L359.4,183.55 L360.2,183.48 L361.0,183.42 L361.8,183.35 L362.6,183.29 L363.4,183.23 L364.2,183.16 L365.1,183.10 L365.9,183.02 L366.7,182.94 L367.5,182.86 L368.3,182.78 L369.1,182.70 L369.9,182.63 L370.8,182.57 L371.6,182.52 L372.4,182.50 L373.2,182.52 L374.0,182.65 L374.8,182.90 L375.6,183.24 L376.5,183.65 L377.3,184.18 L378.1,184.84 L378.9,185.68 L379.7,186.90 L380.5,188.32 L381.3,189.77 L382.2,191.18 L383.0,192.47 L383.8,193.76 L384.6,194.79 L385.4,195.27 L386.2,195.23 L387.0,194.82 L387.9,194.01 L388.7,193.06 L389.5,192.26 L390.3,191.66 L391.1,191.35 L391.9,191.21 L392.7,191.16 L393.5,191.17 L394.4,191.23 L395.2,191.30 L396.0,191.34 L396.8,191.33 L397.6,191.28 L398.4,191.23 L399.2,191.17 L400.1,191.09 L400.9,190.60 L401.7,189.48 L402.5,187.93 L403.3,186.25 L404.1,184.71 L404.9,183.09 L405.8,181.46 L406.6,179.84 L407.4,178.24 L408.2,176.70 L409.0,175.26 L409.8,173.82 L410.6,172.40 L411.5,171.01 L412.3,169.64 L413.1,168.31 L413.9,167.01 L414.7,165.77 L415.5,164.61 L416.3,163.52 L417.2,162.49 L418.0,161.50 L418.8,160.56 L419.6,159.68 L420.4,158.88 L421.2,158.18 L422.0,157.56 L422.8,156.95 L423.7,156.37 L424.5,155.86 L425.3,155.48 L426.1,155.26 L426.9,155.18 L427.7,155.19 L428.5,155.27 L429.4,155.42 L430.2,155.66 L431.0,156.02 L431.8,156.59 L432.6,157.33 L433.4,158.19 L434.2,159.16 L435.1,160.21 L435.9,161.51 L436.7,163.04 L437.5,164.74 L438.3,166.53 L439.1,168.34 L439.9,170.11 L440.8,171.91 L441.6,173.78 L442.4,175.71 L443.2,177.71 L444.0,179.77 L444.8,181.91 L445.6,184.15 L446.5,186.54 L447.3,189.38 L448.1,192.61 L448.9,196.08 L449.7,199.81 L450.5,203.78 L451.3,207.77 L452.1,211.53 L453.0,214.76 L453.8,216.90 L454.6,218.22 L455.4,219.44 L456.2,220.56 L457.0,221.59 L457.8,222.51 L458.7,223.33 L459.5,224.04 L460.3,224.64 L461.1,225.12 L461.9,225.49 L462.7,225.77 L463.5,226.00 L464.4,226.21 L465.2,226.40 L466.0,226.56 L466.8,226.70 L467.6,226.82 L468.4,226.93 L469.2,227.04 L470.1,227.13 L470.9,227.21 L471.7,227.29 L472.5,227.37 L473.3,227.44 L474.1,227.51 L474.9,227.58 L475.8,227.64 L476.6,227.69 L477.4,227.75 L478.2,227.80 L479.0,227.85 L479.8,227.89 L480.6,227.93 L481.5,227.97 L482.3,228.00 L483.1,228.03 L483.9,228.05 L484.7,228.06 L485.5,228.07 L486.3,228.08 L487.1,228.09 L488.0,228.10 L488.8,228.11 L489.6,228.13 L490.4,228.15 L491.2,228.18 L492.0,228.21 L492.8,228.25 L493.7,228.31 L494.5,228.37 L495.3,228.45 L496.1,228.53 L496.9,228.63 L497.7,228.73 L498.5,228.85 L499.4,228.97 L500.2,229.10 L501.0,229.25 L501.8,229.43 L502.6,229.64 L503.4,229.86 L504.2,230.11 L505.1,230.37 L505.9,230.65 L506.7,230.94 L507.5,231.26 L508.3,231.59 L509.1,231.95 L509.9,232.36 L510.8,232.80 L511.6,233.27 L512.4,233.77 L513.2,234.30 L514.0,234.83 L514.8,235.41 L515.6,236.04 L516.4,236.70 L517.3,237.38 L518.1,238.05 L518.9,238.70 L519.7,239.29 L520.5,239.78 L521.3,240.26 L522.1,240.82 L523.0,241.58 L523.8,242.90 L524.6,244.45 L525.4,245.70 L526.2,246.63 L527.0,247.44 L527.8,247.97 L528.7,248.14 L529.5,248.25 L530.3,248.35 L531.1,248.42 L531.9,248.49 L532.7,248.54 L533.5,248.57 L534.4,248.60 L535.2,248.61" stroke="#60d4e8" stroke-width="1.15" opacity="1.00"/>
<path d="M318.7,228.51 L319.5,226.51 L320.3,224.47 L321.1,222.39 L321.9,220.27 L322.7,218.12 L323.6,215.88 L324.4,213.57 L325.2,211.23 L326.0,208.94 L326.8,206.73 L327.6,204.62 L328.4,202.58 L329.3,200.57 L330.1,198.60 L330.9,196.64 L331.7,194.68 L332.5,192.71 L333.3,190.76 L334.1,188.83 L334.9,186.90 L335.8,184.95 L336.6,182.97 L337.4,180.91 L338.2,178.79 L339.0,176.69 L339.8,174.69 L340.6,172.81 L341.5,170.95 L342.3,169.16 L343.1,167.54 L343.9,166.14 L344.7,164.96 L345.5,163.90 L346.3,162.94 L347.2,162.05 L348.0,161.19 L348.8,160.33 L349.6,159.48 L350.4,158.70 L351.2,158.06 L352.0,157.59 L352.9,157.21 L353.7,156.89 L354.5,156.61 L355.3,156.38 L356.1,156.18 L356.9,156.00 L357.7,155.85 L358.6,155.71 L359.4,155.59 L360.2,155.47 L361.0,155.36 L361.8,155.24 L362.6,155.13 L363.4,155.00 L364.2,154.86 L365.1,154.70 L365.9,154.50 L366.7,154.26 L367.5,154.00 L368.3,153.74 L369.1,153.48 L369.9,153.24 L370.8,153.04 L371.6,152.88 L372.4,152.79 L373.2,152.79 L374.0,152.99 L374.8,153.38 L375.6,153.89 L376.5,154.48 L377.3,155.45 L378.1,156.78 L378.9,158.35 L379.7,160.02 L380.5,161.66 L381.3,163.19 L382.2,165.01 L383.0,166.98 L383.8,168.71 L384.6,169.85 L385.4,170.10 L386.2,170.10 L387.0,169.76 L387.9,168.26 L388.7,166.14 L389.5,164.02 L390.3,162.52 L391.1,162.20 L391.9,162.46 L392.7,162.95 L393.5,163.56 L394.4,164.19 L395.2,164.73 L396.0,165.07 L396.8,165.14 L397.6,165.06 L398.4,164.90 L399.2,164.65 L400.1,164.33 L400.9,163.95 L401.7,163.47 L402.5,162.36 L403.3,160.66 L404.1,158.58 L404.9,156.37 L405.8,154.26 L406.6,152.17 L407.4,149.91 L408.2,147.57 L409.0,145.20 L409.8,142.88 L410.6,140.64 L411.5,138.45 L412.3,136.23 L413.1,133.93 L413.9,131.49 L414.7,128.76 L415.5,125.86 L416.3,123.08 L417.2,120.40 L418.0,117.68 L418.8,115.02 L419.6,112.50 L420.4,110.23 L421.2,108.29 L422.0,106.68 L422.8,105.17 L423.7,103.80 L424.5,102.63 L425.3,101.72 L426.1,101.12 L426.9,100.63 L427.7,100.21 L428.5,99.92 L429.4,99.81 L430.2,100.05 L431.0,100.66 L431.8,101.46 L432.6,102.28 L433.4,103.16 L434.2,104.18 L435.1,105.31 L435.9,106.51 L436.7,107.73 L437.5,108.96 L438.3,110.24 L439.1,111.59 L439.9,113.06 L440.8,114.66 L441.6,116.41 L442.4,118.29 L443.2,120.33 L444.0,122.55 L444.8,124.96 L445.6,127.59 L446.5,130.60 L447.3,134.31 L448.1,138.44 L448.9,142.65 L449.7,146.62 L450.5,150.14 L451.3,153.50 L452.1,156.75 L453.0,159.92 L453.8,163.03 L454.6,166.11 L455.4,169.15 L456.2,172.10 L457.0,175.05 L457.8,178.05 L458.7,181.07 L459.5,184.00 L460.3,186.90 L461.1,189.89 L461.9,192.53 L462.7,194.40 L463.5,195.85 L464.4,197.02 L465.2,197.82 L466.0,198.37 L466.8,198.84 L467.6,199.23 L468.4,199.53 L469.2,199.75 L470.1,199.89 L470.9,200.01 L471.7,200.11 L472.5,200.20 L473.3,200.28 L474.1,200.35 L474.9,200.41 L475.8,200.46 L476.6,200.52 L477.4,200.57 L478.2,200.62 L479.0,200.68 L479.8,200.74 L480.6,200.81 L481.5,200.89 L482.3,200.97 L483.1,201.05 L483.9,201.12 L484.7,201.19 L485.5,201.27 L486.3,201.35 L487.1,201.43 L488.0,201.51 L488.8,201.61 L489.6,201.71 L490.4,201.82 L491.2,201.94 L492.0,202.08 L492.8,202.24 L493.7,202.44 L494.5,202.68 L495.3,202.96 L496.1,203.28 L496.9,203.61 L497.7,203.97 L498.5,204.35 L499.4,204.73 L500.2,205.12 L501.0,205.51 L501.8,205.91 L502.6,206.34 L503.4,206.79 L504.2,207.26 L505.1,207.76 L505.9,208.30 L506.7,208.87 L507.5,209.47 L508.3,210.12 L509.1,210.82 L509.9,211.62 L510.8,212.52 L511.6,213.49 L512.4,214.54 L513.2,215.66 L514.0,216.84 L514.8,218.28 L515.6,219.93 L516.4,221.70 L517.3,223.47 L518.1,225.14 L518.9,226.61 L519.7,227.77 L520.5,228.56 L521.3,229.15 L522.1,229.79 L523.0,230.74 L523.8,232.82 L524.6,236.01 L525.4,239.28 L526.2,241.69 L527.0,243.88 L527.8,245.78 L528.7,246.93 L529.5,247.20 L530.3,247.37 L531.1,247.51 L531.9,247.62 L532.7,247.71 L533.5,247.77 L534.4,247.80 L535.2,247.81" stroke="#1f4fff" stroke-width="1.7"/>
<path d="M318.7,234.45 L319.5,233.04 L320.3,231.60 L321.1,230.11 L321.9,228.59 L322.7,227.03 L323.6,225.40 L324.4,223.71 L325.2,221.99 L326.0,220.28 L326.8,218.61 L327.6,216.91 L328.4,215.16 L329.3,213.46 L330.1,211.93 L330.9,210.69 L331.7,209.73 L332.5,208.92 L333.3,208.20 L334.1,207.51 L334.9,206.78 L335.8,205.94 L336.6,205.01 L337.4,204.02 L338.2,203.00 L339.0,201.99 L339.8,201.01 L340.6,200.10 L341.5,199.31 L342.3,198.58 L343.1,197.89 L343.9,197.24 L344.7,196.65 L345.5,196.14 L346.3,195.70 L347.2,195.32 L348.0,194.98 L348.8,194.67 L349.6,194.38 L350.4,194.11 L351.2,193.86 L352.0,193.61 L352.9,193.37 L353.7,193.15 L354.5,192.97 L355.3,192.83 L356.1,192.71 L356.9,192.60 L357.7,192.51 L358.6,192.43 L359.4,192.38 L360.2,192.33 L361.0,192.28 L361.8,192.23 L362.6,192.19 L363.4,192.14 L364.2,192.10 L365.1,192.07 L365.9,192.03 L366.7,192.00 L367.5,191.97 L368.3,191.95 L369.1,191.92 L369.9,191.91 L370.8,191.89 L371.6,191.88 L372.4,191.88 L373.2,191.90 L374.0,192.02 L374.8,192.23 L375.6,192.51 L376.5,192.86 L377.3,193.26 L378.1,193.70 L378.9,194.31 L379.7,195.38 L380.5,196.74 L381.3,198.17 L382.2,199.44 L383.0,200.52 L383.8,201.67 L384.6,202.66 L385.4,203.22 L386.2,203.17 L387.0,202.74 L387.9,202.14 L388.7,201.57 L389.5,201.18 L390.3,200.86 L391.1,200.56 L391.9,200.29 L392.7,200.06 L393.5,199.89 L394.4,199.77 L395.2,199.69 L396.0,199.64 L396.8,199.59 L397.6,199.55 L398.4,199.50 L399.2,199.42 L400.1,199.31 L400.9,198.63 L401.7,197.15 L402.5,195.28 L403.3,193.42 L404.1,191.80 L404.9,190.12 L405.8,188.40 L406.6,186.67 L407.4,185.01 L408.2,183.45 L409.0,182.02 L409.8,180.59 L410.6,179.19 L411.5,177.84 L412.3,176.55 L413.1,175.36 L413.9,174.28 L414.7,173.35 L415.5,172.55 L416.3,171.80 L417.2,171.12 L418.0,170.48 L418.8,169.89 L419.6,169.35 L420.4,168.85 L421.2,168.40 L422.0,167.98 L422.8,167.56 L423.7,167.14 L424.5,166.77 L425.3,166.49 L426.1,166.35 L426.9,166.36 L427.7,166.45 L428.5,166.60 L429.4,166.81 L430.2,167.04 L431.0,167.36 L431.8,167.89 L432.6,168.60 L433.4,169.46 L434.2,170.42 L435.1,171.45 L435.9,172.77 L436.7,174.37 L437.5,176.16 L438.3,178.06 L439.1,179.96 L439.9,181.79 L440.8,183.64 L441.6,185.53 L442.4,187.47 L443.2,189.46 L444.0,191.49 L444.8,193.57 L445.6,195.74 L446.5,197.97 L447.3,200.25 L448.1,202.52 L448.9,204.75 L449.7,207.11 L450.5,209.61 L451.3,212.03 L452.1,214.12 L453.0,215.64 L453.8,216.71 L454.6,217.62 L455.4,218.38 L456.2,219.04 L457.0,219.60 L457.8,220.10 L458.7,220.54 L459.5,220.93 L460.3,221.27 L461.1,221.58 L461.9,221.86 L462.7,222.13 L463.5,222.38 L464.4,222.60 L465.2,222.80 L466.0,222.97 L466.8,223.11 L467.6,223.23 L468.4,223.35 L469.2,223.46 L470.1,223.56 L470.9,223.66 L471.7,223.75 L472.5,223.84 L473.3,223.92 L474.1,224.00 L474.9,224.07 L475.8,224.14 L476.6,224.21 L477.4,224.27 L478.2,224.33 L479.0,224.39 L479.8,224.45 L480.6,224.50 L481.5,224.55 L482.3,224.60 L483.1,224.64 L483.9,224.67 L484.7,224.71 L485.5,224.74 L486.3,224.76 L487.1,224.79 L488.0,224.82 L488.8,224.85 L489.6,224.89 L490.4,224.93 L491.2,224.97 L492.0,225.03 L492.8,225.09 L493.7,225.17 L494.5,225.26 L495.3,225.36 L496.1,225.48 L496.9,225.61 L497.7,225.75 L498.5,225.90 L499.4,226.06 L500.2,226.23 L501.0,226.40 L501.8,226.60 L502.6,226.81 L503.4,227.05 L504.2,227.31 L505.1,227.59 L505.9,227.88 L506.7,228.20 L507.5,228.53 L508.3,228.88 L509.1,229.26 L509.9,229.70 L510.8,230.18 L511.6,230.71 L512.4,231.28 L513.2,231.86 L514.0,232.47 L514.8,233.13 L515.6,233.86 L516.4,234.63 L517.3,235.43 L518.1,236.21 L518.9,236.96 L519.7,237.63 L520.5,238.19 L521.3,238.72 L522.1,239.35 L523.0,240.26 L523.8,241.90 L524.6,243.82 L525.4,245.34 L526.2,246.44 L527.0,247.40 L527.8,247.99 L528.7,248.14 L529.5,248.23 L530.3,248.32 L531.1,248.39 L531.9,248.44 L532.7,248.49 L533.5,248.52 L534.4,248.54 L535.2,248.56" stroke="#10bce4" stroke-width="1.6"/>
<path d="M318.7,238.41 L319.5,237.47 L320.3,236.46 L321.1,235.38 L321.9,234.25 L322.7,233.05 L323.6,231.78 L324.4,230.43 L325.2,229.01 L326.0,227.54 L326.8,226.00 L327.6,224.22 L328.4,222.32 L329.3,220.51 L330.1,219.01 L330.9,217.92 L331.7,217.01 L332.5,216.21 L333.3,215.48 L334.1,214.80 L334.9,214.13 L335.8,213.42 L336.6,212.73 L337.4,212.07 L338.2,211.41 L339.0,210.77 L339.8,210.13 L340.6,209.48 L341.5,208.84 L342.3,208.19 L343.1,207.55 L343.9,206.91 L344.7,206.28 L345.5,205.66 L346.3,205.04 L347.2,204.39 L348.0,203.73 L348.8,203.11 L349.6,202.57 L350.4,202.15 L351.2,201.78 L352.0,201.45 L352.9,201.16 L353.7,200.90 L354.5,200.67 L355.3,200.48 L356.1,200.29 L356.9,200.10 L357.7,199.95 L358.6,199.84 L359.4,199.80 L360.2,199.80 L361.0,199.80 L361.8,199.80 L362.6,199.80 L363.4,199.80 L364.2,199.80 L365.1,199.80 L365.9,199.80 L366.7,199.79 L367.5,199.74 L368.3,199.66 L369.1,199.57 L369.9,199.47 L370.8,199.39 L371.6,199.33 L372.4,199.31 L373.2,199.32 L374.0,199.38 L374.8,199.48 L375.6,199.61 L376.5,199.78 L377.3,199.98 L378.1,200.21 L378.9,200.59 L379.7,201.41 L380.5,202.52 L381.3,203.76 L382.2,205.48 L383.0,207.61 L383.8,209.35 L384.6,210.24 L385.4,210.91 L386.2,211.19 L387.0,211.00 L387.9,210.55 L388.7,210.02 L389.5,209.54 L390.3,208.97 L391.1,208.45 L391.9,208.22 L392.7,208.27 L393.5,208.39 L394.4,208.54 L395.2,208.66 L396.0,208.71 L396.8,208.69 L397.6,208.62 L398.4,208.51 L399.2,208.37 L400.1,208.20 L400.9,208.01 L401.7,207.79 L402.5,207.53 L403.3,207.12 L404.1,206.58 L404.9,205.94 L405.8,205.23 L406.6,204.50 L407.4,203.72 L408.2,202.77 L409.0,201.69 L409.8,200.53 L410.6,199.35 L411.5,198.18 L412.3,197.09 L413.1,196.13 L413.9,195.30 L414.7,194.51 L415.5,193.76 L416.3,193.05 L417.2,192.37 L418.0,191.73 L418.8,191.13 L419.6,190.57 L420.4,190.05 L421.2,189.54 L422.0,189.07 L422.8,188.64 L423.7,188.25 L424.5,187.92 L425.3,187.61 L426.1,187.31 L426.9,187.07 L427.7,186.94 L428.5,187.00 L429.4,187.30 L430.2,187.67 L431.0,188.06 L431.8,188.52 L432.6,189.06 L433.4,189.67 L434.2,190.37 L435.1,191.18 L435.9,192.29 L436.7,193.67 L437.5,195.21 L438.3,196.81 L439.1,198.36 L439.9,199.75 L440.8,201.06 L441.6,202.36 L442.4,203.73 L443.2,205.11 L444.0,206.52 L444.8,207.99 L445.6,209.56 L446.5,211.29 L447.3,213.28 L448.1,215.48 L448.9,217.78 L449.7,220.06 L450.5,222.23 L451.3,224.19 L452.1,226.07 L453.0,227.86 L453.8,229.50 L454.6,230.96 L455.4,232.31 L456.2,233.51 L457.0,234.45 L457.8,235.16 L458.7,235.75 L459.5,236.21 L460.3,236.55 L461.1,236.83 L461.9,237.08 L462.7,237.28 L463.5,237.46 L464.4,237.63 L465.2,237.79 L466.0,237.93 L466.8,238.07 L467.6,238.19 L468.4,238.29 L469.2,238.37 L470.1,238.43 L470.9,238.47 L471.7,238.52 L472.5,238.56 L473.3,238.60 L474.1,238.64 L474.9,238.67 L475.8,238.70 L476.6,238.73 L477.4,238.75 L478.2,238.77 L479.0,238.79 L479.8,238.80 L480.6,238.80 L481.5,238.81 L482.3,238.80 L483.1,238.77 L483.9,238.74 L484.7,238.69 L485.5,238.63 L486.3,238.58 L487.1,238.52 L488.0,238.47 L488.8,238.42 L489.6,238.38 L490.4,238.35 L491.2,238.33 L492.0,238.30 L492.8,238.28 L493.7,238.25 L494.5,238.23 L495.3,238.21 L496.1,238.20 L496.9,238.18 L497.7,238.17 L498.5,238.16 L499.4,238.16 L500.2,238.19 L501.0,238.28 L501.8,238.41 L502.6,238.58 L503.4,238.77 L504.2,238.98 L505.1,239.19 L505.9,239.40 L506.7,239.63 L507.5,239.89 L508.3,240.18 L509.1,240.48 L509.9,240.79 L510.8,241.08 L511.6,241.38 L512.4,241.69 L513.2,242.00 L514.0,242.31 L514.8,242.63 L515.6,242.94 L516.4,243.26 L517.3,243.58 L518.1,243.89 L518.9,244.21 L519.7,244.52 L520.5,244.83 L521.3,245.13 L522.1,245.45 L523.0,245.76 L523.8,246.08 L524.6,246.43 L525.4,246.82 L526.2,247.22 L527.0,247.59 L527.8,247.92 L528.7,248.15 L529.5,248.31 L530.3,248.43 L531.1,248.54 L531.9,248.63 L532.7,248.69 L533.5,248.73 L534.4,248.77 L535.2,248.80" stroke="#ff1a1a" stroke-width="1.9"/>
</g>
<g font-size="9.2" fill="#2e2e2e" stroke="#2e2e2e" stroke-width="0.12">
<text transform="translate(314.70,252.90) scale(0.930,1)" text-anchor="end" font-size="9.60">0.0</text>
<text transform="translate(314.70,228.15) scale(0.930,1)" text-anchor="end" font-size="9.60">0.5</text>
<text transform="translate(314.70,203.40) scale(0.930,1)" text-anchor="end" font-size="9.60">1.0</text>
<text transform="translate(314.70,178.65) scale(0.930,1)" text-anchor="end" font-size="9.60">1.5</text>
<text transform="translate(314.70,153.90) scale(0.930,1)" text-anchor="end" font-size="9.60">2.0</text>
<text transform="translate(314.70,129.15) scale(0.930,1)" text-anchor="end" font-size="9.60">2.5</text>
<text transform="translate(314.70,104.40) scale(0.930,1)" text-anchor="end" font-size="9.60">3.0</text>
<text transform="translate(314.70,79.65) scale(0.930,1)" text-anchor="end" font-size="9.60">3.5</text>
<text transform="translate(314.70,54.90) scale(0.930,1)" text-anchor="end" font-size="9.60">4.0</text>
<text transform="translate(345.80,260.10) scale(0.910,1)" text-anchor="middle" font-size="9.60">1000</text>
<text transform="translate(372.93,260.10) scale(0.910,1)" text-anchor="middle" font-size="9.60">1100</text>
<text transform="translate(400.06,260.10) scale(0.910,1)" text-anchor="middle" font-size="9.60">1200</text>
<text transform="translate(427.19,260.10) scale(0.910,1)" text-anchor="middle" font-size="9.60">1300</text>
<text transform="translate(454.32,260.10) scale(0.910,1)" text-anchor="middle" font-size="9.60">1400</text>
<text transform="translate(481.45,260.10) scale(0.910,1)" text-anchor="middle" font-size="9.60">1500</text>
<text transform="translate(508.58,260.10) scale(0.910,1)" text-anchor="middle" font-size="9.60">1600</text>
<text transform="translate(535.71,260.10) scale(0.910,1)" text-anchor="middle" font-size="9.60">1700</text>
<text transform="translate(427.20,270.10) scale(0.910,1)" text-anchor="middle" font-size="9.45">Wavelength (nm)</text>
<text transform="translate(298.30,149.80) rotate(-90) scale(0.920,1)" text-anchor="middle" font-size="9.45">Intensity (counts)</text>
<text x="319.4" y="49.8" font-size="11.5">×</text><text x="326.2" y="49.6">10</text><text x="336.6" y="45" font-size="6.8">5</text>
</g>
<rect x="44.60" y="55.50" width="55.40" height="39.80" fill="#fff" fill-opacity="0.82" stroke="#dcdcdc" stroke-width="0.8"/>
<line x1="47.40" y1="62.30" x2="65.80" y2="62.30" stroke="#2255ff" stroke-width="1.6"/>
<circle cx="56.60" cy="62.30" r="1.3" fill="#2255ff"/>
<text transform="translate(72.50,65.80) scale(0.890,1)" text-anchor="start" font-size="9.70" fill="#2e2e2e" stroke="#2e2e2e" stroke-width="0.12">3.9%</text>
<line x1="47.40" y1="74.80" x2="65.80" y2="74.80" stroke="#1ec8ee" stroke-width="1.6"/>
<circle cx="56.60" cy="74.80" r="1.3" fill="#1ec8ee"/>
<text transform="translate(72.50,78.30) scale(0.890,1)" text-anchor="start" font-size="9.70" fill="#2e2e2e" stroke="#2e2e2e" stroke-width="0.12">9.1%</text>
<line x1="47.40" y1="87.00" x2="65.80" y2="87.00" stroke="#ff2020" stroke-width="1.6"/>
<circle cx="56.60" cy="87.00" r="1.3" fill="#ff2020"/>
<text transform="translate(72.50,90.50) scale(0.890,1)" text-anchor="start" font-size="9.70" fill="#2e2e2e" stroke="#2e2e2e" stroke-width="0.12">31.6%</text>
<rect x="475.40" y="55.40" width="56.20" height="39.90" fill="#fff" fill-opacity="0.82" stroke="#dcdcdc" stroke-width="0.8"/>
<line x1="478.00" y1="61.80" x2="496.80" y2="61.80" stroke="#2255ff" stroke-width="1.6"/>
<text transform="translate(503.70,65.30) scale(0.890,1)" text-anchor="start" font-size="9.70" fill="#2e2e2e" stroke="#2e2e2e" stroke-width="0.12">3.9%</text>
<line x1="478.00" y1="74.60" x2="496.80" y2="74.60" stroke="#1ec8ee" stroke-width="1.6"/>
<text transform="translate(503.70,78.10) scale(0.890,1)" text-anchor="start" font-size="9.70" fill="#2e2e2e" stroke="#2e2e2e" stroke-width="0.12">9.1%</text>
<line x1="478.00" y1="87.00" x2="496.80" y2="87.00" stroke="#ff2020" stroke-width="1.6"/>
<text transform="translate(503.70,90.50) scale(0.890,1)" text-anchor="start" font-size="9.70" fill="#2e2e2e" stroke="#2e2e2e" stroke-width="0.12">31.6%</text>
<text transform="translate(134.1,298.2) scale(0.92,1)" text-anchor="middle" font-family="Liberation Serif, serif" font-size="12.2" fill="#111">(<tspan font-weight="bold">a</tspan>)</text>
<text transform="translate(413.9,298.2) scale(0.92,1)" text-anchor="middle" font-family="Liberation Serif, serif" font-size="12.2" fill="#111">(<tspan font-weight="bold">b</tspan>)</text>
</svg></body></html>
